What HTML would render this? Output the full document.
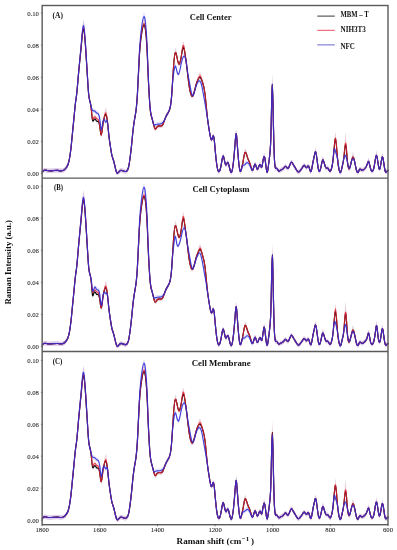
<!DOCTYPE html>
<html><head><meta charset="utf-8"><style>
html,body{margin:0;padding:0;background:#fff;}
svg{display:block;filter:blur(0.3px);}
.ln{fill:none;stroke-width:1.15;stroke-linejoin:round;stroke-linecap:round;}
.tk{font-family:"Liberation Serif",serif;font-size:6.7px;fill:#1a1a1a;stroke:#444;stroke-width:0.08px;}
.bt{font-family:"Liberation Serif",serif;font-weight:bold;fill:#111;}
</style></head><body>
<svg width="397" height="550" viewBox="0 0 397 550">
<rect width="397" height="550" fill="#fff"/>
<path d="M42.3 169.8C42.8 169.2 43.3 168.7 43.8 168.4C44.3 168.1 44.9 168 45.4 168.1C45.9 168.2 46.5 168.4 47 168.5C47.6 168.6 48.2 168.7 48.8 168.8C49.4 168.8 50 168.8 50.6 168.8C51.2 168.8 51.7 168.7 52.3 168.7C52.9 168.6 53.4 168.6 54 168.5C54.6 168.4 55.1 168.4 55.7 168.4C56.3 168.4 56.8 168.4 57.4 168.4C58 168.4 58.7 168.5 59.3 168.6C59.9 168.7 60.6 168.8 61.2 168.8C62.2 168.8 63.2 168.6 64.2 167.9C64.9 167.4 65.7 166.5 66.4 165.5C66.9 164.8 67.5 164 68 162.5C68.5 161.1 69 159.2 69.5 156.5C70 153.8 70.5 150.3 71 145.9C71.5 141.4 72 136 72.5 130.8C73 125.7 73.5 120.9 74 115.6C74.5 110.4 75 104.7 75.5 100.7C75.87 97.8 76.23 95.9 76.6 92.9C77.27 87.4 77.93 78.4 78.6 71.1C79.43 61.8 80.27 55.5 81.1 45.2C81.93 34.9 82.77 18 83.6 19C84.27 19.9 84.93 32.7 85.6 44.2C86.13 53.4 86.67 62 87.2 71C87.7 79.4 88.2 88 88.7 92.8C89.33 98.9 89.97 98.7 90.6 102.1C90.9 103.7 91.2 106.1 91.5 109.2C91.77 112 92.03 115.3 92.3 117.2C92.8 120.6 93.3 118.9 93.8 117.9C94.3 117 94.8 116.7 95.3 117.2C95.8 117.7 96.3 119 96.8 119.3C97.3 119.6 97.8 119 98.3 119.4C98.8 119.8 99.3 121.4 99.8 124.2C100.3 127 100.8 131.1 101.3 130.9C101.8 130.7 102.3 126.1 102.8 122.5C103.33 118.6 103.87 115.6 104.4 112.6C104.9 109.7 105.4 107 105.9 107.6C106.4 108.2 106.9 111.9 107.4 117.2C107.9 122.4 108.4 128.8 108.9 133.5C109.4 138.1 109.9 141.2 110.4 144.5C110.9 147.7 111.4 151.2 111.9 153.4C112.4 155.6 112.9 156.5 113.4 158C113.9 159.6 114.4 161.8 114.9 164C115.57 166.9 116.23 169.9 116.9 170.8C117.5 171.6 118.1 170.8 118.7 170.1C119.5 169.2 120.2 168.4 121 168.3C121.7 168.2 122.5 168.7 123.2 169C123.7 169.2 124.2 169.4 124.8 169.5C125.3 169.5 125.8 169.5 126.3 169.3C127.03 169 127.77 168.5 128.5 165.5C129 163.4 129.5 160.2 130 156.5C130.53 152.6 131.07 148.1 131.6 142.9C132.1 137.9 132.6 132.3 133.1 127.8C133.6 123.4 134.1 120.1 134.6 117.2C135.1 114.4 135.6 112 136.1 108.1C136.53 104.7 136.97 100.1 137.4 92.9C138.03 82.3 138.67 66.3 139.3 55.4C140.03 42.9 140.77 37.6 141.5 32C142.3 25.8 143.1 17.5 143.9 16.8C144.6 16.2 145.3 22.3 146 31.2C146.47 37.1 146.93 44.4 147.4 55.3C147.57 59.2 147.73 63.5 147.9 67.6C148.13 73.3 148.37 78.4 148.6 82.9C148.83 87.5 149.07 91.4 149.3 95.2C149.47 97.9 149.63 100.6 149.8 102.8C150.2 108.1 150.6 110.9 151 112.8C151.4 114.7 151.8 115.7 152.2 117.1C152.7 118.7 153.2 120.9 153.7 122.9C154.07 124.4 154.43 125.8 154.8 126.5C155.6 127.8 156.3 125.9 157.1 124.8C158.1 123.5 159.1 123.7 160.1 123.9C160.9 124.1 161.8 124.3 162.6 122.9C163.2 121.9 163.7 120.2 164.3 118.6C164.9 116.8 165.6 115.3 166.2 114C166.9 112.5 167.7 111.4 168.4 110.2C169 109.2 169.6 108.1 170.2 105.3C170.7 103 171.2 99.5 171.7 93.1C171.97 89.6 172.23 85.3 172.5 80.9C172.93 73.6 173.37 66 173.8 60C174.33 52.7 174.87 48.1 175.4 47.6C175.87 47.2 176.33 49.9 176.8 52.9C177.4 56.6 178 60.4 178.6 61.6C179.5 63.3 180.4 59.8 181.3 53.2C181.93 48.6 182.57 42.2 183.2 41.5C183.83 40.9 184.47 46 185.1 51C185.6 55 186.1 58.9 186.6 63.1C187.37 69.6 188.13 77 188.9 82.4C189.67 87.8 190.43 91.2 191.2 93C191.6 94 192 94.5 192.4 94.3C193 94 193.6 92.2 194.2 90C195 87.1 195.8 83.6 196.6 80.5C197.2 78.1 197.9 75.8 198.5 74.1C199.1 72.6 199.7 71.9 200.3 72.8C201 73.8 201.6 76.5 202.3 78.8C203.2 81.8 204.1 84.4 205 91.7C205.47 95.5 205.93 100.6 206.4 105.5C206.87 110.3 207.33 114.9 207.8 118.7C208.33 123 208.87 126.2 209.4 129.3C209.9 132.3 210.4 135.3 210.9 136.8C211.2 137.8 211.6 138.2 211.9 137.5C212.3 136.7 212.7 134.3 213.1 133.8C213.5 133.4 213.9 135 214.3 138.4C214.67 141.5 215.03 146.2 215.4 150.3C215.9 155.9 216.4 160.3 216.9 163.5C217.47 167.1 218.03 169.1 218.6 169.6C219.1 170 219.5 169.4 220 168C220.4 166.8 220.8 165 221.2 162.8C221.9 158.8 222.6 153.6 223.3 154C223.7 154.3 224.1 156.4 224.5 158.5C224.87 160.4 225.23 162.2 225.6 162.8C226.4 164 227.1 160 227.9 160.4C228.5 160.8 229.1 163.9 229.7 166.5C230.33 169.2 230.97 171.2 231.6 170.2C232.23 169.2 232.87 165.2 233.5 159.5C234 155 234.5 149.3 235 141.5C235.37 135.8 235.73 129 236.1 128.7C236.5 128.3 236.9 135.4 237.3 141.7C237.8 149.6 238.3 156.1 238.8 161C239.27 165.5 239.73 168.6 240.2 169.3C240.67 170 241.13 168.3 241.6 166.4C242.13 164.1 242.67 161.4 243.2 157.9C243.7 154.6 244.2 150.7 244.7 149.1C245.7 146 246.7 152.3 247.7 155.7C248.5 158.6 249.4 159.6 250.2 162.2C251 164.8 251.9 168.9 252.7 168.2C253.5 167.4 254.4 161.9 255.2 162.2C255.9 162.5 256.5 166.6 257.2 167.2C257.7 167.7 258.3 166 258.8 164.5C259.3 163.1 259.8 162 260.3 162.7C260.8 163.5 261.3 166.1 261.8 165.1C262.23 164.2 262.67 160.5 263.1 157.4C263.43 155 263.77 152.9 264.1 152.6C264.53 152.1 264.97 155 265.4 158.8C265.9 163.2 266.4 168.8 266.9 169.9C267.33 170.9 267.77 168.6 268.2 165.5C268.53 163.2 268.87 160.4 269.2 157.7C269.53 155 269.87 152.5 270.2 148.3C270.4 145.8 270.6 142.8 270.8 136.6C270.93 132.5 271.07 127 271.2 120.4C271.33 113.7 271.47 105.9 271.6 98.3C271.83 85.2 272.07 73.3 272.3 73.2C272.53 73.2 272.77 85 273 98.1C273.13 105.5 273.27 113.3 273.4 120.2C273.53 127.1 273.67 133.2 273.8 138.6C273.9 142.7 274 146.5 274.1 149.5C274.3 155.6 274.5 158.9 274.7 161.2C275.27 167.8 275.83 166.3 276.4 166.2C277.2 166.1 277.9 168.5 278.7 169C279.3 169.4 279.9 168.6 280.5 168.2C281 167.9 281.5 167.7 282 167.5C282.6 167.2 283.2 166.8 283.8 166C284.3 165.3 284.9 164.2 285.4 164.2C285.9 164.2 286.3 165 286.8 165.6C287.2 166.1 287.7 166.5 288.1 166.3C288.7 166 289.2 164.5 289.8 163C290.3 161.6 290.9 160.1 291.4 160C291.9 159.9 292.3 160.9 292.8 161.8C293.2 162.5 293.7 163.2 294.1 163.9C294.8 165 295.5 166.3 296.2 167.5C296.9 168.8 297.7 169.9 298.4 170C299 170 299.6 169.4 300.2 168.6C300.9 167.7 301.7 166.7 302.4 165.5C303 164.4 303.7 163.2 304.3 163.4C305 163.7 305.7 165.7 306.4 165.7C307.1 165.6 307.9 163.2 308.6 164.2C309.4 165.3 310.2 170.5 311 169.5C311.6 168.7 312.2 164.4 312.8 161.1C313.33 158.1 313.87 155.9 314.4 152.7C314.8 150.4 315.2 147.5 315.6 147.8C316.03 148.1 316.47 152.1 316.9 155.9C317.4 160.4 317.9 164.7 318.4 167C318.8 169 319.2 169.6 319.6 169.3C320.13 168.9 320.67 166.7 321.2 163.6C321.7 160.7 322.2 156.6 322.7 156C323.2 155.5 323.7 158.4 324.2 160.6C324.7 162.8 325.2 164.6 325.7 165.5C326.5 166.7 327.2 165.6 328 166.3C328.7 167.1 329.5 169.6 330.2 169.3C330.6 169.1 331.1 168 331.5 166.5C331.93 165.1 332.37 163.3 332.8 159.9C333.2 156.8 333.6 152.4 334 147.1C334.5 140.4 335 131.5 335.5 131.9C336.17 132.4 336.83 148.2 337.5 156.1C338.1 163.3 338.7 166.6 339.3 168.6C339.8 170.4 340.3 171.1 340.8 170.1C341.3 169 341.8 166.2 342.3 164.1C342.8 162 343.3 160.9 343.8 155.2C344.37 148.8 344.93 132.9 345.5 132.6C346.2 132.2 346.9 153.4 347.6 160.5C348.23 167 348.87 167.6 349.5 166.5C350.13 165.4 350.77 162.6 351.4 159C351.9 156.1 352.4 152.2 352.9 152C353.47 151.8 354.03 156 354.6 159.2C355.2 162.5 355.8 165.8 356.4 168C357 170.1 357.6 170.9 358.2 170.1C358.7 169.4 359.2 167.6 359.7 167.1C360.2 166.6 360.7 167.4 361.2 167.8C361.9 168.4 362.7 168.2 363.4 167.8C364.2 167.4 364.9 166.6 365.7 165.5C366.2 164.8 366.7 163.9 367.2 162.1C367.7 160.2 368.2 157 368.7 157.5C369.2 158.1 369.7 162.5 370.2 165.1C370.83 168.3 371.47 169.2 372.1 169.3C372.73 169.4 373.37 168.6 374 165.4C374.5 163 375 159 375.5 155.3C375.87 152.6 376.23 150.1 376.6 150.5C377 151 377.4 155 377.8 158.5C378.3 162.8 378.8 166.4 379.3 167.1C379.8 167.7 380.3 165.6 380.8 162.1C381.3 158.7 381.8 153.5 382.3 153C382.8 152.6 383.3 156.8 383.8 160.7C384.2 163.8 384.6 166.9 385 168.5C385.63 171.1 386.27 169.9 386.9 169.3C387.3 168.9 387.7 168.8 388.1 168.6L388.1 172.6C387.7 172.8 387.3 172.9 386.9 173.3C386.27 173.9 385.63 175.1 385 172.5C384.6 170.9 384.2 167.8 383.8 165C383.3 161.5 382.8 158.6 382.3 159C381.8 159.5 381.3 163.4 380.8 166.5C380.3 169.5 379.8 171.7 379.3 171.1C378.8 170.4 378.3 166.9 377.8 163.5C377.4 160.7 377 158 376.6 157.5C376.23 157.1 375.87 158.5 375.5 160.5C375 163.2 374.5 167 374 169.4C373.37 172.5 372.73 173.4 372.1 173.3C371.47 173.2 370.83 172.1 370.2 169.4C369.7 167.3 369.2 164.1 368.7 163.5C368.2 163 367.7 165 367.2 166.4C366.7 167.9 366.2 168.8 365.7 169.5C364.9 170.6 364.2 171.4 363.4 171.8C362.7 172.2 361.9 172.4 361.2 171.8C360.7 171.4 360.2 170.6 359.7 171.1C359.2 171.6 358.7 173.4 358.2 174.1C357.6 174.9 357 174.1 356.4 172C355.8 169.8 355.2 166.3 354.6 163.5C354.03 160.8 353.47 158.8 352.9 159C352.4 159.2 351.9 161.3 351.4 163.5C350.77 166.3 350.13 169.4 349.5 170.5C348.87 171.6 348.23 170.6 347.6 164.9C346.9 158.5 346.2 146.2 345.5 146.6C344.93 146.9 344.37 155.4 343.8 160.3C343.3 164.6 342.8 166 342.3 168.1C341.8 170.2 341.3 173 340.8 174.1C340.3 175.1 339.8 174.4 339.3 172.6C338.7 170.6 338.1 167.1 337.5 160.4C336.83 152.9 336.17 141.4 335.5 140.9C335 140.5 334.5 146.3 334 151.9C333.6 156.4 333.2 160.8 332.8 163.9C332.37 167.3 331.93 169.1 331.5 170.5C331.1 172 330.6 173.1 330.2 173.3C329.5 173.6 328.7 171.1 328 170.3C327.2 169.6 326.5 170.7 325.7 169.5C325.2 168.6 324.7 166.8 324.2 165C323.7 163.2 323.2 161.5 322.7 162C322.2 162.6 321.7 165.5 321.2 168C320.67 170.6 320.13 172.9 319.6 173.3C319.2 173.6 318.8 173 318.4 171.1C317.9 168.7 317.4 164.4 316.9 160.5C316.47 157.1 316.03 154.1 315.6 153.8C315.2 153.5 314.8 155.5 314.4 157.4C313.87 159.9 313.33 162.1 312.8 165.1C312.2 168.4 311.6 172.7 311 173.5C310.2 174.5 309.4 169.3 308.6 168.2C307.9 167.2 307.1 169.6 306.4 169.7C305.7 169.7 305 167.7 304.3 167.4C303.7 167.2 303 168.4 302.4 169.5C301.7 170.7 300.9 171.7 300.2 172.6C299.6 173.4 299 174 298.4 174C297.7 173.9 296.9 172.8 296.2 171.5C295.5 170.3 294.8 169 294.1 167.9C293.7 167.2 293.2 166.5 292.8 165.8C292.3 164.9 291.9 163.9 291.4 164C290.9 164.1 290.3 165.6 289.8 167C289.2 168.5 288.7 170 288.1 170.3C287.7 170.5 287.2 170.1 286.8 169.6C286.3 169 285.9 168.2 285.4 168.2C284.9 168.2 284.3 169.3 283.8 170C283.2 170.8 282.6 171.2 282 171.5C281.5 171.7 281 171.9 280.5 172.2C279.9 172.6 279.3 173.4 278.7 173C277.9 172.5 277.2 170.1 276.4 170.2C275.83 170.3 275.27 171.8 274.7 165.2C274.5 162.9 274.3 159.6 274.1 153.6C274 150.6 273.9 146.9 273.8 143C273.67 137.8 273.53 132.1 273.4 125.9C273.27 119.7 273.13 112.9 273 106.6C272.77 95.6 272.53 86.2 272.3 86.2C272.07 86.3 271.83 95.8 271.6 106.9C271.47 113.2 271.33 120.1 271.2 126.1C271.07 132 270.93 137.2 270.8 141C270.6 146.8 270.4 149.9 270.2 152.3C269.87 156.4 269.53 159 269.2 161.7C268.87 164.4 268.53 167.2 268.2 169.5C267.77 172.6 267.33 174.9 266.9 173.9C266.4 172.8 265.9 167.3 265.4 163.6C264.97 160.3 264.53 158.3 264.1 158.5C263.77 158.7 263.43 160.1 263.1 162.1C262.67 164.7 262.23 168.3 261.8 169.1C261.3 170.1 260.8 167.5 260.3 166.7C259.8 166 259.3 167.1 258.8 168.5C258.3 170 257.7 171.7 257.2 171.2C256.5 170.6 255.9 166.5 255.2 166.2C254.4 165.9 253.5 171.4 252.7 172.2C251.9 172.9 251 168.8 250.2 166.2C249.4 163.6 248.5 162.5 247.7 160.1C246.7 157.1 245.7 152.2 244.7 155.1C244.2 156.6 243.7 160.1 243.2 162.9C242.67 166 242.13 168.4 241.6 170.6C241.1 172.4 240.7 174 240.2 173.3C239.73 172.6 239.27 169.5 238.8 165C238.3 160.2 237.8 153.7 237.3 146.7C236.9 141.1 236.5 135.3 236.1 135.7C235.73 136 235.37 141.7 235 146.6C234.5 153.4 234 159 233.5 163.5C232.87 169.2 232.23 173.2 231.6 174.2C230.97 175.2 230.33 173.2 229.7 170.5C229.1 167.9 228.5 164.8 227.9 164.4C227.1 164 226.4 168 225.6 166.8C225.23 166.2 224.87 164.4 224.5 162.5C224.1 160.4 223.7 158.3 223.3 158C222.6 157.6 221.9 162.8 221.2 166.8C220.8 169 220.4 170.8 220 172C219.5 173.4 219.1 174 218.6 173.6C218.03 173.1 217.47 171.1 216.9 167.5C216.4 164.3 215.9 159.9 215.4 154.3C215.03 150.2 214.67 145.5 214.3 142.4C213.9 139 213.5 137.4 213.1 137.8C212.7 138.3 212.3 140.7 211.9 141.5C211.6 142.2 211.2 141.8 210.9 140.8C210.4 139.3 209.9 136.3 209.4 133.3C208.87 130.2 208.33 127 207.8 122.7C207.33 118.9 206.87 114.3 206.4 109.5C205.93 104.6 205.47 99.5 205 95.7C204.1 88.4 203.2 85.9 202.3 83.5C201.6 81.7 201 80 200.3 79.5C199.7 79 199.1 79.6 198.5 80.5C197.9 81.5 197.2 83 196.6 85C195.8 87.6 195 91.1 194.2 94C193.6 96.2 193 98 192.4 98.3C192 98.5 191.6 98 191.2 97C190.43 95.2 189.67 91.8 188.9 86.4C188.13 81 187.37 73.6 186.6 67.2C186.1 63.1 185.6 59.4 185.1 56.2C184.47 52.1 183.83 48.9 183.2 49.5C182.57 50.2 181.93 54.7 181.3 58.4C180.4 63.6 179.5 67.3 178.6 65.7C178 64.6 177.4 61.3 176.8 58.4C176.33 56.1 175.87 54.2 175.4 54.6C174.87 55.1 174.33 58.7 173.8 65.3C173.37 70.6 172.93 77.9 172.5 85C172.23 89.4 171.97 93.7 171.7 97.1C171.2 103.5 170.7 107 170.2 109.3C169.6 112.1 169 113.2 168.4 114.2C167.7 115.4 166.9 116.5 166.2 118C165.6 119.3 164.9 120.8 164.3 122.6C163.7 124.2 163.2 125.9 162.6 126.9C161.8 128.3 160.9 128.1 160.1 127.9C159.1 127.7 158.1 127.5 157.1 128.8C156.3 129.9 155.6 131.8 154.8 130.5C154.43 129.8 154.07 128.4 153.7 126.9C153.2 124.9 152.7 122.7 152.2 121.1C151.8 119.7 151.4 118.7 151 116.8C150.6 114.9 150.2 112.1 149.8 106.8C149.63 104.6 149.47 101.9 149.3 99.2C149.07 95.4 148.83 91.5 148.6 86.9C148.37 82.4 148.13 77.3 147.9 71.6C147.73 67.6 147.57 63.3 147.4 59.4C146.93 48.6 146.47 41.6 146 36.7C145.3 29.3 144.6 26.5 143.9 26.8C143.1 27.1 142.3 31.5 141.5 36.7C140.77 41.4 140.03 46.9 139.3 59.4C138.67 70.3 138.03 86.3 137.4 96.9C136.97 104.1 136.53 108.7 136.1 112.1C135.6 116 135.1 118.4 134.6 121.2C134.1 124.1 133.6 127.4 133.1 131.8C132.6 136.3 132.1 141.9 131.6 146.9C131.07 152.1 130.53 156.6 130 160.5C129.5 164.2 129 167.4 128.5 169.5C127.77 172.5 127.03 173 126.3 173.3C125.8 173.5 125.3 173.5 124.8 173.5C124.2 173.4 123.7 173.2 123.2 173C122.5 172.7 121.7 172.2 121 172.3C120.2 172.4 119.5 173.2 118.7 174.1C118.1 174.8 117.5 175.6 116.9 174.8C116.23 173.9 115.57 170.9 114.9 168C114.4 165.8 113.9 163.6 113.4 162C112.9 160.5 112.4 159.6 111.9 157.4C111.4 155.2 110.9 151.7 110.4 148.5C109.9 145.2 109.4 142.1 108.9 137.7C108.4 133.3 107.9 127.5 107.4 123.5C106.9 119.4 106.4 117.2 105.9 116.6C105.4 116 104.9 117.2 104.4 118.9C103.87 120.7 103.33 123.1 102.8 127.3C102.3 131.3 101.8 136.7 101.3 136.9C100.8 137.1 100.3 132.1 99.8 128.8C99.3 125.5 98.8 123.9 98.3 123.4C97.8 123 97.3 123.6 96.8 123.3C96.3 123 95.8 121.7 95.3 121.2C94.8 120.7 94.3 121 93.8 121.9C93.3 122.9 92.8 124.6 92.3 121.2C92.03 119.3 91.77 116 91.5 113.2C91.2 110.1 90.9 107.7 90.6 106.1C89.97 102.7 89.33 102.9 88.7 96.8C88.2 92 87.7 83.4 87.2 75.1C86.67 66.2 86.13 57.9 85.6 50.2C84.93 40.5 84.27 31.9 83.6 31C82.77 30 81.93 41.2 81.1 50.1C80.27 59.1 79.43 65.8 78.6 75.1C77.93 82.4 77.27 91.4 76.6 96.9C76.23 99.9 75.87 101.8 75.5 104.7C75 108.7 74.5 114.4 74 119.6C73.5 124.9 73 129.7 72.5 134.8C72 140 71.5 145.4 71 149.9C70.5 154.3 70 157.8 69.5 160.5C69 163.2 68.5 165.1 68 166.5C67.5 168 66.9 168.8 66.4 169.5C65.7 170.5 64.9 171.4 64.2 171.9C63.2 172.6 62.2 172.8 61.2 172.8C60.6 172.8 59.9 172.7 59.3 172.6C58.7 172.5 58 172.4 57.4 172.4C56.8 172.4 56.3 172.4 55.7 172.4C55.1 172.4 54.6 172.4 54 172.5C53.4 172.6 52.9 172.6 52.3 172.7C51.7 172.7 51.2 172.8 50.6 172.8C50 172.8 49.4 172.8 48.8 172.8C48.2 172.7 47.6 172.6 47 172.5C46.5 172.4 45.9 172.2 45.4 172.1C44.9 172 44.3 172.1 43.8 172.4C43.3 172.7 42.8 173.2 42.3 173.8Z" fill="#d4d0dc" fill-opacity="0.6"/>
<path d="M42.3 169.6C42.8 169 43.3 168.5 43.8 168.2C44.3 167.9 44.9 167.8 45.4 167.9C45.9 168 46.5 168.2 47 168.3C47.6 168.4 48.2 168.5 48.8 168.6C49.4 168.6 50 168.6 50.6 168.6C51.2 168.6 51.7 168.5 52.3 168.5C52.9 168.4 53.4 168.4 54 168.3C54.6 168.2 55.1 168.2 55.7 168.2C56.3 168.2 56.8 168.2 57.4 168.2C58 168.2 58.7 168.3 59.3 168.4C59.9 168.5 60.6 168.6 61.2 168.6C62.2 168.6 63.2 168.4 64.2 167.7C64.9 167.2 65.7 166.3 66.4 165.3C66.9 164.6 67.5 163.8 68 162.3C68.5 160.9 69 159 69.5 156.3C70 153.6 70.5 150.1 71 145.7C71.5 141.2 72 135.8 72.5 130.6C73 125.5 73.5 120.7 74 115.4C74.5 110.2 75 104.5 75.5 100.5C75.87 97.6 76.23 95.6 76.6 92.6C77.27 87 77.93 78 78.6 70.5C79.43 61.1 80.27 54.4 81.1 44.5C81.93 34.6 82.77 20.3 83.6 21.4C84.27 22.2 84.93 33.1 85.6 43.9C86.13 52.5 86.67 61.2 87.2 70.2C87.7 78.7 88.2 87.5 88.7 92.4C89.33 98.5 89.97 98.3 90.6 101.8C90.9 103.5 91.2 106 91.5 108.9C91.77 111.4 92.03 114.2 92.3 115.7C92.8 118.4 93.3 116.4 93.8 115.4C94.3 114.4 94.8 114.3 95.3 114.8C95.8 115.3 96.3 116.5 96.8 116.7C97.3 117 97.8 116.4 98.3 117.3C98.8 118.3 99.3 120.8 99.8 124.3C100.3 127.7 100.8 132.1 101.3 131.7C101.8 131.4 102.3 126.4 102.8 122.7C103.33 118.8 103.87 116.4 104.4 113.5C104.9 110.7 105.4 107.8 105.9 108.3C106.4 108.9 106.9 113 107.4 118.1C107.9 123.1 108.4 129 108.9 133.4C109.4 137.9 109.9 140.9 110.4 144.2C110.9 147.6 111.4 151 111.9 153.2C112.4 155.4 112.9 156.3 113.4 157.8C113.9 159.4 114.4 161.6 114.9 163.8C115.57 166.7 116.23 169.7 116.9 170.6C117.5 171.4 118.1 170.6 118.7 169.9C119.5 169 120.2 168.2 121 168.1C121.7 168 122.5 168.5 123.2 168.8C123.7 169 124.2 169.2 124.8 169.3C125.3 169.3 125.8 169.3 126.3 169.1C127.03 168.8 127.77 168.3 128.5 165.3C129 163.2 129.5 160 130 156.3C130.53 152.4 131.07 147.9 131.6 142.7C132.1 137.7 132.6 132.1 133.1 127.6C133.6 123.2 134.1 119.8 134.6 117C135.1 114.1 135.6 111.8 136.1 107.8C136.53 104.4 136.97 99.7 137.4 92.5C138.03 81.9 138.67 65.7 139.3 54.7C140.03 42 140.77 36.4 141.5 31.1C142.3 25.2 143.1 18.8 143.9 18.3C144.6 17.8 145.3 22.3 146 30.6C146.47 36.2 146.93 43.5 147.4 54.4C147.57 58.4 147.73 62.8 147.9 66.8C148.13 72.6 148.37 77.7 148.6 82.3C148.83 86.9 149.07 90.9 149.3 94.8C149.47 97.5 149.63 100.2 149.8 102.4C150.2 107.7 150.6 110.6 151 112.5C151.4 114.4 151.8 115.5 152.2 116.8C152.7 118.5 153.2 120.7 153.7 122.7C154.07 124.2 154.43 125.6 154.8 126.3C155.6 127.6 156.3 125.7 157.1 124.6C158.1 123.3 159.1 123.5 160.1 123.7C160.9 123.9 161.8 124.1 162.6 122.7C163.2 121.7 163.7 120 164.3 118.4C164.9 116.6 165.6 115.1 166.2 113.8C166.9 112.3 167.7 111.2 168.4 110C169 109 169.6 107.9 170.2 105.1C170.7 102.8 171.2 99.3 171.7 92.9C171.97 89.4 172.23 85.1 172.5 80.7C172.93 73.6 173.37 66.1 173.8 60.4C174.33 53.5 174.87 49.4 175.4 48.9C175.87 48.5 176.33 50.9 176.8 53.4C177.4 56.7 178 60.2 178.6 61.4C179.5 63.3 180.4 60.4 181.3 53.6C181.93 48.8 182.57 41.9 183.2 41.3C183.83 40.7 184.47 46.4 185.1 51.4C185.6 55.3 186.1 58.9 186.6 63C187.37 69.2 188.13 76.7 188.9 82.2C189.67 87.6 190.43 91 191.2 92.8C191.6 93.8 192 94.3 192.4 94.1C193 93.8 193.6 92 194.2 89.8C195 86.9 195.8 83.2 196.6 80.6C197.2 78.4 197.9 76.8 198.5 75.1C199.1 73.4 199.7 71.8 200.3 72.5C201 73.1 201.6 76.4 202.3 78.9C203.2 82.3 204.1 84.3 205 91.5C205.47 95.3 205.93 100.4 206.4 105.3C206.87 110.1 207.33 114.7 207.8 118.5C208.33 122.8 208.87 126 209.4 129.1C209.9 132.1 210.4 135.1 210.9 136.6C211.2 137.6 211.6 138 211.9 137.3C212.3 136.5 212.7 134.1 213.1 133.6C213.5 133.2 213.9 134.8 214.3 138.2C214.67 141.3 215.03 146 215.4 150.1C215.9 155.7 216.4 160.1 216.9 163.3C217.47 166.9 218.03 168.9 218.6 169.4C219.1 169.8 219.5 169.2 220 167.8C220.4 166.6 220.8 164.8 221.2 162.6C221.9 158.6 222.6 153.4 223.3 153.8C223.7 154.1 224.1 156.2 224.5 158.3C224.87 160.2 225.23 162 225.6 162.6C226.4 163.8 227.1 159.8 227.9 160.2C228.5 160.6 229.1 163.7 229.7 166.3C230.33 169 230.97 171 231.6 170C232.23 169 232.87 165 233.5 159.3C234 154.8 234.5 149.1 235 141.8C235.37 136.5 235.73 130.3 236.1 130C236.5 129.6 236.9 136.1 237.3 142C237.8 149.4 238.3 155.9 238.8 160.8C239.27 165.3 239.73 168.4 240.2 169.1C240.67 169.8 241.13 168.2 241.6 166.3C242.13 164.1 242.67 161.5 243.2 158.2C243.7 155.1 244.2 151.5 244.7 149.9C245.7 146.9 246.7 152.5 247.7 155.7C248.5 158.3 249.4 159.4 250.2 162C251 164.6 251.9 168.7 252.7 168C253.5 167.2 254.4 161.7 255.2 162C255.9 162.3 256.5 166.4 257.2 167C257.7 167.5 258.3 165.8 258.8 164.3C259.3 162.9 259.8 161.8 260.3 162.5C260.8 163.3 261.3 165.9 261.8 164.9C262.23 164 262.67 160.4 263.1 157.5C263.43 155.3 263.77 153.6 264.1 153.4C264.53 153 264.97 155.4 265.4 159C265.9 163.1 266.4 168.6 266.9 169.7C267.33 170.7 267.77 168.4 268.2 165.3C268.53 163 268.87 160.2 269.2 157.5C269.53 154.8 269.87 152.3 270.2 148.1C270.4 145.6 270.6 142.6 270.8 136.6C270.93 132.6 271.07 127.3 271.2 121C271.33 114.7 271.47 107.4 271.6 100.4C271.83 88.3 272.07 77.6 272.3 77.5C272.53 77.5 272.77 88.1 273 100.1C273.13 107 273.27 114.3 273.4 120.9C273.53 127.4 273.67 133.3 273.8 138.6C273.9 142.6 274 146.3 274.1 149.4C274.3 155.4 274.5 158.7 274.7 161C275.27 167.6 275.83 166.1 276.4 166C277.2 165.9 277.9 168.3 278.7 168.8C279.3 169.2 279.9 168.4 280.5 168C281 167.7 281.5 167.5 282 167.3C282.6 167 283.2 166.6 283.8 165.8C284.3 165.1 284.9 164 285.4 164C285.9 164 286.3 164.8 286.8 165.4C287.2 165.9 287.7 166.3 288.1 166.1C288.7 165.8 289.2 164.3 289.8 162.8C290.3 161.4 290.9 159.9 291.4 159.8C291.9 159.7 292.3 160.7 292.8 161.6C293.2 162.3 293.7 163 294.1 163.7C294.8 164.8 295.5 166.1 296.2 167.3C296.9 168.6 297.7 169.7 298.4 169.8C299 169.8 299.6 169.2 300.2 168.4C300.9 167.5 301.7 166.5 302.4 165.3C303 164.2 303.7 163 304.3 163.2C305 163.5 305.7 165.5 306.4 165.5C307.1 165.4 307.9 163 308.6 164C309.4 165.1 310.2 170.3 311 169.3C311.6 168.5 312.2 164.2 312.8 160.9C313.33 157.9 313.87 155.7 314.4 152.9C314.8 150.8 315.2 148.3 315.6 148.6C316.03 148.9 316.47 152.4 316.9 156C317.4 160.2 317.9 164.5 318.4 166.8C318.8 168.8 319.2 169.4 319.6 169.1C320.13 168.7 320.67 166.5 321.2 163.6C321.7 160.9 322.2 157.4 322.7 156.8C323.2 156.3 323.7 158.6 324.2 160.6C324.7 162.6 325.2 164.4 325.7 165.3C326.5 166.5 327.2 165.4 328 166.1C328.7 166.9 329.5 169.4 330.2 169.1C330.6 168.9 331.1 167.8 331.5 166.3C331.93 164.9 332.37 163.1 332.8 159.7C333.2 156.7 333.6 152.3 334 147.3C334.5 141 335 133.1 335.5 133.4C336.17 133.8 336.83 148.1 337.5 156C338.1 163.2 338.7 166.4 339.3 168.4C339.8 170.1 340.3 170.9 340.8 169.9C341.3 168.8 341.8 166 342.3 163.9C342.8 161.9 343.3 160.8 343.8 155.5C344.37 149.5 344.93 136.3 345.5 135.9C346.2 135.4 346.9 153.3 347.6 160.5C348.23 167 348.87 167.5 349.5 166.3C350.13 165.1 350.77 162.2 351.4 159C351.9 156.5 352.4 153.5 352.9 153.3C353.47 153.1 354.03 156.2 354.6 159.1C355.2 162.2 355.8 165.6 356.4 167.8C357 169.9 357.6 170.7 358.2 169.9C358.7 169.2 359.2 167.4 359.7 166.9C360.2 166.4 360.7 167.2 361.2 167.6C361.9 168.2 362.7 168 363.4 167.6C364.2 167.2 364.9 166.4 365.7 165.3C366.2 164.6 366.7 163.7 367.2 162.1C367.7 160.4 368.2 157.8 368.7 158.3C369.2 158.9 369.7 162.7 370.2 165.1C370.83 168 371.47 169 372.1 169.1C372.73 169.2 373.37 168.3 374 165.2C374.5 162.8 375 158.9 375.5 155.7C375.87 153.3 376.23 151.4 376.6 151.8C377 152.3 377.4 155.7 377.8 158.8C378.3 162.7 378.8 166.2 379.3 166.9C379.8 167.5 380.3 165.3 380.8 162.1C381.3 158.8 381.8 154.3 382.3 153.8C382.8 153.4 383.3 157 383.8 160.6C384.2 163.6 384.6 166.7 385 168.3C385.63 170.9 386.27 169.7 386.9 169.1C387.3 168.7 387.7 168.6 388.1 168.4L388.1 172.8C387.7 173 387.3 173.1 386.9 173.5C386.27 174.1 385.63 175.3 385 172.7C384.6 171.1 384.2 168 383.8 165.2C383.3 161.7 382.8 158.8 382.3 159.2C381.8 159.7 381.3 163.6 380.8 166.7C380.3 169.7 379.8 171.9 379.3 171.3C378.8 170.6 378.3 167.1 377.8 163.7C377.4 160.9 377 158.2 376.6 157.7C376.23 157.3 375.87 158.7 375.5 160.7C375 163.4 374.5 167.2 374 169.6C373.37 172.7 372.73 173.6 372.1 173.5C371.47 173.4 370.83 172.3 370.2 169.6C369.7 167.5 369.2 164.3 368.7 163.7C368.2 163.2 367.7 165.2 367.2 166.6C366.7 168.1 366.2 169 365.7 169.7C364.9 170.8 364.2 171.6 363.4 172C362.7 172.4 361.9 172.6 361.2 172C360.7 171.6 360.2 170.8 359.7 171.3C359.2 171.8 358.7 173.6 358.2 174.3C357.6 175.1 357 174.3 356.4 172.2C355.8 170 355.2 166.5 354.6 163.7C354.03 161 353.47 159 352.9 159.2C352.4 159.4 351.9 161.5 351.4 163.7C350.77 166.5 350.13 169.5 349.5 170.7C348.87 171.9 348.23 171.2 347.6 165C346.9 158.2 346.2 144.8 345.5 145.3C344.93 145.7 344.37 155.3 343.8 160.5C343.3 165.1 342.8 166.3 342.3 168.3C341.8 170.4 341.3 173.2 340.8 174.3C340.3 175.3 339.8 174.5 339.3 172.8C338.7 170.8 338.1 167.5 337.5 160.6C336.83 152.8 336.17 140.7 335.5 140.3C335 140 334.5 146.3 334 152.1C333.6 156.8 333.2 161.1 332.8 164.1C332.37 167.4 331.93 169.3 331.5 170.7C331.1 172.2 330.6 173.3 330.2 173.5C329.5 173.8 328.7 171.3 328 170.5C327.2 169.8 326.5 170.9 325.7 169.7C325.2 168.8 324.7 167 324.2 165.2C323.7 163.4 323.2 161.7 322.7 162.2C322.2 162.8 321.7 165.7 321.2 168.2C320.67 170.8 320.13 173.1 319.6 173.5C319.2 173.8 318.8 173.2 318.4 171.3C317.9 168.9 317.4 164.6 316.9 160.7C316.47 157.3 316.03 154.3 315.6 154C315.2 153.7 314.8 155.7 314.4 157.6C313.87 160.1 313.33 162.3 312.8 165.3C312.2 168.6 311.6 172.9 311 173.7C310.2 174.7 309.4 169.5 308.6 168.4C307.9 167.4 307.1 169.8 306.4 169.9C305.7 169.9 305 167.9 304.3 167.6C303.7 167.4 303 168.6 302.4 169.7C301.7 170.9 300.9 171.9 300.2 172.8C299.6 173.6 299 174.2 298.4 174.2C297.7 174.1 296.9 173 296.2 171.7C295.5 170.5 294.8 169.2 294.1 168.1C293.7 167.4 293.2 166.7 292.8 166C292.3 165.1 291.9 164.1 291.4 164.2C290.9 164.3 290.3 165.8 289.8 167.2C289.2 168.7 288.7 170.2 288.1 170.5C287.7 170.7 287.2 170.3 286.8 169.8C286.3 169.2 285.9 168.4 285.4 168.4C284.9 168.4 284.3 169.5 283.8 170.2C283.2 171 282.6 171.4 282 171.7C281.5 171.9 281 172.1 280.5 172.4C279.9 172.8 279.3 173.6 278.7 173.2C277.9 172.7 277.2 170.3 276.4 170.4C275.83 170.5 275.27 172 274.7 165.4C274.5 163.1 274.3 159.8 274.1 153.8C274 150.8 273.9 147.1 273.8 143.2C273.67 138 273.53 132.3 273.4 126.1C273.27 119.9 273.13 113.1 273 106.8C272.77 95.8 272.53 86.4 272.3 86.4C272.07 86.5 271.83 96 271.6 107.1C271.47 113.4 271.33 120.3 271.2 126.3C271.07 132.2 270.93 137.4 270.8 141.2C270.6 147 270.4 150.1 270.2 152.5C269.87 156.6 269.53 159.2 269.2 161.9C268.87 164.6 268.53 167.4 268.2 169.7C267.77 172.8 267.33 175.1 266.9 174.1C266.4 173 265.9 167.5 265.4 163.8C264.97 160.5 264.53 158.5 264.1 158.7C263.77 158.9 263.43 160.3 263.1 162.3C262.67 164.9 262.23 168.5 261.8 169.3C261.3 170.3 260.8 167.7 260.3 166.9C259.8 166.2 259.3 167.3 258.8 168.7C258.3 170.2 257.7 171.9 257.2 171.4C256.5 170.8 255.9 166.7 255.2 166.4C254.4 166.1 253.5 171.6 252.7 172.4C251.9 173.1 251 169 250.2 166.4C249.4 163.8 248.5 162.7 247.7 160.3C246.7 157.3 245.7 152.4 244.7 155.3C244.2 156.8 243.7 160.3 243.2 163.1C242.67 166.2 242.13 168.6 241.6 170.8C241.1 172.6 240.7 174.2 240.2 173.5C239.73 172.8 239.27 169.7 238.8 165.2C238.3 160.4 237.8 153.9 237.3 146.9C236.9 141.3 236.5 135.5 236.1 135.9C235.73 136.2 235.37 141.9 235 146.8C234.5 153.6 234 159.2 233.5 163.7C232.87 169.4 232.23 173.4 231.6 174.4C230.97 175.4 230.33 173.4 229.7 170.7C229.1 168.1 228.5 165 227.9 164.6C227.1 164.2 226.4 168.2 225.6 167C225.23 166.4 224.87 164.6 224.5 162.7C224.1 160.6 223.7 158.5 223.3 158.2C222.6 157.8 221.9 163 221.2 167C220.8 169.2 220.4 171 220 172.2C219.5 173.6 219.1 174.2 218.6 173.8C218.03 173.3 217.47 171.3 216.9 167.7C216.4 164.5 215.9 160.1 215.4 154.5C215.03 150.4 214.67 145.7 214.3 142.6C213.9 139.2 213.5 137.6 213.1 138C212.7 138.5 212.3 140.9 211.9 141.7C211.6 142.4 211.2 142 210.9 141C210.4 139.5 209.9 136.5 209.4 133.5C208.87 130.4 208.33 127.2 207.8 122.9C207.33 119.1 206.87 114.5 206.4 109.7C205.93 104.8 205.47 99.7 205 96C204.1 88.7 203.2 86.7 202.3 83.7C201.6 81.4 201 78.6 200.3 78.2C199.7 77.8 199.1 79.3 198.5 80.7C197.9 82.1 197.2 83.3 196.6 85.2C195.8 87.7 195 91.3 194.2 94.2C193.6 96.4 193 98.2 192.4 98.5C192 98.7 191.6 98.2 191.2 97.2C190.43 95.4 189.67 92 188.9 86.6C188.13 81.1 187.37 73.6 186.6 67.4C186.1 63.4 185.6 59.9 185.1 56.3C184.47 51.8 183.83 47.1 183.2 47.7C182.57 48.3 181.93 54.2 181.3 58.5C180.4 64.7 179.5 67.7 178.6 65.9C178 64.7 177.4 61.4 176.8 58.6C176.33 56.4 175.87 54.4 175.4 54.8C174.87 55.3 174.33 58.9 173.8 65.5C173.37 70.8 172.93 78.1 172.5 85.2C172.23 89.6 171.97 93.9 171.7 97.3C171.2 103.7 170.7 107.2 170.2 109.5C169.6 112.3 169 113.4 168.4 114.4C167.7 115.6 166.9 116.7 166.2 118.2C165.6 119.5 164.9 121 164.3 122.8C163.7 124.4 163.2 126.1 162.6 127.1C161.8 128.5 160.9 128.3 160.1 128.1C159.1 127.9 158.1 127.7 157.1 129C156.3 130.1 155.6 132 154.8 130.7C154.43 130 154.07 128.6 153.7 127.1C153.2 125.1 152.7 122.9 152.2 121.2C151.8 119.9 151.4 118.8 151 116.9C150.6 115 150.2 112.1 149.8 106.8C149.63 104.6 149.47 101.9 149.3 99.2C149.07 95.3 148.83 91.3 148.6 86.7C148.37 82.1 148.13 77 147.9 71.3C147.73 67.2 147.57 62.8 147.4 58.9C146.93 48 146.47 40.8 146 35.8C145.3 28.2 144.6 25.4 143.9 25.7C143.1 26 142.3 30.5 141.5 35.8C140.77 40.7 140.03 46.4 139.3 59.1C138.67 70.1 138.03 86.3 137.4 96.9C136.97 104.1 136.53 108.8 136.1 112.2C135.6 116.2 135.1 118.5 134.6 121.4C134.1 124.2 133.6 127.6 133.1 132C132.6 136.5 132.1 142.1 131.6 147.1C131.07 152.3 130.53 156.8 130 160.7C129.5 164.4 129 167.6 128.5 169.7C127.77 172.7 127.03 173.2 126.3 173.5C125.8 173.7 125.3 173.7 124.8 173.7C124.2 173.6 123.7 173.4 123.2 173.2C122.5 172.9 121.7 172.4 121 172.5C120.2 172.6 119.5 173.4 118.7 174.3C118.1 175 117.5 175.8 116.9 175C116.23 174.1 115.57 171.1 114.9 168.2C114.4 166 113.9 163.8 113.4 162.2C112.9 160.7 112.4 159.8 111.9 157.6C111.4 155.4 110.9 152 110.4 148.7C109.9 145.4 109.4 142.3 108.9 137.9C108.4 133.6 107.9 128.1 107.4 123.6C106.9 119.2 106.4 115.8 105.9 115.2C105.4 114.7 104.9 116.9 104.4 119C103.87 121.3 103.33 123.5 102.8 127.5C102.3 131.4 101.8 136.8 101.3 137.1C100.8 137.5 100.3 132.7 99.8 129C99.3 125.3 98.8 122.7 98.3 121.8C97.8 120.8 97.3 121.4 96.8 121.1C96.3 120.9 95.8 119.7 95.3 119.2C94.8 118.7 94.3 118.8 93.8 119.8C93.3 120.8 92.8 122.8 92.3 120.1C92.03 118.6 91.77 115.8 91.5 113.3C91.2 110.4 90.9 107.9 90.6 106.2C89.97 102.7 89.33 102.9 88.7 96.8C88.2 91.9 87.7 83.1 87.2 74.7C86.67 65.7 86.13 57.2 85.6 49.3C84.93 39.4 84.27 30.6 83.6 29.8C82.77 28.7 81.93 40.2 81.1 49.4C80.27 58.5 79.43 65.5 78.6 74.9C77.93 82.4 77.27 91.4 76.6 97C76.23 100 75.87 102 75.5 104.9C75 108.9 74.5 114.6 74 119.8C73.5 125.1 73 129.9 72.5 135C72 140.2 71.5 145.6 71 150.1C70.5 154.5 70 158 69.5 160.7C69 163.4 68.5 165.3 68 166.7C67.5 168.2 66.9 169 66.4 169.7C65.7 170.7 64.9 171.6 64.2 172.1C63.2 172.8 62.2 173 61.2 173C60.6 173 59.9 172.9 59.3 172.8C58.7 172.7 58 172.6 57.4 172.6C56.8 172.6 56.3 172.6 55.7 172.6C55.1 172.6 54.6 172.6 54 172.7C53.4 172.8 52.9 172.8 52.3 172.9C51.7 172.9 51.2 173 50.6 173C50 173 49.4 173 48.8 173C48.2 172.9 47.6 172.8 47 172.7C46.5 172.6 45.9 172.4 45.4 172.3C44.9 172.2 44.3 172.3 43.8 172.6C43.3 172.9 42.8 173.4 42.3 174Z" fill="#f8c0c8" fill-opacity="0.5"/>
<path d="M42.3 169.6C42.8 169 43.3 168.5 43.8 168.2C44.3 167.9 44.9 167.8 45.4 167.9C45.9 168 46.5 168.2 47 168.3C47.6 168.4 48.2 168.5 48.8 168.6C49.4 168.6 50 168.6 50.6 168.6C51.2 168.6 51.7 168.5 52.3 168.5C52.9 168.4 53.4 168.4 54 168.3C54.6 168.2 55.1 168.2 55.7 168.2C56.3 168.2 56.8 168.2 57.4 168.2C58 168.2 58.7 168.3 59.3 168.4C59.9 168.5 60.6 168.6 61.2 168.6C62.2 168.6 63.2 168.4 64.2 167.7C64.9 167.2 65.7 166.3 66.4 165.3C66.9 164.6 67.5 163.8 68 162.3C68.5 160.9 69 159 69.5 156.3C70 153.6 70.5 150.1 71 145.7C71.5 141.2 72 135.8 72.5 130.6C73 125.5 73.5 120.7 74 115.4C74.5 110.1 75 104.4 75.5 100.4C75.87 97.5 76.23 95.5 76.6 92.4C77.27 86.8 77.93 77.7 78.6 70C79.43 60.4 80.27 53.2 81.1 43.3C81.93 33.4 82.77 19.9 83.6 21C84.27 21.8 84.93 32.1 85.6 42.8C86.13 51.4 86.67 60.3 87.2 69.4C87.7 78 88.2 86.8 88.7 92C89.33 98.6 89.97 99.2 90.6 101.7C90.9 102.9 91.2 104.5 91.5 105.7C91.8 106.8 92 107.5 92.3 107.9C93 109.1 93.8 108.4 94.5 108.7C95.3 109 96 110.4 96.8 110.9C97.3 111.2 97.8 111.1 98.3 111.7C98.8 112.2 99.3 113.4 99.8 117C100.3 120.5 100.8 126.4 101.3 126.9C101.8 127.4 102.3 122.6 102.8 119.9C103.33 117 103.87 116.6 104.4 117C104.9 117.5 105.4 118.8 105.9 118.4C106.4 118.1 106.9 116 107.4 118.6C107.9 121.2 108.4 128.4 108.9 133.4C109.4 138.3 109.9 141.1 110.4 144.3C110.9 147.4 111.4 151 111.9 153.2C112.4 155.4 112.9 156.3 113.4 157.8C113.9 159.4 114.4 161.6 114.9 163.8C115.57 166.7 116.23 169.7 116.9 170.6C117.5 171.4 118.1 170.6 118.7 169.9C119.5 169 120.2 168.2 121 168.1C121.7 168 122.5 168.5 123.2 168.8C123.7 169 124.2 169.2 124.8 169.3C125.3 169.3 125.8 169.3 126.3 169.1C127.03 168.8 127.77 168.3 128.5 165.3C129 163.2 129.5 160 130 156.3C130.53 152.4 131.07 147.9 131.6 142.6C132.1 137.7 132.6 132.1 133.1 127.6C133.6 123.1 134.1 119.7 134.6 116.8C135.1 113.9 135.6 111.5 136.1 107.4C136.53 103.8 136.97 99 137.4 91.5C138.03 80.5 138.67 63.6 139.3 51.9C140.03 38.3 140.77 31.7 141.5 25.8C142.3 19.2 143.1 12.9 143.9 12.5C144.6 12.1 145.3 16.4 146 25.3C146.47 31.1 146.93 39.1 147.4 50.7C147.57 54.9 147.73 59.6 147.9 63.9C148.13 70 148.37 75.4 148.6 80.2C148.83 85.1 149.07 89.3 149.3 93.3C149.47 96.2 149.63 99 149.8 101.3C150.2 106.9 150.6 109.9 151 111.9C151.4 113.9 151.8 114.9 152.2 116.6C152.7 118.6 153.2 121.6 153.7 122.4C153.9 122.8 154.2 122.8 154.4 122.7C155.3 122.5 156.2 122.1 157.1 122C158.1 121.8 159.1 121.9 160.1 121.8C161 121.7 161.9 121.4 162.8 120.5C163.3 120 163.8 119.4 164.3 118.4C164.9 117.1 165.6 115.2 166.2 113.8C166.9 112.2 167.7 111.2 168.4 110C169 109 169.6 107.9 170.2 105.1C170.7 102.8 171.2 99.5 171.7 92.7C171.97 89.1 172.23 84.6 172.5 81.1C172.93 75.4 173.37 72.5 173.8 69.6C174.23 66.7 174.67 63.8 175.1 63.2C175.67 62.4 176.23 65.6 176.8 68.1C177.4 70.8 178 72.6 178.6 72.1C179.5 71.2 180.4 65.4 181.3 60.7C182.23 55.8 183.17 52.5 184.1 53C184.7 53.3 185.3 54.7 185.9 57.9C186.63 61.9 187.37 68.7 188.1 73C188.43 75 188.77 76.4 189.1 78.2C189.8 81.8 190.5 86.6 191.2 89.8C191.6 91.6 192 92.9 192.4 93.3C193 93.9 193.5 92.8 194.1 91.1C194.6 89.4 195.2 87.1 195.7 85.2C196.4 82.7 197.1 80.6 197.8 79.3C198.3 78.3 198.9 77.8 199.4 77.8C200 77.8 200.6 78.6 201.2 80.8C201.9 83.3 202.6 87.5 203.3 91.4C204 95.4 204.7 99.2 205.4 103.3C206.2 108 207 113.1 207.8 118.5C208.33 122.1 208.87 125.8 209.4 129.1C209.9 132.3 210.4 135.1 210.9 136.6C211.2 137.6 211.6 138 211.9 137.3C212.3 136.5 212.7 134.1 213.1 133.6C213.5 133.2 213.9 134.8 214.3 138.2C214.67 141.3 215.03 146 215.4 150.1C215.9 155.7 216.4 160.1 216.9 163.3C217.47 166.9 218.03 168.9 218.6 169.4C219.1 169.8 219.5 169.2 220 167.8C220.4 166.6 220.8 164.8 221.2 162.6C221.9 158.6 222.6 153.4 223.3 153.8C223.7 154.1 224.1 156.2 224.5 158.3C224.87 160.2 225.23 162 225.6 162.6C226.4 163.8 227.1 159.8 227.9 160.2C228.5 160.6 229.1 163.7 229.7 166.3C230.33 169 230.97 171 231.6 170C232.23 169 232.87 165 233.5 159.3C234 154.8 234.5 149.2 235 142.1C235.37 136.9 235.73 130.9 236.1 130.6C236.5 130.2 236.9 136.4 237.3 142.2C237.8 149.4 238.3 156 238.8 160.8C239.27 165.3 239.73 168.4 240.2 169.1C240.67 169.8 241.13 168.2 241.6 166.2C241.93 164.8 242.27 163.3 242.6 162.7C242.9 162.1 243.3 162.5 243.6 162.6C244.3 162.7 245 161.6 245.7 161C246.4 160.4 247 160.1 247.7 160.4C248.5 160.7 249.4 161.9 250.2 164C251 166.1 251.9 169.1 252.7 168C253.5 166.9 254.4 161.6 255.2 162C255.9 162.4 256.5 166.4 257.2 167C257.7 167.4 258.3 165.8 258.8 164.3C259.3 162.9 259.8 161.8 260.3 162.5C260.8 163.3 261.3 165.9 261.8 164.9C262.23 164.1 262.67 160.4 263.1 157.7C263.43 155.5 263.77 153.9 264.1 153.7C264.53 153.5 264.97 155.7 265.4 159.2C265.9 163.1 266.4 168.6 266.9 169.7C267.33 170.7 267.77 168.4 268.2 165.3C268.53 163 268.87 160.2 269.2 157.5C269.53 154.8 269.87 152.3 270.2 148.1C270.4 145.6 270.6 142.6 270.8 136.7C270.93 132.8 271.07 127.5 271.2 121.4C271.33 115.2 271.47 108 271.6 101.3C271.83 89.6 272.07 79.4 272.3 79.3C272.53 79.3 272.77 89.4 273 101C273.13 107.7 273.27 114.8 273.4 121.2C273.53 127.6 273.67 133.4 273.8 138.7C273.9 142.7 274 146.4 274.1 149.4C274.3 155.4 274.5 158.7 274.7 161C275.27 167.6 275.83 166.1 276.4 166C277.2 165.9 277.9 168.3 278.7 168.8C279.3 169.2 279.9 168.4 280.5 168C281 167.7 281.5 167.5 282 167.3C282.6 167 283.2 166.6 283.8 165.8C284.3 165.1 284.9 164 285.4 164C285.9 164 286.3 164.8 286.8 165.4C287.2 165.9 287.7 166.3 288.1 166.1C288.7 165.8 289.2 164.3 289.8 162.8C290.3 161.4 290.9 159.9 291.4 159.8C291.9 159.7 292.3 160.7 292.8 161.6C293.2 162.3 293.7 163 294.1 163.7C294.8 164.8 295.5 166.1 296.2 167.3C296.9 168.6 297.7 169.7 298.4 169.8C299 169.8 299.6 169.2 300.2 168.4C300.9 167.5 301.7 166.5 302.4 165.3C303 164.2 303.7 163 304.3 163.2C305 163.5 305.7 165.5 306.4 165.5C307.1 165.4 307.9 163 308.6 164C309.4 165.1 310.2 170.3 311 169.3C311.6 168.5 312.2 164.2 312.8 160.9C313.33 157.9 313.87 155.7 314.4 153C314.8 151 315.2 148.7 315.6 149C316.03 149.3 316.47 152.6 316.9 156.1C317.4 160.2 317.9 164.5 318.4 166.8C318.8 168.8 319.2 169.4 319.6 169.1C320.13 168.7 320.67 166.5 321.2 163.7C321.7 161.1 322.2 157.8 322.7 157.2C323.2 156.7 323.7 158.8 324.2 160.7C324.7 162.6 325.2 164.4 325.7 165.3C326.5 166.5 327.2 165.4 328 166.1C328.7 166.9 329.5 169.4 330.2 169.1C330.6 168.9 331.1 167.7 331.5 166.4C331.93 165 332.37 163.5 332.8 159.5C333.2 155.9 333.6 150.2 334 147.6C334.5 144.5 335 146.1 335.5 147.9C336.17 150.2 336.83 152.4 337.5 156.3C338.1 159.9 338.7 165.5 339.3 168.3C339.8 170.7 340.3 171 340.8 169.9C341.3 168.8 341.8 166.4 342.3 163.8C342.8 161.2 343.3 158.4 343.8 156C344.37 153.2 344.93 149.8 345.5 150.3C346.2 151 346.9 157.1 347.6 160.7C348.23 163.9 348.87 166.8 349.5 166.3C350.13 165.8 350.77 161.9 351.4 159.2C351.9 157.1 352.4 155.5 352.9 155.4C353.47 155.3 354.03 156.9 354.6 159.2C355.2 161.8 355.8 165.5 356.4 167.8C357 170 357.6 170.7 358.2 169.9C358.7 169.2 359.2 167.4 359.7 166.9C360.2 166.4 360.7 167.2 361.2 167.6C361.9 168.2 362.7 168 363.4 167.6C364.2 167.2 364.9 166.4 365.7 165.3C366.2 164.6 366.7 163.7 367.2 162.1C367.7 160.6 368.2 158.2 368.7 158.7C369.2 159.3 369.7 162.9 370.2 165.1C370.83 168 371.47 169 372.1 169.1C372.73 169.2 373.37 168.3 374 165.2C374.5 162.8 375 159 375.5 155.9C375.87 153.7 376.23 152 376.6 152.4C377 152.9 377.4 156 377.8 159C378.3 162.7 378.8 166.2 379.3 166.9C379.8 167.5 380.3 165.3 380.8 162.2C381.3 159 381.8 154.7 382.3 154.2C382.8 153.8 383.3 157.1 383.8 160.7C384.2 163.6 384.6 166.7 385 168.3C385.63 170.9 386.27 169.7 386.9 169.1C387.3 168.7 387.7 168.6 388.1 168.4L388.1 172.8C387.7 173 387.3 173.1 386.9 173.5C386.27 174.1 385.63 175.3 385 172.7C384.6 171.1 384.2 168 383.8 165.2C383.3 161.7 382.8 158.8 382.3 159.2C381.8 159.7 381.3 163.6 380.8 166.7C380.3 169.7 379.8 171.9 379.3 171.3C378.8 170.6 378.3 167.1 377.8 163.7C377.4 160.9 377 158.2 376.6 157.7C376.23 157.3 375.87 158.7 375.5 160.7C375 163.4 374.5 167.2 374 169.6C373.37 172.7 372.73 173.6 372.1 173.5C371.47 173.4 370.83 172.3 370.2 169.6C369.7 167.5 369.2 164.3 368.7 163.7C368.2 163.2 367.7 165.2 367.2 166.6C366.7 168.1 366.2 169 365.7 169.7C364.9 170.8 364.2 171.6 363.4 172C362.7 172.4 361.9 172.6 361.2 172C360.7 171.6 360.2 170.8 359.7 171.3C359.2 171.8 358.7 173.6 358.2 174.3C357.6 175.1 357 174.4 356.4 172.2C355.8 169.9 355.2 166.1 354.6 163.7C354 161.5 353.5 160.6 352.9 160.7C352.4 160.8 351.9 161.8 351.4 163.7C350.8 166.2 350.1 170.2 349.5 170.7C348.87 171.2 348.23 168.2 347.6 165.2C346.9 161.9 346.2 158.4 345.5 157.7C344.93 157.2 344.37 158.4 343.8 160.7C343.3 162.7 342.8 165.6 342.3 168.2C341.8 170.8 341.3 173.2 340.8 174.3C340.3 175.4 339.8 175.1 339.3 172.7C338.7 169.9 338.1 164.2 337.5 160.8C336.83 157 336.17 156.1 335.5 153.8C335 152 334.5 149.5 334 152.3C333.6 154.6 333.2 160.3 332.8 163.9C332.37 167.9 331.93 169.4 331.5 170.8C331.1 172.1 330.6 173.3 330.2 173.5C329.5 173.8 328.7 171.3 328 170.5C327.2 169.8 326.5 170.9 325.7 169.7C325.2 168.8 324.7 167 324.2 165.2C323.7 163.4 323.2 161.7 322.7 162.2C322.2 162.8 321.7 165.7 321.2 168.2C320.67 170.8 320.13 173.1 319.6 173.5C319.2 173.8 318.8 173.2 318.4 171.3C317.9 168.9 317.4 164.6 316.9 160.7C316.47 157.3 316.03 154.3 315.6 154C315.2 153.7 314.8 155.7 314.4 157.6C313.87 160.1 313.33 162.3 312.8 165.3C312.2 168.6 311.6 172.9 311 173.7C310.2 174.7 309.4 169.5 308.6 168.4C307.9 167.4 307.1 169.8 306.4 169.9C305.7 169.9 305 167.9 304.3 167.6C303.7 167.4 303 168.6 302.4 169.7C301.7 170.9 300.9 171.9 300.2 172.8C299.6 173.6 299 174.2 298.4 174.2C297.7 174.1 296.9 173 296.2 171.7C295.5 170.5 294.8 169.2 294.1 168.1C293.7 167.4 293.2 166.7 292.8 166C292.3 165.1 291.9 164.1 291.4 164.2C290.9 164.3 290.3 165.8 289.8 167.2C289.2 168.7 288.7 170.2 288.1 170.5C287.7 170.7 287.2 170.3 286.8 169.8C286.3 169.2 285.9 168.4 285.4 168.4C284.9 168.4 284.3 169.5 283.8 170.2C283.2 171 282.6 171.4 282 171.7C281.5 171.9 281 172.1 280.5 172.4C279.9 172.8 279.3 173.6 278.7 173.2C277.9 172.7 277.2 170.3 276.4 170.4C275.83 170.5 275.27 172 274.7 165.4C274.5 163.1 274.3 159.8 274.1 153.8C274 150.8 273.9 147.1 273.8 143.2C273.67 138 273.53 132.3 273.4 126.1C273.27 119.9 273.13 113.1 273 106.8C272.77 95.8 272.53 86.4 272.3 86.4C272.07 86.5 271.83 96 271.6 107.1C271.47 113.4 271.33 120.3 271.2 126.3C271.07 132.2 270.93 137.4 270.8 141.2C270.6 147 270.4 150.1 270.2 152.5C269.87 156.6 269.53 159.2 269.2 161.9C268.87 164.6 268.53 167.4 268.2 169.7C267.77 172.8 267.33 175.1 266.9 174.1C266.4 173 265.9 167.5 265.4 163.8C264.97 160.5 264.53 158.5 264.1 158.7C263.77 158.9 263.43 160.3 263.1 162.3C262.67 164.9 262.23 168.5 261.8 169.3C261.3 170.3 260.8 167.7 260.3 166.9C259.8 166.2 259.3 167.3 258.8 168.7C258.3 170.2 257.7 171.8 257.2 171.4C256.5 170.8 255.9 166.8 255.2 166.4C254.4 166 253.5 171.3 252.7 172.4C251.9 173.5 251 170.5 250.2 168.4C249.4 166.3 248.5 165.1 247.7 164.9C247 164.7 246.4 165.2 245.7 165.9C245 166.7 244.3 167.7 243.6 167.4C243.3 167.2 242.9 166.7 242.6 167.2C242.27 167.8 241.93 169.3 241.6 170.7C241.13 172.6 240.67 174.2 240.2 173.5C239.73 172.8 239.27 169.7 238.8 165.2C238.3 160.4 237.8 153.9 237.3 146.9C236.9 141.3 236.5 135.5 236.1 135.9C235.73 136.2 235.37 141.9 235 146.8C234.5 153.6 234 159.2 233.5 163.7C232.87 169.4 232.23 173.4 231.6 174.4C230.97 175.4 230.33 173.4 229.7 170.7C229.1 168.1 228.5 165 227.9 164.6C227.1 164.2 226.4 168.2 225.6 167C225.23 166.4 224.87 164.6 224.5 162.7C224.1 160.6 223.7 158.5 223.3 158.2C222.6 157.8 221.9 163 221.2 167C220.8 169.2 220.4 171 220 172.2C219.5 173.6 219.1 174.2 218.6 173.8C218.03 173.3 217.47 171.3 216.9 167.7C216.4 164.5 215.9 160.1 215.4 154.5C215.03 150.4 214.67 145.7 214.3 142.6C213.9 139.2 213.5 137.6 213.1 138C212.7 138.5 212.3 140.9 211.9 141.7C211.6 142.4 211.2 142 210.9 141C210.4 139.5 209.9 136.7 209.4 133.5C208.87 130.2 208.33 126.5 207.8 122.9C207 117.5 206.2 112.4 205.4 107.7C204.7 103.6 204 99.8 203.3 95.9C202.6 92 201.9 88 201.2 85.7C200.6 83.8 200 83.2 199.4 83.1C198.9 83 198.3 83.4 197.8 84.2C197.1 85.3 196.4 87.1 195.7 89.6C195.2 91.5 194.6 93.9 194.1 95.5C193.5 97.2 193 98.3 192.4 97.7C192 97.3 191.6 96 191.2 94.2C190.5 91 189.8 86.2 189.1 82.6C188.77 80.8 188.43 79.4 188.1 77.4C187.37 73.1 186.63 66.2 185.9 62.4C185.3 59.3 184.7 58.3 184.1 58.3C183.17 58.3 182.23 61 181.3 65.4C180.4 69.7 179.5 75.6 178.6 76.5C178 77.1 177.4 75.4 176.8 73C176.23 70.7 175.67 67.7 175.1 68.4C174.67 69 174.23 71.6 173.8 74.4C173.37 77.1 172.93 79.9 172.5 85.5C172.23 89 171.97 93.5 171.7 97.1C171.2 103.9 170.7 107.2 170.2 109.5C169.6 112.3 169 113.4 168.4 114.4C167.7 115.6 166.9 116.6 166.2 118.2C165.6 119.6 164.9 121.5 164.3 122.8C163.8 123.8 163.3 124.4 162.8 124.9C161.9 125.8 161 126.1 160.1 126.2C159.1 126.3 158.1 126.2 157.1 126.4C156.2 126.5 155.3 126.9 154.4 127.1C154.2 127.2 153.9 127.2 153.7 126.8C153.2 126 152.7 123 152.2 121C151.8 119.3 151.4 118.3 151 116.3C150.6 114.3 150.2 111.3 149.8 105.7C149.63 103.4 149.47 100.6 149.3 97.7C149.07 93.7 148.83 89.5 148.6 84.6C148.37 79.8 148.13 74.4 147.9 68.3C147.73 64 147.57 59.3 147.4 55.2C146.93 43.5 146.47 35.7 146 30.1C145.3 21.7 144.6 18.4 143.9 18.7C143.1 19 142.3 24.1 141.5 30.4C140.77 36.1 140.03 42.7 139.3 56.3C138.67 68 138.03 84.9 137.4 95.9C136.97 103.4 136.53 108.2 136.1 111.8C135.6 115.9 135.1 118.3 134.6 121.2C134.1 124.1 133.6 127.5 133.1 132C132.6 136.5 132.1 142.1 131.6 147C131.07 152.3 130.53 156.8 130 160.7C129.5 164.4 129 167.6 128.5 169.7C127.77 172.7 127.03 173.2 126.3 173.5C125.8 173.7 125.3 173.7 124.8 173.7C124.2 173.6 123.7 173.4 123.2 173.2C122.5 172.9 121.7 172.4 121 172.5C120.2 172.6 119.5 173.4 118.7 174.3C118.1 175 117.5 175.8 116.9 175C116.23 174.1 115.57 171.1 114.9 168.2C114.4 166 113.9 163.8 113.4 162.2C112.9 160.7 112.4 159.8 111.9 157.6C111.4 155.4 110.9 151.8 110.4 148.7C109.9 145.5 109.4 142.7 108.9 137.8C108.4 132.9 107.9 125.9 107.4 123.7C106.9 121.4 106.4 124 105.9 124.3C105.4 124.7 104.9 122.9 104.4 122.1C103.87 121.3 103.33 121.6 102.8 124.6C102.3 127.3 101.8 132.4 101.3 131.9C100.8 131.4 100.3 125.3 99.8 121.6C99.3 117.9 98.8 116.7 98.3 116.1C97.8 115.5 97.3 115.6 96.8 115.3C96 114.8 95.3 113.4 94.5 113.1C93.8 112.8 93 113.5 92.3 112.3C92 111.9 91.8 111.2 91.5 110.1C91.2 108.9 90.9 107.3 90.6 106.1C89.97 103.6 89.33 102.9 88.7 96.4C88.2 91.2 87.7 82.4 87.2 73.8C86.67 64.7 86.13 55.9 85.6 47.8C84.93 37.7 84.27 28.6 83.6 27.8C82.77 26.7 81.93 38.5 81.1 48C80.27 57.5 79.43 64.8 78.6 74.4C77.93 82.1 77.27 91.2 76.6 96.8C76.23 99.9 75.87 101.9 75.5 104.8C75 108.8 74.5 114.5 74 119.8C73.5 125.1 73 129.9 72.5 135C72 140.2 71.5 145.6 71 150.1C70.5 154.5 70 158 69.5 160.7C69 163.4 68.5 165.3 68 166.7C67.5 168.2 66.9 169 66.4 169.7C65.7 170.7 64.9 171.6 64.2 172.1C63.2 172.8 62.2 173 61.2 173C60.6 173 59.9 172.9 59.3 172.8C58.7 172.7 58 172.6 57.4 172.6C56.8 172.6 56.3 172.6 55.7 172.6C55.1 172.6 54.6 172.6 54 172.7C53.4 172.8 52.9 172.8 52.3 172.9C51.7 172.9 51.2 173 50.6 173C50 173 49.4 173 48.8 173C48.2 172.9 47.6 172.8 47 172.7C46.5 172.6 45.9 172.4 45.4 172.3C44.9 172.2 44.3 172.3 43.8 172.6C43.3 172.9 42.8 173.4 42.3 174Z" fill="#ccc8f8" fill-opacity="0.55"/>
<path d="M42.3 171.8C42.8 171.2 43.3 170.7 43.8 170.4C44.9 169.8 45.9 170.2 47 170.5C48.2 170.8 49.4 170.9 50.6 170.8C51.7 170.8 52.9 170.6 54 170.5C55.1 170.4 56.3 170.3 57.4 170.4C58.7 170.5 59.9 170.8 61.2 170.8C62.2 170.8 63.2 170.6 64.2 169.9C64.9 169.4 65.7 168.5 66.4 167.5C66.9 166.8 67.5 166 68 164.5C68.5 163.1 69 161.2 69.5 158.5C70 155.8 70.5 152.3 71 147.9C71.5 143.4 72 138 72.5 132.8C73 127.7 73.5 122.9 74 117.6C74.5 112.4 75 106.7 75.5 102.7C75.87 99.8 76.23 97.9 76.6 94.9C77.27 89.4 77.93 80.4 78.6 73.1C79.43 63.8 80.27 57.1 81.1 48.1C81.93 39.2 82.77 28 83.6 29C84.27 29.9 84.93 38.5 85.6 48.2C86.13 55.9 86.67 64.2 87.2 73.1C87.7 81.4 88.2 90 88.7 94.8C89.33 100.9 89.97 100.7 90.6 104.1C90.9 105.7 91.2 108.1 91.5 111.2C91.77 114 92.03 117.3 92.3 119.2C92.8 122.6 93.3 120.9 93.8 119.9C94.3 119 94.8 118.7 95.3 119.2C95.8 119.7 96.3 121 96.8 121.3C97.3 121.6 97.8 121 98.3 121.4C98.8 121.9 99.3 123.5 99.8 126.8C100.3 130.1 100.8 135.1 101.3 134.9C101.8 134.7 102.3 129.3 102.8 125.3C103.33 121.1 103.87 118.7 104.4 116.9C104.9 115.2 105.4 114 105.9 114.6C106.4 115.2 106.9 117.4 107.4 121.5C107.9 125.5 108.4 131.3 108.9 135.7C109.4 140.1 109.9 143.2 110.4 146.5C110.9 149.7 111.4 153.2 111.9 155.4C112.4 157.6 112.9 158.5 113.4 160C113.9 161.6 114.4 163.8 114.9 166C115.57 168.9 116.23 171.9 116.9 172.8C117.5 173.6 118.1 172.8 118.7 172.1C119.5 171.2 120.2 170.4 121 170.3C121.7 170.2 122.5 170.7 123.2 171C124.2 171.5 125.3 171.7 126.3 171.3C127.03 171 127.77 170.5 128.5 167.5C129 165.4 129.5 162.2 130 158.5C130.53 154.6 131.07 150.1 131.6 144.9C132.1 139.9 132.6 134.3 133.1 129.8C133.6 125.4 134.1 122.1 134.6 119.2C135.1 116.4 135.6 114 136.1 110.1C136.53 106.7 136.97 102.1 137.4 94.9C138.03 84.3 138.67 68.3 139.3 57.4C140.03 44.9 140.77 39.4 141.5 34.7C142.3 29.5 143.1 25.1 143.9 24.8C144.6 24.5 145.3 27.3 146 34.7C146.47 39.6 146.93 46.6 147.4 57.4C147.57 61.3 147.73 65.6 147.9 69.6C148.13 75.3 148.37 80.4 148.6 84.9C148.83 89.5 149.07 93.4 149.3 97.2C149.47 99.9 149.63 102.6 149.8 104.8C150.2 110.1 150.6 112.9 151 114.8C151.4 116.7 151.8 117.7 152.2 119.1C152.7 120.7 153.2 122.9 153.7 124.9C154.07 126.4 154.43 127.8 154.8 128.5C155.6 129.8 156.3 127.9 157.1 126.8C158.1 125.5 159.1 125.7 160.1 125.9C160.9 126.1 161.8 126.3 162.6 124.9C163.2 123.9 163.7 122.2 164.3 120.6C164.9 118.8 165.6 117.3 166.2 116C166.9 114.5 167.7 113.4 168.4 112.2C169 111.2 169.6 110.1 170.2 107.3C170.7 105 171.2 101.5 171.7 95.1C171.97 91.7 172.23 87.4 172.5 83C172.93 75.9 173.37 68.6 173.8 63.3C174.33 56.7 174.87 53.1 175.4 52.6C175.87 52.2 176.33 54.1 176.8 56.4C177.4 59.3 178 62.6 178.6 63.7C179.5 65.3 180.4 61.6 181.3 56.4C181.93 52.7 182.57 48.2 183.2 47.5C183.83 46.9 184.47 50.1 185.1 54.2C185.6 57.4 186.1 61.1 186.6 65.2C187.37 71.6 188.13 79 188.9 84.4C189.67 89.8 190.43 93.2 191.2 95C191.6 96 192 96.5 192.4 96.3C193 96 193.6 94.2 194.2 92C195 89.1 195.8 85.6 196.6 83C197.2 81 197.9 79.5 198.5 78.5C199.1 77.6 199.7 77 200.3 77.5C201 78 201.6 79.7 202.3 81.5C203.2 83.9 204.1 86.4 205 93.7C205.47 97.5 205.93 102.6 206.4 107.5C206.87 112.3 207.33 116.9 207.8 120.7C208.33 125 208.87 128.2 209.4 131.3C209.9 134.3 210.4 137.3 210.9 138.8C211.2 139.8 211.6 140.2 211.9 139.5C212.3 138.7 212.7 136.3 213.1 135.8C213.5 135.4 213.9 137 214.3 140.4C214.67 143.5 215.03 148.2 215.4 152.3C215.9 157.9 216.4 162.3 216.9 165.5C217.47 169.1 218.03 171.1 218.6 171.6C219.1 172 219.5 171.4 220 170C220.4 168.8 220.8 167 221.2 164.8C221.9 160.8 222.6 155.6 223.3 156C223.7 156.3 224.1 158.4 224.5 160.5C224.87 162.4 225.23 164.2 225.6 164.8C226.4 166 227.1 162 227.9 162.4C228.5 162.8 229.1 165.9 229.7 168.5C230.33 171.2 230.97 173.2 231.6 172.2C232.23 171.2 232.87 167.2 233.5 161.5C234 157 234.5 151.4 235 144.6C235.37 139.7 235.73 134 236.1 133.7C236.5 133.3 236.9 139.1 237.3 144.7C237.8 151.7 238.3 158.2 238.8 163C239.27 167.5 239.73 170.6 240.2 171.3C240.7 172 241.1 170.4 241.6 168.6C242.13 166.4 242.67 164 243.2 160.9C243.7 158.1 244.2 154.6 244.7 153.1C245.7 150.2 246.7 155.1 247.7 158.1C248.5 160.5 249.4 161.6 250.2 164.2C251 166.8 251.9 170.9 252.7 170.2C253.5 169.4 254.4 163.9 255.2 164.2C255.9 164.5 256.5 168.6 257.2 169.2C257.7 169.7 258.3 168 258.8 166.5C259.3 165.1 259.8 164 260.3 164.7C260.8 165.5 261.3 168.1 261.8 167.1C262.23 166.3 262.67 162.7 263.1 160.1C263.43 158.1 263.77 156.7 264.1 156.5C264.53 156.3 264.97 158.3 265.4 161.6C265.9 165.3 266.4 170.8 266.9 171.9C267.33 172.9 267.77 170.6 268.2 167.5C268.53 165.2 268.87 162.4 269.2 159.7C269.53 157 269.87 154.4 270.2 150.3C270.4 147.9 270.6 144.8 270.8 139C270.93 135.2 271.07 130 271.2 124.1C271.33 118.1 271.47 111.2 271.6 104.9C271.83 93.8 272.07 84.3 272.3 84.2C272.53 84.2 272.77 93.6 273 104.6C273.13 110.9 273.27 117.7 273.4 123.9C273.53 130.1 273.67 135.8 273.8 141C273.9 144.9 274 148.6 274.1 151.6C274.3 157.6 274.5 160.9 274.7 163.2C275.27 169.8 275.83 168.3 276.4 168.2C277.2 168.1 277.9 170.5 278.7 171C279.3 171.4 279.9 170.6 280.5 170.2C281 169.9 281.5 169.7 282 169.5C282.6 169.2 283.2 168.8 283.8 168C284.3 167.3 284.9 166.2 285.4 166.2C285.9 166.2 286.3 167 286.8 167.6C287.2 168.1 287.7 168.5 288.1 168.3C288.7 168 289.2 166.5 289.8 165C290.3 163.6 290.9 162.1 291.4 162C291.9 161.9 292.3 162.9 292.8 163.8C293.2 164.5 293.7 165.2 294.1 165.9C294.8 167 295.5 168.3 296.2 169.5C296.9 170.8 297.7 171.9 298.4 172C299 172 299.6 171.4 300.2 170.6C300.9 169.7 301.7 168.7 302.4 167.5C303 166.4 303.7 165.2 304.3 165.4C305 165.7 305.7 167.7 306.4 167.7C307.1 167.6 307.9 165.2 308.6 166.2C309.4 167.3 310.2 172.5 311 171.5C311.6 170.7 312.2 166.4 312.8 163.1C313.33 160.1 313.87 157.9 314.4 155.4C314.8 153.5 315.2 151.5 315.6 151.8C316.03 152.1 316.47 155.1 316.9 158.5C317.4 162.4 317.9 166.7 318.4 169.1C318.8 171 319.2 171.6 319.6 171.3C320.13 170.9 320.67 168.6 321.2 166C321.7 163.5 322.2 160.6 322.7 160C323.2 159.5 323.7 161.2 324.2 163C324.7 164.8 325.2 166.6 325.7 167.5C326.5 168.7 327.2 167.6 328 168.3C328.7 169.1 329.5 171.6 330.2 171.3C330.6 171.1 331.1 170 331.5 168.5C331.93 167.1 332.37 165.3 332.8 161.9C333.2 158.8 333.6 154.4 334 149.9C334.5 144.3 335 138.5 335.5 138.9C336.17 139.4 336.83 150.9 337.5 158.4C338.1 165.1 338.7 168.6 339.3 170.6C339.8 172.4 340.3 173.1 340.8 172.1C341.3 171 341.8 168.2 342.3 166.1C342.8 164 343.3 162.6 343.8 158.3C344.37 153.4 344.93 144.9 345.5 144.6C346.2 144.2 346.9 156.5 347.6 162.9C348.23 168.6 348.87 169.6 349.5 168.5C350.13 167.4 350.77 164.3 351.4 161.5C351.9 159.3 352.4 157.2 352.9 157C353.47 156.8 354.03 158.8 354.6 161.5C355.2 164.3 355.8 167.8 356.4 170C357 172.1 357.6 172.9 358.2 172.1C358.7 171.4 359.2 169.6 359.7 169.1C360.2 168.6 360.7 169.4 361.2 169.8C361.9 170.4 362.7 170.2 363.4 169.8C364.2 169.4 364.9 168.6 365.7 167.5C366.2 166.8 366.7 165.9 367.2 164.4C367.7 163 368.2 161 368.7 161.5C369.2 162.1 369.7 165.3 370.2 167.4C370.83 170.1 371.47 171.2 372.1 171.3C372.73 171.4 373.37 170.5 374 167.4C374.5 165 375 161.2 375.5 158.5C375.87 156.5 376.23 155.1 376.6 155.5C377 156 377.4 158.7 377.8 161.5C378.3 164.9 378.8 168.4 379.3 169.1C379.8 169.7 380.3 167.5 380.8 164.5C381.3 161.4 381.8 157.5 382.3 157C382.8 156.6 383.3 159.5 383.8 163C384.2 165.8 384.6 168.9 385 170.5C385.63 173.1 386.27 171.9 386.9 171.3C387.3 170.9 387.7 170.8 388.1 170.6" class="ln" stroke="#000"/>
<path d="M42.3 171.8C42.8 171.2 43.3 170.7 43.8 170.4C44.9 169.8 45.9 170.2 47 170.5C48.2 170.8 49.4 170.9 50.6 170.8C51.7 170.8 52.9 170.6 54 170.5C55.1 170.4 56.3 170.3 57.4 170.4C58.7 170.5 59.9 170.8 61.2 170.8C62.2 170.8 63.2 170.6 64.2 169.9C64.9 169.4 65.7 168.5 66.4 167.5C66.9 166.8 67.5 166 68 164.5C68.5 163.1 69 161.2 69.5 158.5C70 155.8 70.5 152.3 71 147.9C71.5 143.4 72 138 72.5 132.8C73 127.7 73.5 122.9 74 117.6C74.5 112.4 75 106.7 75.5 102.7C75.87 99.8 76.23 97.8 76.6 94.8C77.27 89.2 77.93 80.2 78.6 72.7C79.43 63.3 80.27 56.3 81.1 47.2C81.93 38 82.77 26.5 83.6 27.6C84.27 28.4 84.93 37.2 85.6 47.1C86.13 55 86.67 63.5 87.2 72.5C87.7 80.9 88.2 89.7 88.7 94.6C89.33 100.7 89.97 100.5 90.6 104C90.9 105.7 91.2 108.2 91.5 111.1C91.77 113.6 92.03 116.4 92.3 117.9C92.8 120.6 93.3 118.6 93.8 117.6C94.3 116.6 94.8 116.5 95.3 117C95.8 117.5 96.3 118.7 96.8 118.9C97.3 119.2 97.8 118.6 98.3 119.6C98.8 120.5 99.3 123.1 99.8 126.8C100.3 130.5 100.8 135.3 101.3 134.9C101.8 134.6 102.3 129.2 102.8 125.3C103.33 121.3 103.87 119.1 104.4 116.8C104.9 114.7 105.4 112.5 105.9 113C106.4 113.6 106.9 117 107.4 121.4C107.9 125.9 108.4 131.4 108.9 135.7C109.4 140.1 109.9 143.2 110.4 146.5C110.9 149.8 111.4 153.2 111.9 155.4C112.4 157.6 112.9 158.5 113.4 160C113.9 161.6 114.4 163.8 114.9 166C115.57 168.9 116.23 171.9 116.9 172.8C117.5 173.6 118.1 172.8 118.7 172.1C119.5 171.2 120.2 170.4 121 170.3C121.7 170.2 122.5 170.7 123.2 171C124.2 171.5 125.3 171.7 126.3 171.3C127.03 171 127.77 170.5 128.5 167.5C129 165.4 129.5 162.2 130 158.5C130.53 154.6 131.07 150.1 131.6 144.9C132.1 139.9 132.6 134.3 133.1 129.8C133.6 125.4 134.1 122 134.6 119.2C135.1 116.3 135.6 114 136.1 110C136.53 106.6 136.97 101.9 137.4 94.7C138.03 84.1 138.67 67.9 139.3 56.9C140.03 44.2 140.77 38.5 141.5 33.6C142.3 28.3 143.1 23.8 143.9 23.5C144.6 23.2 145.3 26 146 33.6C146.47 38.6 146.93 45.8 147.4 56.7C147.57 60.6 147.73 65 147.9 69.1C148.13 74.8 148.37 79.9 148.6 84.5C148.83 89.1 149.07 93.1 149.3 97C149.47 99.7 149.63 102.4 149.8 104.6C150.2 109.9 150.6 112.8 151 114.7C151.4 116.6 151.8 117.7 152.2 119C152.7 120.7 153.2 122.9 153.7 124.9C154.07 126.4 154.43 127.8 154.8 128.5C155.6 129.8 156.3 127.9 157.1 126.8C158.1 125.5 159.1 125.7 160.1 125.9C160.9 126.1 161.8 126.3 162.6 124.9C163.2 123.9 163.7 122.2 164.3 120.6C164.9 118.8 165.6 117.3 166.2 116C166.9 114.5 167.7 113.4 168.4 112.2C169 111.2 169.6 110.1 170.2 107.3C170.7 105 171.2 101.5 171.7 95.1C171.97 91.7 172.23 87.4 172.5 83C172.93 75.9 173.37 68.6 173.8 63.3C174.33 56.7 174.87 53.1 175.4 52.6C175.87 52.2 176.33 54.2 176.8 56.4C177.4 59.2 178 62.5 178.6 63.7C179.5 65.5 180.4 62.5 181.3 56.3C181.93 52 182.57 46.1 183.2 45.5C183.83 44.9 184.47 49.6 185.1 54.1C185.6 57.7 186.1 61.2 186.6 65.2C187.37 71.4 188.13 78.9 188.9 84.4C189.67 89.8 190.43 93.2 191.2 95C191.6 96 192 96.5 192.4 96.3C193 96 193.6 94.2 194.2 92C195 89.1 195.8 85.5 196.6 83C197.2 81.1 197.9 79.9 198.5 78.5C199.1 77.1 199.7 75.6 200.3 76C201 76.4 201.6 79.2 202.3 81.5C203.2 84.5 204.1 86.5 205 93.8C205.47 97.5 205.93 102.6 206.4 107.5C206.87 112.3 207.33 116.9 207.8 120.7C208.33 125 208.87 128.2 209.4 131.3C209.9 134.3 210.4 137.3 210.9 138.8C211.2 139.8 211.6 140.2 211.9 139.5C212.3 138.7 212.7 136.3 213.1 135.8C213.5 135.4 213.9 137 214.3 140.4C214.67 143.5 215.03 148.2 215.4 152.3C215.9 157.9 216.4 162.3 216.9 165.5C217.47 169.1 218.03 171.1 218.6 171.6C219.1 172 219.5 171.4 220 170C220.4 168.8 220.8 167 221.2 164.8C221.9 160.8 222.6 155.6 223.3 156C223.7 156.3 224.1 158.4 224.5 160.5C224.87 162.4 225.23 164.2 225.6 164.8C226.4 166 227.1 162 227.9 162.4C228.5 162.8 229.1 165.9 229.7 168.5C230.33 171.2 230.97 173.2 231.6 172.2C232.23 171.2 232.87 167.2 233.5 161.5C234 157 234.5 151.4 235 144.6C235.37 139.7 235.73 134 236.1 133.7C236.5 133.3 236.9 139.1 237.3 144.7C237.8 151.7 238.3 158.2 238.8 163C239.27 167.5 239.73 170.6 240.2 171.3C240.7 172 241.1 170.4 241.6 168.6C242.13 166.4 242.67 164 243.2 160.9C243.7 158.1 244.2 154.6 244.7 153.1C245.7 150.2 246.7 155.1 247.7 158.1C248.5 160.5 249.4 161.6 250.2 164.2C251 166.8 251.9 170.9 252.7 170.2C253.5 169.4 254.4 163.9 255.2 164.2C255.9 164.5 256.5 168.6 257.2 169.2C257.7 169.7 258.3 168 258.8 166.5C259.3 165.1 259.8 164 260.3 164.7C260.8 165.5 261.3 168.1 261.8 167.1C262.23 166.3 262.67 162.7 263.1 160.1C263.43 158.1 263.77 156.7 264.1 156.5C264.53 156.3 264.97 158.3 265.4 161.6C265.9 165.3 266.4 170.8 266.9 171.9C267.33 172.9 267.77 170.6 268.2 167.5C268.53 165.2 268.87 162.4 269.2 159.7C269.53 157 269.87 154.4 270.2 150.3C270.4 147.9 270.6 144.8 270.8 139C270.93 135.2 271.07 130 271.2 124.1C271.33 118.1 271.47 111.2 271.6 104.9C271.83 93.8 272.07 84.3 272.3 84.2C272.53 84.2 272.77 93.6 273 104.6C273.13 110.9 273.27 117.7 273.4 123.9C273.53 130.1 273.67 135.8 273.8 141C273.9 144.9 274 148.6 274.1 151.6C274.3 157.6 274.5 160.9 274.7 163.2C275.27 169.8 275.83 168.3 276.4 168.2C277.2 168.1 277.9 170.5 278.7 171C279.3 171.4 279.9 170.6 280.5 170.2C281 169.9 281.5 169.7 282 169.5C282.6 169.2 283.2 168.8 283.8 168C284.3 167.3 284.9 166.2 285.4 166.2C285.9 166.2 286.3 167 286.8 167.6C287.2 168.1 287.7 168.5 288.1 168.3C288.7 168 289.2 166.5 289.8 165C290.3 163.6 290.9 162.1 291.4 162C291.9 161.9 292.3 162.9 292.8 163.8C293.2 164.5 293.7 165.2 294.1 165.9C294.8 167 295.5 168.3 296.2 169.5C296.9 170.8 297.7 171.9 298.4 172C299 172 299.6 171.4 300.2 170.6C300.9 169.7 301.7 168.7 302.4 167.5C303 166.4 303.7 165.2 304.3 165.4C305 165.7 305.7 167.7 306.4 167.7C307.1 167.6 307.9 165.2 308.6 166.2C309.4 167.3 310.2 172.5 311 171.5C311.6 170.7 312.2 166.4 312.8 163.1C313.33 160.1 313.87 157.9 314.4 155.4C314.8 153.5 315.2 151.5 315.6 151.8C316.03 152.1 316.47 155.1 316.9 158.5C317.4 162.4 317.9 166.7 318.4 169.1C318.8 171 319.2 171.6 319.6 171.3C320.13 170.9 320.67 168.6 321.2 166C321.7 163.5 322.2 160.6 322.7 160C323.2 159.5 323.7 161.2 324.2 163C324.7 164.8 325.2 166.6 325.7 167.5C326.5 168.7 327.2 167.6 328 168.3C328.7 169.1 329.5 171.6 330.2 171.3C330.6 171.1 331.1 170 331.5 168.5C331.93 167.1 332.37 165.2 332.8 161.9C333.2 158.9 333.6 154.6 334 149.9C334.5 144.1 335 137.8 335.5 138.1C336.17 138.5 336.83 150.6 337.5 158.4C338.1 165.3 338.7 168.6 339.3 170.6C339.8 172.3 340.3 173.1 340.8 172.1C341.3 171 341.8 168.2 342.3 166.1C342.8 164.1 343.3 162.9 343.8 158.3C344.37 153.1 344.93 143.5 345.5 143.1C346.2 142.6 346.9 156 347.6 162.8C348.23 169 348.87 169.7 349.5 168.5C350.13 167.3 350.77 164.3 351.4 161.5C351.9 159.3 352.4 157.2 352.9 157C353.47 156.8 354.03 158.8 354.6 161.5C355.2 164.3 355.8 167.8 356.4 170C357 172.1 357.6 172.9 358.2 172.1C358.7 171.4 359.2 169.6 359.7 169.1C360.2 168.6 360.7 169.4 361.2 169.8C361.9 170.4 362.7 170.2 363.4 169.8C364.2 169.4 364.9 168.6 365.7 167.5C366.2 166.8 366.7 165.9 367.2 164.4C367.7 163 368.2 161 368.7 161.5C369.2 162.1 369.7 165.3 370.2 167.4C370.83 170.1 371.47 171.2 372.1 171.3C372.73 171.4 373.37 170.5 374 167.4C374.5 165 375 161.2 375.5 158.5C375.87 156.5 376.23 155.1 376.6 155.5C377 156 377.4 158.7 377.8 161.5C378.3 164.9 378.8 168.4 379.3 169.1C379.8 169.7 380.3 167.5 380.8 164.5C381.3 161.4 381.8 157.5 382.3 157C382.8 156.6 383.3 159.5 383.8 163C384.2 165.8 384.6 168.9 385 170.5C385.63 173.1 386.27 171.9 386.9 171.3C387.3 170.9 387.7 170.8 388.1 170.6" class="ln" stroke="#e42030" stroke-opacity="0.85"/>
<path d="M42.3 171.8C42.8 171.2 43.3 170.7 43.8 170.4C44.9 169.8 45.9 170.2 47 170.5C48.2 170.8 49.4 170.9 50.6 170.8C51.7 170.8 52.9 170.6 54 170.5C55.1 170.4 56.3 170.3 57.4 170.4C58.7 170.5 59.9 170.8 61.2 170.8C62.2 170.8 63.2 170.6 64.2 169.9C64.9 169.4 65.7 168.5 66.4 167.5C66.9 166.8 67.5 166 68 164.5C68.5 163.1 69 161.2 69.5 158.5C70 155.8 70.5 152.3 71 147.9C71.5 143.4 72 138 72.5 132.8C73 127.7 73.5 122.9 74 117.6C74.5 112.3 75 106.6 75.5 102.6C75.87 99.7 76.23 97.7 76.6 94.6C77.27 89 77.93 79.9 78.6 72.2C79.43 62.6 80.27 55.3 81.1 45.8C81.93 36.3 82.77 24.5 83.6 25.6C84.27 26.4 84.93 35.5 85.6 45.6C86.13 53.7 86.67 62.5 87.2 71.6C87.7 80.2 88.2 89 88.7 94.2C89.33 100.7 89.97 101.4 90.6 103.9C90.9 105.1 91.2 106.7 91.5 107.9C91.8 109 92 109.7 92.3 110.1C93 111.3 93.8 110.6 94.5 110.9C95.3 111.2 96 112.6 96.8 113.1C97.3 113.4 97.8 113.3 98.3 113.9C98.8 114.5 99.3 115.7 99.8 119.4C100.3 123.1 100.8 129.2 101.3 129.7C101.8 130.2 102.3 125.1 102.8 122.4C103.33 119.4 103.87 119.1 104.4 119.9C104.9 120.7 105.4 122.5 105.9 122.1C106.4 121.8 106.9 119.2 107.4 121.5C107.9 123.7 108.4 130.7 108.9 135.6C109.4 140.5 109.9 143.3 110.4 146.5C110.9 149.6 111.4 153.2 111.9 155.4C112.4 157.6 112.9 158.5 113.4 160C113.9 161.6 114.4 163.8 114.9 166C115.57 168.9 116.23 171.9 116.9 172.8C117.5 173.6 118.1 172.8 118.7 172.1C119.5 171.2 120.2 170.4 121 170.3C121.7 170.2 122.5 170.7 123.2 171C124.2 171.5 125.3 171.7 126.3 171.3C127.03 171 127.77 170.5 128.5 167.5C129 165.4 129.5 162.2 130 158.5C130.53 154.6 131.07 150.1 131.6 144.8C132.1 139.9 132.6 134.3 133.1 129.8C133.6 125.3 134.1 121.9 134.6 119C135.1 116.1 135.6 113.7 136.1 109.6C136.53 106 136.97 101.2 137.4 93.7C138.03 82.7 138.67 65.8 139.3 54.1C140.03 40.5 140.77 33.9 141.5 28.2C142.3 21.9 143.1 16.8 143.9 16.5C144.6 16.2 145.3 19.5 146 27.9C146.47 33.5 146.93 41.3 147.4 53C147.57 57.1 147.73 61.8 147.9 66.1C148.13 72.2 148.37 77.6 148.6 82.4C148.83 87.3 149.07 91.5 149.3 95.5C149.47 98.4 149.63 101.2 149.8 103.5C150.2 109.1 150.6 112.1 151 114.1C151.4 116.1 151.8 117.1 152.2 118.8C152.7 120.8 153.2 123.8 153.7 124.6C153.9 125 154.2 125 154.4 124.9C155.3 124.7 156.2 124.3 157.1 124.2C158.1 124 159.1 124.1 160.1 124C161 123.9 161.9 123.6 162.8 122.7C163.3 122.2 163.8 121.6 164.3 120.6C164.9 119.3 165.6 117.4 166.2 116C166.9 114.4 167.7 113.4 168.4 112.2C169 111.2 169.6 110.1 170.2 107.3C170.7 105 171.2 101.7 171.7 94.9C171.97 91.3 172.23 86.8 172.5 83.3C172.93 77.7 173.37 74.9 173.8 72.2C174.23 69.4 174.67 66.8 175.1 66.2C175.67 65.5 176.23 68.5 176.8 70.8C177.4 73.2 178 74.9 178.6 74.3C179.5 73.4 180.4 67.5 181.3 63.2C182.23 58.8 183.17 56.1 184.1 56.1C184.7 56.1 185.3 57.1 185.9 60.2C186.63 64 187.37 70.9 188.1 75.2C188.43 77.2 188.77 78.6 189.1 80.4C189.8 84 190.5 88.8 191.2 92C191.6 93.8 192 95.1 192.4 95.5C193.5 96.6 194.6 91.3 195.7 87.4C196.4 84.9 197.1 83.1 197.8 82C198.3 81.2 198.9 80.8 199.4 80.9C200 81 200.6 81.6 201.2 83.5C201.9 85.8 202.6 89.8 203.3 93.7C204 97.6 204.7 101.4 205.4 105.5C206.2 110.2 207 115.3 207.8 120.7C208.33 124.3 208.87 128 209.4 131.3C209.9 134.5 210.4 137.3 210.9 138.8C211.2 139.8 211.6 140.2 211.9 139.5C212.3 138.7 212.7 136.3 213.1 135.8C213.5 135.4 213.9 137 214.3 140.4C214.67 143.5 215.03 148.2 215.4 152.3C215.9 157.9 216.4 162.3 216.9 165.5C217.47 169.1 218.03 171.1 218.6 171.6C219.1 172 219.5 171.4 220 170C220.4 168.8 220.8 167 221.2 164.8C221.9 160.8 222.6 155.6 223.3 156C223.7 156.3 224.1 158.4 224.5 160.5C224.87 162.4 225.23 164.2 225.6 164.8C226.4 166 227.1 162 227.9 162.4C228.5 162.8 229.1 165.9 229.7 168.5C230.33 171.2 230.97 173.2 231.6 172.2C232.23 171.2 232.87 167.2 233.5 161.5C234 157 234.5 151.4 235 144.6C235.37 139.7 235.73 134 236.1 133.7C236.5 133.3 236.9 139.1 237.3 144.7C237.8 151.7 238.3 158.2 238.8 163C239.27 167.5 239.73 170.6 240.2 171.3C240.67 172 241.13 170.4 241.6 168.5C241.93 167.1 242.27 165.6 242.6 165C242.9 164.5 243.3 165 243.6 165.2C244.3 165.5 245 164.5 245.7 163.7C246.4 163 247 162.5 247.7 162.7C248.5 162.9 249.4 164.1 250.2 166.2C251 168.3 251.9 171.3 252.7 170.2C253.5 169.1 254.4 163.8 255.2 164.2C255.9 164.6 256.5 168.6 257.2 169.2C257.7 169.6 258.3 168 258.8 166.5C259.3 165.1 259.8 164 260.3 164.7C260.8 165.5 261.3 168.1 261.8 167.1C262.23 166.3 262.67 162.7 263.1 160.1C263.43 158.1 263.77 156.7 264.1 156.5C264.53 156.3 264.97 158.3 265.4 161.6C265.9 165.3 266.4 170.8 266.9 171.9C267.33 172.9 267.77 170.6 268.2 167.5C268.53 165.2 268.87 162.4 269.2 159.7C269.53 157 269.87 154.4 270.2 150.3C270.4 147.9 270.6 144.8 270.8 139C270.93 135.2 271.07 130 271.2 124.1C271.33 118.1 271.47 111.2 271.6 104.9C271.83 93.8 272.07 84.3 272.3 84.2C272.53 84.2 272.77 93.6 273 104.6C273.13 110.9 273.27 117.7 273.4 123.9C273.53 130.1 273.67 135.8 273.8 141C273.9 144.9 274 148.6 274.1 151.6C274.3 157.6 274.5 160.9 274.7 163.2C275.27 169.8 275.83 168.3 276.4 168.2C277.2 168.1 277.9 170.5 278.7 171C279.3 171.4 279.9 170.6 280.5 170.2C281 169.9 281.5 169.7 282 169.5C282.6 169.2 283.2 168.8 283.8 168C284.3 167.3 284.9 166.2 285.4 166.2C285.9 166.2 286.3 167 286.8 167.6C287.2 168.1 287.7 168.5 288.1 168.3C288.7 168 289.2 166.5 289.8 165C290.3 163.6 290.9 162.1 291.4 162C291.9 161.9 292.3 162.9 292.8 163.8C293.2 164.5 293.7 165.2 294.1 165.9C294.8 167 295.5 168.3 296.2 169.5C296.9 170.8 297.7 171.9 298.4 172C299 172 299.6 171.4 300.2 170.6C300.9 169.7 301.7 168.7 302.4 167.5C303 166.4 303.7 165.2 304.3 165.4C305 165.7 305.7 167.7 306.4 167.7C307.1 167.6 307.9 165.2 308.6 166.2C309.4 167.3 310.2 172.5 311 171.5C311.6 170.7 312.2 166.4 312.8 163.1C313.33 160.1 313.87 157.9 314.4 155.4C314.8 153.5 315.2 151.5 315.6 151.8C316.03 152.1 316.47 155.1 316.9 158.5C317.4 162.4 317.9 166.7 318.4 169.1C318.8 171 319.2 171.6 319.6 171.3C320.13 170.9 320.67 168.6 321.2 166C321.7 163.5 322.2 160.6 322.7 160C323.2 159.5 323.7 161.2 324.2 163C324.7 164.8 325.2 166.6 325.7 167.5C326.5 168.7 327.2 167.6 328 168.3C328.7 169.1 329.5 171.6 330.2 171.3C330.6 171.1 331.1 169.9 331.5 168.6C331.93 167.2 332.37 165.7 332.8 161.7C333.2 158.1 333.6 152.4 334 150.1C334.5 147.3 335 149.8 335.5 151.6C336.17 153.9 336.83 154.8 337.5 158.6C338.1 162 338.7 167.7 339.3 170.5C339.8 172.9 340.3 173.2 340.8 172.1C341.3 171 341.8 168.6 342.3 166C342.8 163.4 343.3 160.5 343.8 158.5C344.37 156.2 344.93 155 345.5 155.5C346.2 156.2 346.9 159.7 347.6 163C348.23 166 348.87 169 349.5 168.5C350.1 168 350.8 164 351.4 161.5C351.9 159.6 352.4 158.6 352.9 158.5C353.5 158.4 354 159.3 354.6 161.5C355.2 163.9 355.8 167.7 356.4 170C357 172.2 357.6 172.9 358.2 172.1C358.7 171.4 359.2 169.6 359.7 169.1C360.2 168.6 360.7 169.4 361.2 169.8C361.9 170.4 362.7 170.2 363.4 169.8C364.2 169.4 364.9 168.6 365.7 167.5C366.2 166.8 366.7 165.9 367.2 164.4C367.7 163 368.2 161 368.7 161.5C369.2 162.1 369.7 165.3 370.2 167.4C370.83 170.1 371.47 171.2 372.1 171.3C372.73 171.4 373.37 170.5 374 167.4C374.5 165 375 161.2 375.5 158.5C375.87 156.5 376.23 155.1 376.6 155.5C377 156 377.4 158.7 377.8 161.5C378.3 164.9 378.8 168.4 379.3 169.1C379.8 169.7 380.3 167.5 380.8 164.5C381.3 161.4 381.8 157.5 382.3 157C382.8 156.6 383.3 159.5 383.8 163C384.2 165.8 384.6 168.9 385 170.5C385.63 173.1 386.27 171.9 386.9 171.3C387.3 170.9 387.7 170.8 388.1 170.6" class="ln" stroke="#2a2ad8" stroke-opacity="0.88"/>
<path d="M42.3 342.9C42.8 342.3 43.3 341.8 43.8 341.5C44.3 341.2 44.9 341.1 45.4 341.2C45.9 341.3 46.5 341.5 47 341.6C47.6 341.7 48.2 341.8 48.8 341.9C49.4 341.9 50 341.9 50.6 341.9C51.2 341.9 51.7 341.8 52.3 341.8C52.9 341.7 53.4 341.7 54 341.6C54.6 341.5 55.1 341.5 55.7 341.5C56.3 341.5 56.8 341.5 57.4 341.5C58 341.5 58.7 341.6 59.3 341.7C59.9 341.8 60.6 341.9 61.2 341.9C62.2 341.9 63.2 341.7 64.2 341C64.9 340.5 65.7 339.6 66.4 338.6C66.9 337.9 67.5 337.1 68 335.6C68.5 334.2 69 332.3 69.5 329.6C70 326.9 70.5 323.4 71 319C71.5 314.5 72 309.1 72.5 303.9C73 298.8 73.5 294 74 288.7C74.5 283.5 75 277.7 75.5 273.8C75.87 270.8 76.23 268.9 76.6 265.8C77.27 260.3 77.93 251.2 78.6 243.6C79.43 234.2 80.27 227.6 81.1 217C81.93 206.3 82.77 189.1 83.6 190.1C84.27 191 84.93 204 85.6 215.8C86.13 225.2 86.67 234.1 87.2 243.3C87.7 251.8 88.2 260.6 88.7 265.6C89.33 271.8 89.97 271.7 90.6 275C90.9 276.6 91.2 278.9 91.5 282.4C91.77 285.6 92.03 289.8 92.3 291.9C92.8 295.9 93.3 292.7 93.8 291.2C94.3 289.6 94.8 289.7 95.3 290.3C95.8 290.9 96.3 292.2 96.8 292.4C97.3 292.7 97.8 292.1 98.3 292.5C98.8 292.9 99.3 294.5 99.8 297.3C100.3 300.1 100.8 304.2 101.3 304C101.8 303.8 102.3 299.2 102.8 295.6C103.33 291.7 103.87 288.7 104.4 285.7C104.9 282.8 105.4 280.1 105.9 280.7C106.4 281.3 106.9 285 107.4 290.3C107.9 295.5 108.4 301.9 108.9 306.6C109.4 311.2 109.9 314.3 110.4 317.6C110.9 320.8 111.4 324.3 111.9 326.5C112.4 328.7 112.9 329.6 113.4 331.1C113.9 332.7 114.4 334.9 114.9 337.1C115.57 340 116.23 343 116.9 343.9C117.5 344.7 118.1 343.9 118.7 343.2C119.5 342.3 120.2 341.5 121 341.4C121.7 341.3 122.5 341.8 123.2 342.1C123.7 342.3 124.2 342.5 124.8 342.6C125.3 342.6 125.8 342.6 126.3 342.4C127.03 342.1 127.77 341.6 128.5 338.6C129 336.5 129.5 333.3 130 329.6C130.53 325.7 131.07 321.2 131.6 316C132.1 311 132.6 305.4 133.1 300.9C133.6 296.5 134.1 293.1 134.6 290.3C135.1 287.4 135.6 285.1 136.1 281.1C136.53 277.7 136.97 273 137.4 265.7C138.03 255.1 138.67 238.9 139.3 227.9C140.03 215.1 140.77 209.6 141.5 203.8C142.3 197.4 143.1 189 143.9 188.3C144.6 187.7 145.3 193.9 146 202.9C146.47 209 146.93 216.5 147.4 227.5C147.57 231.5 147.73 235.9 147.9 240C148.13 245.8 148.37 250.9 148.6 255.5C148.83 260.1 149.07 264.2 149.3 268C149.47 270.7 149.63 273.4 149.8 275.6C150.2 281 150.6 283.8 151 285.8C151.4 287.7 151.8 288.7 152.2 290.1C152.7 291.8 153.2 293.9 153.7 296C154.07 297.5 154.43 298.9 154.8 299.6C155.6 300.9 156.3 299 157.1 297.9C158.1 296.6 159.1 296.8 160.1 297C160.9 297.2 161.8 297.4 162.6 296C163.2 295 163.7 293.3 164.3 291.7C164.9 289.9 165.6 288.4 166.2 287.1C166.9 285.6 167.7 284.5 168.4 283.3C169 282.3 169.6 281.2 170.2 278.4C170.7 276.1 171.2 272.6 171.7 266.2C171.97 262.7 172.23 258.4 172.5 254C172.93 246.7 173.37 239.1 173.8 233.1C174.33 225.8 174.87 221.2 175.4 220.7C175.87 220.3 176.33 223.1 176.8 226C177.4 229.7 178 233.4 178.6 234.7C179.5 236.6 180.4 233.8 181.3 226.3C181.93 221 182.57 213.2 183.2 212.6C183.83 212 184.47 218.6 185.1 224.1C185.6 228.4 186.1 232.1 186.6 236.3C187.37 242.6 188.13 250 188.9 255.5C189.67 260.9 190.43 264.3 191.2 266.1C191.6 267.1 192 267.6 192.4 267.4C193 267.1 193.6 265.3 194.2 263.1C195 260.1 195.8 256.6 196.6 253.6C197.2 251.3 197.9 249.2 198.5 247.2C199.1 245.3 199.7 243.8 200.3 244.7C201 245.6 201.6 249.2 202.3 251.8C203.2 255.4 204.1 257.6 205 264.8C205.47 268.6 205.93 273.7 206.4 278.6C206.87 283.4 207.33 288 207.8 291.8C208.33 296.1 208.87 299.3 209.4 302.4C209.9 305.4 210.4 308.4 210.9 309.9C211.2 310.9 211.6 311.3 211.9 310.6C212.3 309.8 212.7 307.4 213.1 306.9C213.5 306.5 213.9 308.1 214.3 311.5C214.67 314.6 215.03 319.3 215.4 323.4C215.9 329 216.4 333.4 216.9 336.6C217.47 340.2 218.03 342.2 218.6 342.7C219.1 343.1 219.5 342.5 220 341.1C220.4 339.9 220.8 338.1 221.2 335.9C221.9 331.9 222.6 326.7 223.3 327.1C223.7 327.4 224.1 329.5 224.5 331.6C224.87 333.5 225.23 335.3 225.6 335.9C226.4 337.1 227.1 333.1 227.9 333.5C228.5 333.9 229.1 337 229.7 339.6C230.33 342.3 230.97 344.3 231.6 343.3C232.23 342.3 232.87 338.3 233.5 332.6C234 328.1 234.5 322.4 235 314.6C235.37 308.9 235.73 302.1 236.1 301.8C236.5 301.4 236.9 308.5 237.3 314.8C237.8 322.7 238.3 329.2 238.8 334.1C239.27 338.6 239.73 341.7 240.2 342.4C240.67 343.1 241.13 341.4 241.6 339.5C242.13 337.2 242.67 334.5 243.2 331C243.7 327.7 244.2 323.8 244.7 322.2C245.7 319.1 246.7 325.4 247.7 328.8C248.5 331.7 249.4 332.7 250.2 335.3C251 337.9 251.9 342 252.7 341.3C253.5 340.5 254.4 335 255.2 335.3C255.9 335.6 256.5 339.7 257.2 340.3C257.7 340.8 258.3 339 258.8 337.6C259.3 336.3 259.8 335.1 260.3 335.8C260.8 336.5 261.3 339 261.8 338.2C262.23 337.5 262.67 334.3 263.1 330.3C263.43 327.3 263.77 323.8 264.1 323.3C264.53 322.6 264.97 327.2 265.4 331.8C265.9 337.1 266.4 342.1 266.9 343C267.33 343.9 267.77 341.6 268.2 338.6C268.53 336.3 268.87 333.5 269.2 330.8C269.53 328.1 269.87 325.5 270.2 321.4C270.4 318.9 270.6 315.9 270.8 309.8C270.93 305.7 271.07 300.3 271.2 293.5C271.33 286.8 271.47 278.8 271.6 271C271.83 257.2 272.07 244 272.3 244C272.53 243.9 272.77 257 273 270.7C273.13 278.5 273.27 286.4 273.4 293.4C273.53 300.3 273.67 306.4 273.8 311.8C273.9 315.9 274 319.6 274.1 322.6C274.3 328.7 274.5 332 274.7 334.3C275.27 340.9 275.83 339.4 276.4 339.3C277.2 339.2 277.9 341.6 278.7 342.1C279.3 342.5 279.9 341.7 280.5 341.3C281 341 281.5 340.8 282 340.6C282.6 340.3 283.2 339.9 283.8 339.1C284.3 338.4 284.9 337.3 285.4 337.3C285.9 337.3 286.3 338.1 286.8 338.7C287.2 339.2 287.7 339.6 288.1 339.4C288.7 339.1 289.2 337.6 289.8 336.1C290.3 334.7 290.9 333.2 291.4 333.1C291.9 333 292.3 334 292.8 334.9C293.2 335.6 293.7 336.3 294.1 337C294.8 338.1 295.5 339.4 296.2 340.6C296.9 341.9 297.7 343 298.4 343.1C299 343.1 299.6 342.5 300.2 341.7C300.9 340.8 301.7 339.8 302.4 338.6C303 337.5 303.7 336.3 304.3 336.5C305 336.8 305.7 338.8 306.4 338.8C307.1 338.7 307.9 336.3 308.6 337.3C309.4 338.4 310.2 343.6 311 342.6C311.6 341.8 312.2 337.5 312.8 334.2C313.33 331.2 313.87 329 314.4 325.8C314.8 323.5 315.2 320.6 315.6 320.9C316.03 321.2 316.47 325.2 316.9 329C317.4 333.5 317.9 337.8 318.4 340.1C318.8 342.1 319.2 342.7 319.6 342.4C320.13 342 320.67 339.8 321.2 336.7C321.7 333.8 322.2 329.7 322.7 329.1C323.2 328.6 323.7 331.5 324.2 333.7C324.7 335.9 325.2 337.7 325.7 338.6C326.5 339.8 327.2 338.7 328 339.4C328.7 340.2 329.5 342.7 330.2 342.4C330.6 342.2 331.1 341.1 331.5 339.6C331.93 338.2 332.37 336.4 332.8 333C333.2 329.9 333.6 325.5 334 320.2C334.5 313.4 335 304.3 335.5 304.7C336.17 305.1 336.83 321.2 337.5 329.2C338.1 336.5 338.7 339.7 339.3 341.7C339.8 343.5 340.3 344.3 340.8 343.2C341.3 342.1 341.8 339.2 342.3 337.2C342.8 335.3 343.3 334.8 343.8 328.3C344.37 320.9 344.93 302.3 345.5 301.7C346.2 301 346.9 325.4 347.6 333.6C348.23 341 348.87 340.9 349.5 339.6C350.13 338.3 350.77 335.6 351.4 332.1C351.9 329.3 352.4 325.4 352.9 325.1C353.47 324.8 354.03 329.1 354.6 332.3C355.2 335.6 355.8 338.9 356.4 341.1C357 343.2 357.6 344 358.2 343.2C358.7 342.5 359.2 340.7 359.7 340.2C360.2 339.7 360.7 340.5 361.2 340.9C361.9 341.5 362.7 341.4 363.4 340.9C364.2 340.4 364.9 339.6 365.7 338.6C366.2 338 366.7 337.4 367.2 335.1C367.7 332.9 368.2 328.6 368.7 329.2C369.2 329.7 369.7 335.1 370.2 338.1C370.83 341.9 371.47 342.5 372.1 342.4C372.73 342.3 373.37 341.3 374 338.6C374.5 336.4 375 333.1 375.5 328.3C375.87 324.7 376.23 320.3 376.6 320.7C377 321.1 377.4 327.1 377.8 331.4C378.3 336.9 378.8 339.7 379.3 340.2C379.8 340.7 380.3 339 380.8 335.2C381.3 331.4 381.8 325.1 382.3 324.7C382.8 324.2 383.3 329.5 383.8 333.7C384.2 337.1 384.6 340.1 385 341.6C385.6 344.1 386.3 343 386.9 342.4C387.3 342 387.7 341.9 388.1 341.7L388.1 345.7C387.7 345.9 387.3 346 386.9 346.4C386.3 347 385.6 348.1 385 345.6C384.6 344.1 384.2 341.1 383.8 338.1C383.3 334.2 382.8 330.2 382.3 330.7C381.8 331.1 381.3 336.1 380.8 339.5C380.3 342.9 379.8 344.7 379.3 344.2C378.8 343.7 378.3 340.9 377.8 336.4C377.4 332.8 377 328.1 376.6 327.7C376.23 327.3 375.87 330.6 375.5 333.4C375 337.3 374.5 340.5 374 342.6C373.37 345.3 372.73 346.3 372.1 346.4C371.47 346.5 370.83 345.8 370.2 342.5C369.7 339.9 369.2 335.7 368.7 335.2C368.2 334.6 367.7 337.6 367.2 339.5C366.7 341.3 366.2 342 365.7 342.6C364.9 343.6 364.2 344.4 363.4 344.9C362.7 345.4 361.9 345.5 361.2 344.9C360.7 344.5 360.2 343.7 359.7 344.2C359.2 344.7 358.7 346.5 358.2 347.2C357.6 348 357 347.2 356.4 345.1C355.8 342.9 355.2 339.4 354.6 336.6C354.03 333.9 353.47 331.8 352.9 332.1C352.4 332.4 351.9 334.4 351.4 336.6C350.77 339.3 350.13 342.3 349.5 343.6C348.87 344.9 348.23 344.7 347.6 337.9C346.9 330.4 346.2 315 345.5 315.7C344.93 316.3 344.37 327.5 343.8 333.3C343.3 338.4 342.8 339.3 342.3 341.2C341.8 343.2 341.3 346.1 340.8 347.2C340.3 348.3 339.8 347.5 339.3 345.7C338.7 343.7 338.1 340.3 337.5 333.5C336.83 325.9 336.17 314.1 335.5 313.7C335 313.3 334.5 319.3 334 325C333.6 329.6 333.2 334 332.8 337C332.37 340.4 331.93 342.2 331.5 343.6C331.1 345.1 330.6 346.2 330.2 346.4C329.5 346.7 328.7 344.2 328 343.4C327.2 342.7 326.5 343.8 325.7 342.6C325.2 341.7 324.7 339.9 324.2 338.1C323.7 336.3 323.2 334.6 322.7 335.1C322.2 335.7 321.7 338.6 321.2 341.1C320.67 343.7 320.13 346 319.6 346.4C319.2 346.7 318.8 346.1 318.4 344.2C317.9 341.8 317.4 337.5 316.9 333.6C316.47 330.2 316.03 327.2 315.6 326.9C315.2 326.6 314.8 328.6 314.4 330.5C313.87 333 313.33 335.2 312.8 338.2C312.2 341.5 311.6 345.8 311 346.6C310.2 347.6 309.4 342.4 308.6 341.3C307.9 340.3 307.1 342.7 306.4 342.8C305.7 342.8 305 340.8 304.3 340.5C303.7 340.3 303 341.5 302.4 342.6C301.7 343.8 300.9 344.8 300.2 345.7C299.6 346.5 299 347.1 298.4 347.1C297.7 347 296.9 345.9 296.2 344.6C295.5 343.4 294.8 342.1 294.1 341C293.7 340.3 293.2 339.6 292.8 338.9C292.3 338 291.9 337 291.4 337.1C290.9 337.2 290.3 338.7 289.8 340.1C289.2 341.6 288.7 343.1 288.1 343.4C287.7 343.6 287.2 343.2 286.8 342.7C286.3 342.1 285.9 341.3 285.4 341.3C284.9 341.3 284.3 342.4 283.8 343.1C283.2 343.9 282.6 344.3 282 344.6C281.5 344.8 281 345 280.5 345.3C279.9 345.7 279.3 346.5 278.7 346.1C277.9 345.6 277.2 343.2 276.4 343.3C275.83 343.4 275.27 344.9 274.7 338.3C274.5 336 274.3 332.7 274.1 326.7C274 323.7 273.9 320.1 273.8 316.2C273.67 311 273.53 305.3 273.4 299.1C273.27 292.8 273.13 285.9 273 279.2C272.77 267.6 272.53 256.9 272.3 257C272.07 257 271.83 267.8 271.6 279.5C271.47 286.2 271.33 293.2 271.2 299.2C271.07 305.3 270.93 310.3 270.8 314.2C270.6 320 270.4 323 270.2 325.4C269.87 329.5 269.53 332.1 269.2 334.8C268.87 337.5 268.53 340.3 268.2 342.6C267.77 345.6 267.33 347.9 266.9 347.1C266.4 346.1 265.9 341.2 265.4 336.6C264.97 332.6 264.53 328.8 264.1 329.2C263.77 329.5 263.43 332.4 263.1 335C262.67 338.4 262.23 341.6 261.8 342.3C261.3 343 260.8 340.5 260.3 339.8C259.8 339.1 259.3 340.3 258.8 341.6C258.3 343 257.7 344.8 257.2 344.3C256.5 343.7 255.9 339.6 255.2 339.3C254.4 339 253.5 344.5 252.7 345.3C251.9 346 251 341.9 250.2 339.3C249.4 336.7 248.5 335.6 247.7 333.2C246.7 330.2 245.7 325.3 244.7 328.2C244.2 329.7 243.7 333.2 243.2 336C242.67 339.1 242.13 341.5 241.6 343.7C241.1 345.5 240.7 347.1 240.2 346.4C239.73 345.7 239.27 342.6 238.8 338.1C238.3 333.3 237.8 326.8 237.3 319.8C236.9 314.2 236.5 308.4 236.1 308.8C235.73 309.1 235.37 314.8 235 319.7C234.5 326.5 234 332.1 233.5 336.6C232.87 342.3 232.23 346.3 231.6 347.3C230.97 348.3 230.33 346.3 229.7 343.6C229.1 341 228.5 337.9 227.9 337.5C227.1 337.1 226.4 341.1 225.6 339.9C225.23 339.3 224.87 337.5 224.5 335.6C224.1 333.5 223.7 331.4 223.3 331.1C222.6 330.7 221.9 335.9 221.2 339.9C220.8 342.1 220.4 343.9 220 345.1C219.5 346.5 219.1 347.1 218.6 346.7C218.03 346.2 217.47 344.2 216.9 340.6C216.4 337.4 215.9 333 215.4 327.4C215.03 323.3 214.67 318.6 214.3 315.5C213.9 312.1 213.5 310.5 213.1 310.9C212.7 311.4 212.3 313.8 211.9 314.6C211.6 315.3 211.2 314.9 210.9 313.9C210.4 312.4 209.9 309.4 209.4 306.4C208.87 303.3 208.33 300.1 207.8 295.8C207.33 292 206.87 287.4 206.4 282.6C205.93 277.7 205.47 272.6 205 268.9C204.1 261.6 203.2 259.5 202.3 256.6C201.6 254.4 201 251.9 200.3 251.4C199.7 251 199.1 252.3 198.5 253.6C197.9 254.9 197.2 256.2 196.6 258.1C195.8 260.6 195 264.2 194.2 267.1C193.6 269.3 193 271.1 192.4 271.4C192 271.6 191.6 271.1 191.2 270.1C190.43 268.3 189.67 264.9 188.9 259.5C188.13 254 187.37 246.5 186.6 240.3C186.1 236.3 185.6 232.8 185.1 229.2C184.47 224.7 183.83 220 183.2 220.6C182.57 221.2 181.93 227.1 181.3 231.4C180.4 237.6 179.5 240.6 178.6 238.8C178 237.6 177.4 234.3 176.8 231.5C176.33 229.3 175.87 227.3 175.4 227.7C174.87 228.2 174.33 231.8 173.8 238.4C173.37 243.7 172.93 251 172.5 258.1C172.23 262.5 171.97 266.8 171.7 270.2C171.2 276.6 170.7 280.1 170.2 282.4C169.6 285.2 169 286.3 168.4 287.3C167.7 288.5 166.9 289.6 166.2 291.1C165.6 292.4 164.9 293.9 164.3 295.7C163.7 297.3 163.2 299 162.6 300C161.8 301.4 160.9 301.2 160.1 301C159.1 300.8 158.1 300.6 157.1 301.9C156.3 303 155.6 304.9 154.8 303.6C154.43 302.9 154.07 301.5 153.7 300C153.2 297.9 152.7 295.8 152.2 294.1C151.8 292.7 151.4 291.7 151 289.8C150.6 287.8 150.2 285 149.8 279.6C149.63 277.4 149.47 274.7 149.3 272C149.07 268.2 148.83 264.1 148.6 259.5C148.37 254.9 148.13 249.8 147.9 244C147.73 239.9 147.57 235.5 147.4 231.6C146.93 220.7 146.47 213.5 146 208.4C145.3 200.8 144.6 198 143.9 198.3C143.1 198.6 142.3 203.1 141.5 208.5C140.77 213.4 140.03 219.1 139.3 231.9C138.67 242.9 138.03 259.1 137.4 269.7C136.97 277 136.53 281.7 136.1 285.1C135.6 289.1 135.1 291.4 134.6 294.3C134.1 297.1 133.6 300.5 133.1 304.9C132.6 309.4 132.1 315 131.6 320C131.07 325.2 130.53 329.7 130 333.6C129.5 337.3 129 340.5 128.5 342.6C127.77 345.6 127.03 346.1 126.3 346.4C125.8 346.6 125.3 346.6 124.8 346.6C124.2 346.5 123.7 346.3 123.2 346.1C122.5 345.8 121.7 345.3 121 345.4C120.2 345.5 119.5 346.3 118.7 347.2C118.1 347.9 117.5 348.7 116.9 347.9C116.23 347 115.57 344 114.9 341.1C114.4 338.9 113.9 336.7 113.4 335.1C112.9 333.6 112.4 332.7 111.9 330.5C111.4 328.3 110.9 324.8 110.4 321.6C109.9 318.3 109.4 315.2 108.9 310.8C108.4 306.4 107.9 300.6 107.4 296.6C106.9 292.5 106.4 290.3 105.9 289.7C105.4 289.1 104.9 290.3 104.4 292C103.87 293.8 103.33 296.2 102.8 300.4C102.3 304.4 101.8 309.8 101.3 310C100.8 310.2 100.3 305.2 99.8 301.9C99.3 298.6 98.8 297 98.3 296.5C97.8 296 97.3 296.7 96.8 296.4C96.3 296.2 95.8 294.9 95.3 294.3C94.8 293.7 94.3 293.6 93.8 295.2C93.3 296.7 92.8 299.9 92.3 295.9C92.03 293.8 91.77 289.6 91.5 286.4C91.2 282.9 90.9 280.6 90.6 279C89.97 275.7 89.33 275.8 88.7 269.6C88.2 264.6 87.7 255.8 87.2 247.3C86.67 238.3 86.13 229.7 85.6 221.8C84.93 211.8 84.27 203 83.6 202.1C82.77 201.1 81.93 212.6 81.1 221.9C80.27 231.2 79.43 238.2 78.6 247.6C77.93 255.2 77.27 264.3 76.6 269.8C76.23 272.9 75.87 274.8 75.5 277.8C75 281.7 74.5 287.5 74 292.7C73.5 298 73 302.8 72.5 307.9C72 313.1 71.5 318.5 71 323C70.5 327.4 70 330.9 69.5 333.6C69 336.3 68.5 338.2 68 339.6C67.5 341.1 66.9 341.9 66.4 342.6C65.7 343.6 64.9 344.5 64.2 345C63.2 345.7 62.2 345.9 61.2 345.9C60.6 345.9 59.9 345.8 59.3 345.7C58.7 345.6 58 345.5 57.4 345.5C56.8 345.5 56.3 345.5 55.7 345.5C55.1 345.5 54.6 345.5 54 345.6C53.4 345.7 52.9 345.7 52.3 345.8C51.7 345.8 51.2 345.9 50.6 345.9C50 345.9 49.4 345.9 48.8 345.9C48.2 345.8 47.6 345.7 47 345.6C46.5 345.5 45.9 345.3 45.4 345.2C44.9 345.1 44.3 345.2 43.8 345.5C43.3 345.8 42.8 346.3 42.3 346.9Z" fill="#d4d0dc" fill-opacity="0.6"/>
<path d="M42.3 342.7C42.8 342.1 43.3 341.6 43.8 341.3C44.3 341 44.9 340.9 45.4 341C45.9 341.1 46.5 341.3 47 341.4C47.6 341.5 48.2 341.6 48.8 341.7C49.4 341.7 50 341.7 50.6 341.7C51.2 341.7 51.7 341.6 52.3 341.6C52.9 341.5 53.4 341.5 54 341.4C54.6 341.3 55.1 341.3 55.7 341.3C56.3 341.3 56.8 341.3 57.4 341.3C58 341.3 58.7 341.4 59.3 341.5C59.9 341.6 60.6 341.7 61.2 341.7C62.2 341.7 63.2 341.5 64.2 340.8C64.9 340.3 65.7 339.4 66.4 338.4C66.9 337.7 67.5 336.9 68 335.4C68.5 334 69 332.1 69.5 329.4C70 326.7 70.5 323.2 71 318.8C71.5 314.3 72 308.9 72.5 303.7C73 298.6 73.5 293.8 74 288.5C74.5 283.2 75 277.5 75.5 273.5C75.87 270.6 76.23 268.6 76.6 265.5C77.27 259.9 77.93 250.8 78.6 243.1C79.43 233.5 80.27 226.4 81.1 216.2C81.93 206 82.77 191.4 83.6 192.5C84.27 193.3 84.93 204.4 85.6 215.5C86.13 224.3 86.67 233.3 87.2 242.5C87.7 251.2 88.2 260.1 88.7 265.1C89.33 271.4 89.97 271.2 90.6 274.8C90.9 276.5 91.2 279 91.5 281.9C91.77 284.5 92.03 287.3 92.3 288.8C92.8 291.6 93.3 289.6 93.8 288.5C94.3 287.5 94.8 287.4 95.3 287.9C95.8 288.4 96.3 289.6 96.8 289.8C97.3 290.1 97.8 289.5 98.3 290.4C98.8 291.4 99.3 293.9 99.8 297.4C100.3 300.8 100.8 305.2 101.3 304.8C101.8 304.5 102.3 299.5 102.8 295.8C103.33 291.9 103.87 289.5 104.4 286.6C104.9 283.8 105.4 280.9 105.9 281.4C106.4 282 106.9 286.1 107.4 291.2C107.9 296.2 108.4 302.1 108.9 306.5C109.4 311 109.9 314 110.4 317.3C110.9 320.7 111.4 324.1 111.9 326.3C112.4 328.5 112.9 329.4 113.4 330.9C113.9 332.5 114.4 334.7 114.9 336.9C115.57 339.8 116.23 342.8 116.9 343.7C117.5 344.5 118.1 343.7 118.7 343C119.5 342.1 120.2 341.3 121 341.2C121.7 341.1 122.5 341.6 123.2 341.9C123.7 342.1 124.2 342.3 124.8 342.4C125.3 342.4 125.8 342.4 126.3 342.2C127.03 341.9 127.77 341.4 128.5 338.4C129 336.3 129.5 333.1 130 329.4C130.53 325.5 131.07 321 131.6 315.8C132.1 310.8 132.6 305.2 133.1 300.7C133.6 296.2 134.1 292.9 134.6 290.1C135.1 287.2 135.6 284.8 136.1 280.8C136.53 277.4 136.97 272.7 137.4 265.4C138.03 254.7 138.67 238.3 139.3 227.2C140.03 214.3 140.77 208.5 141.5 203C142.3 197 143.1 190.4 143.9 189.9C144.6 189.4 145.3 194 146 202.5C146.47 208.2 146.93 215.6 147.4 226.7C147.57 230.7 147.73 235.2 147.9 239.3C148.13 245.1 148.37 250.3 148.6 255C148.83 259.6 149.07 263.7 149.3 267.6C149.47 270.3 149.63 273 149.8 275.2C150.2 280.6 150.6 283.5 151 285.5C151.4 287.4 151.8 288.5 152.2 289.8C152.7 291.5 153.2 293.7 153.7 295.8C154.07 297.3 154.43 298.7 154.8 299.4C155.6 300.7 156.3 298.8 157.1 297.7C158.1 296.4 159.1 296.6 160.1 296.8C160.9 297 161.8 297.2 162.6 295.8C163.2 294.8 163.7 293.1 164.3 291.5C164.9 289.7 165.6 288.2 166.2 286.9C166.9 285.4 167.7 284.3 168.4 283.1C169 282.1 169.6 281 170.2 278.2C170.7 275.9 171.2 272.4 171.7 266C171.97 262.5 172.23 258.2 172.5 253.8C172.93 246.7 173.37 239.2 173.8 233.5C174.33 226.6 174.87 222.5 175.4 222C175.87 221.6 176.33 224 176.8 226.5C177.4 229.8 178 233.2 178.6 234.5C179.5 236.6 180.4 234.3 181.3 226.6C181.93 221.2 182.57 213 183.2 212.4C183.83 211.9 184.47 219 185.1 224.4C185.6 228.8 186.1 232.1 186.6 236.1C187.37 242.2 188.13 249.8 188.9 255.3C189.67 260.8 190.43 264.1 191.2 265.9C191.6 266.9 192 267.4 192.4 267.2C193 266.9 193.6 265.1 194.2 262.9C195 259.9 195.8 256.3 196.6 253.7C197.2 251.6 197.9 250.2 198.5 248.2C199.1 246.3 199.7 244 200.3 244.6C200.97 245.2 201.63 249.2 202.3 252C203.2 255.8 204.1 257.5 205 264.7C205.47 268.4 205.93 273.5 206.4 278.4C206.87 283.2 207.33 287.8 207.8 291.6C208.33 295.9 208.87 299.1 209.4 302.2C209.9 305.2 210.4 308.2 210.9 309.7C211.2 310.7 211.6 311.1 211.9 310.4C212.3 309.6 212.7 307.2 213.1 306.7C213.5 306.3 213.9 307.9 214.3 311.3C214.67 314.4 215.03 319.1 215.4 323.2C215.9 328.8 216.4 333.2 216.9 336.4C217.47 340 218.03 342 218.6 342.5C219.1 342.9 219.5 342.3 220 340.9C220.4 339.7 220.8 337.9 221.2 335.7C221.9 331.7 222.6 326.5 223.3 326.9C223.7 327.2 224.1 329.3 224.5 331.4C224.87 333.3 225.23 335.1 225.6 335.7C226.4 336.9 227.1 332.9 227.9 333.3C228.5 333.7 229.1 336.8 229.7 339.4C230.33 342.1 230.97 344.1 231.6 343.1C232.23 342.1 232.87 338.1 233.5 332.4C234 327.9 234.5 322.2 235 314.9C235.37 309.6 235.73 303.4 236.1 303.1C236.5 302.7 236.9 309.2 237.3 315.1C237.8 322.5 238.3 329 238.8 333.9C239.27 338.4 239.73 341.5 240.2 342.2C240.67 342.9 241.13 341.3 241.6 339.4C242.13 337.2 242.67 334.6 243.2 331.3C243.7 328.2 244.2 324.6 244.7 323C245.7 320 246.7 325.6 247.7 328.8C248.5 331.4 249.4 332.5 250.2 335.1C251 337.7 251.9 341.8 252.7 341.1C253.5 340.3 254.4 334.8 255.2 335.1C255.9 335.4 256.5 339.5 257.2 340.1C257.7 340.6 258.3 338.8 258.8 337.4C259.3 336.1 259.8 334.9 260.3 335.6C260.8 336.3 261.3 338.8 261.8 338C262.23 337.4 262.67 334.2 263.1 330.5C263.43 327.6 263.77 324.5 264.1 324C264.53 323.5 264.97 327.7 265.4 332C265.9 336.9 266.4 341.9 266.9 342.8C267.33 343.7 267.77 341.4 268.2 338.4C268.53 336.1 268.87 333.3 269.2 330.6C269.53 327.9 269.87 325.3 270.2 321.2C270.4 318.8 270.6 315.7 270.8 309.8C270.93 305.8 271.07 300.6 271.2 294.2C271.33 287.8 271.47 280.3 271.6 273C271.83 260.3 272.07 248.3 272.3 248.3C272.53 248.2 272.77 260.1 273 272.8C273.13 280 273.27 287.4 273.4 294C273.53 300.6 273.67 306.5 273.8 311.8C273.9 315.8 274 319.5 274.1 322.5C274.3 328.5 274.5 331.8 274.7 334.1C275.27 340.7 275.83 339.2 276.4 339.1C277.2 339 277.9 341.4 278.7 341.9C279.3 342.3 279.9 341.5 280.5 341.1C281 340.8 281.5 340.6 282 340.4C282.6 340.1 283.2 339.7 283.8 338.9C284.3 338.2 284.9 337.1 285.4 337.1C285.9 337.1 286.3 337.9 286.8 338.5C287.2 339 287.7 339.4 288.1 339.2C288.7 338.9 289.2 337.4 289.8 335.9C290.3 334.5 290.9 333 291.4 332.9C291.9 332.8 292.3 333.8 292.8 334.7C293.2 335.4 293.7 336.1 294.1 336.8C294.8 337.9 295.5 339.2 296.2 340.4C296.9 341.7 297.7 342.8 298.4 342.9C299 342.9 299.6 342.3 300.2 341.5C300.9 340.6 301.7 339.6 302.4 338.4C303 337.3 303.7 336.1 304.3 336.3C305 336.6 305.7 338.6 306.4 338.6C307.1 338.5 307.9 336.1 308.6 337.1C309.4 338.2 310.2 343.4 311 342.4C311.6 341.6 312.2 337.3 312.8 334C313.33 331 313.87 328.8 314.4 326C314.8 323.9 315.2 321.4 315.6 321.7C316.03 322 316.47 325.5 316.9 329.1C317.4 333.3 317.9 337.6 318.4 339.9C318.8 341.9 319.2 342.5 319.6 342.2C320.13 341.8 320.67 339.6 321.2 336.7C321.7 334 322.2 330.5 322.7 329.9C323.2 329.4 323.7 331.7 324.2 333.7C324.7 335.7 325.2 337.5 325.7 338.4C326.5 339.6 327.2 338.5 328 339.2C328.7 340 329.5 342.4 330.2 342.2C330.6 342 331.1 340.9 331.5 339.4C331.93 338 332.37 336.1 332.8 332.9C333.2 329.9 333.6 325.8 334 320.3C334.5 313.4 335 304 335.5 304C336.17 304.1 336.83 320.5 337.5 329.1C338.1 336.9 338.7 339.7 339.3 341.6C339.8 343.1 340.3 344 340.8 343C341.3 341.9 341.8 338.9 342.3 337.1C342.8 335.2 343.3 334.7 343.8 328.6C344.37 321.6 344.93 305.7 345.5 305C346.2 304.1 346.9 325.2 347.6 333.5C348.23 341 348.87 340.8 349.5 339.4C350.13 338 350.77 335.2 351.4 332.1C351.9 329.7 352.4 326.7 352.9 326.4C353.47 326.1 354.03 329.3 354.6 332.2C355.2 335.3 355.8 338.7 356.4 340.9C357 343 357.6 343.8 358.2 343C358.7 342.3 359.2 340.5 359.7 340C360.2 339.5 360.7 340.3 361.2 340.7C361.9 341.3 362.7 341.2 363.4 340.7C364.2 340.2 364.9 339.4 365.7 338.4C366.2 337.8 366.7 337.2 367.2 335.1C367.7 333.1 368.2 329.4 368.7 330C369.2 330.5 369.7 335.3 370.2 338.1C370.83 341.7 371.47 342.3 372.1 342.2C372.73 342.1 373.37 341.1 374 338.4C374.5 336.2 375 333 375.5 328.6C375.87 325.4 376.23 321.6 376.6 322C377 322.4 377.4 327.8 377.8 331.7C378.3 336.7 378.8 339.5 379.3 340C379.8 340.5 380.3 338.7 380.8 335.1C381.3 331.5 381.8 325.9 382.3 325.5C382.8 325 383.3 329.6 383.8 333.7C384.2 336.9 384.6 339.9 385 341.4C385.6 343.9 386.3 342.8 386.9 342.2C387.3 341.8 387.7 341.7 388.1 341.5L388.1 345.9C387.7 346.1 387.3 346.2 386.9 346.6C386.3 347.2 385.6 348.3 385 345.8C384.6 344.3 384.2 341.3 383.8 338.3C383.3 334.4 382.8 330.4 382.3 330.9C381.8 331.3 381.3 336.3 380.8 339.7C380.3 343.1 379.8 344.9 379.3 344.4C378.8 343.9 378.3 341.1 377.8 336.6C377.4 333 377 328.3 376.6 327.9C376.23 327.5 375.87 330.8 375.5 333.6C375 337.5 374.5 340.7 374 342.8C373.37 345.5 372.73 346.5 372.1 346.6C371.47 346.7 370.83 346 370.2 342.7C369.7 340.1 369.2 335.9 368.7 335.4C368.2 334.8 367.7 337.8 367.2 339.7C366.7 341.5 366.2 342.2 365.7 342.8C364.9 343.8 364.2 344.6 363.4 345.1C362.7 345.6 361.9 345.7 361.2 345.1C360.7 344.7 360.2 343.9 359.7 344.4C359.2 344.9 358.7 346.7 358.2 347.4C357.6 348.2 357 347.4 356.4 345.3C355.8 343.1 355.2 339.6 354.6 336.8C354.03 334.1 353.47 332 352.9 332.3C352.4 332.6 351.9 334.6 351.4 336.8C350.77 339.5 350.13 342.4 349.5 343.8C348.87 345.2 348.23 345.2 347.6 338.1C346.9 330.2 346.2 313.5 345.5 314.4C344.93 315.1 344.37 327.3 343.8 333.5C343.3 338.9 342.8 339.6 342.3 341.5C341.8 343.3 341.3 346.3 340.8 347.4C340.3 348.4 339.8 347.5 339.3 346C338.7 344.1 338.1 341.2 337.5 333.6C336.83 325.2 336.17 311 335.5 310.9C335 310.9 334.5 318.8 334 325.1C333.6 330.2 333.2 334.3 332.8 337.3C332.37 340.5 331.93 342.4 331.5 343.8C331.1 345.3 330.6 346.4 330.2 346.6C329.5 346.8 328.7 344.4 328 343.6C327.2 342.9 326.5 344 325.7 342.8C325.2 341.9 324.7 340.1 324.2 338.3C323.7 336.5 323.2 334.8 322.7 335.3C322.2 335.9 321.7 338.8 321.2 341.3C320.67 343.9 320.13 346.2 319.6 346.6C319.2 346.9 318.8 346.3 318.4 344.4C317.9 342 317.4 337.7 316.9 333.8C316.47 330.4 316.03 327.4 315.6 327.1C315.2 326.8 314.8 328.8 314.4 330.7C313.87 333.2 313.33 335.4 312.8 338.4C312.2 341.7 311.6 346 311 346.8C310.2 347.8 309.4 342.6 308.6 341.5C307.9 340.5 307.1 342.9 306.4 343C305.7 343 305 341 304.3 340.7C303.7 340.5 303 341.7 302.4 342.8C301.7 344 300.9 345 300.2 345.9C299.6 346.7 299 347.3 298.4 347.3C297.7 347.2 296.9 346.1 296.2 344.8C295.5 343.6 294.8 342.3 294.1 341.2C293.7 340.5 293.2 339.8 292.8 339.1C292.3 338.2 291.9 337.2 291.4 337.3C290.9 337.4 290.3 338.9 289.8 340.3C289.2 341.8 288.7 343.3 288.1 343.6C287.7 343.8 287.2 343.4 286.8 342.9C286.3 342.3 285.9 341.5 285.4 341.5C284.9 341.5 284.3 342.6 283.8 343.3C283.2 344.1 282.6 344.5 282 344.8C281.5 345 281 345.2 280.5 345.5C279.9 345.9 279.3 346.7 278.7 346.3C277.9 345.8 277.2 343.4 276.4 343.5C275.83 343.6 275.27 345.1 274.7 338.5C274.5 336.2 274.3 332.9 274.1 326.9C274 323.9 273.9 320.3 273.8 316.4C273.67 311.2 273.53 305.5 273.4 299.3C273.27 293 273.13 286.1 273 279.4C272.77 267.8 272.53 257.1 272.3 257.2C272.07 257.2 271.83 268 271.6 279.7C271.47 286.4 271.33 293.4 271.2 299.4C271.07 305.5 270.93 310.5 270.8 314.4C270.6 320.2 270.4 323.2 270.2 325.6C269.87 329.7 269.53 332.3 269.2 335C268.87 337.7 268.53 340.5 268.2 342.8C267.77 345.8 267.33 348.1 266.9 347.3C266.4 346.3 265.9 341.4 265.4 336.8C264.97 332.8 264.53 329 264.1 329.4C263.77 329.7 263.43 332.6 263.1 335.2C262.67 338.6 262.23 341.8 261.8 342.5C261.3 343.2 260.8 340.7 260.3 340C259.8 339.3 259.3 340.5 258.8 341.8C258.3 343.2 257.7 345 257.2 344.5C256.5 343.9 255.9 339.8 255.2 339.5C254.4 339.2 253.5 344.7 252.7 345.5C251.9 346.2 251 342.1 250.2 339.5C249.4 336.9 248.5 335.8 247.7 333.4C246.7 330.4 245.7 325.5 244.7 328.4C244.2 329.9 243.7 333.4 243.2 336.2C242.67 339.3 242.13 341.7 241.6 343.9C241.1 345.7 240.7 347.3 240.2 346.6C239.73 345.9 239.27 342.8 238.8 338.3C238.3 333.5 237.8 327 237.3 320C236.9 314.4 236.5 308.6 236.1 309C235.73 309.3 235.37 315 235 319.9C234.5 326.7 234 332.3 233.5 336.8C232.87 342.5 232.23 346.5 231.6 347.5C230.97 348.5 230.33 346.5 229.7 343.8C229.1 341.2 228.5 338.1 227.9 337.7C227.1 337.3 226.4 341.3 225.6 340.1C225.23 339.5 224.87 337.7 224.5 335.8C224.1 333.7 223.7 331.6 223.3 331.3C222.6 330.9 221.9 336.1 221.2 340.1C220.8 342.3 220.4 344.1 220 345.3C219.5 346.7 219.1 347.3 218.6 346.9C218.03 346.4 217.47 344.4 216.9 340.8C216.4 337.6 215.9 333.2 215.4 327.6C215.03 323.5 214.67 318.8 214.3 315.7C213.9 312.3 213.5 310.7 213.1 311.1C212.7 311.6 212.3 314 211.9 314.8C211.6 315.5 211.2 315.1 210.9 314.1C210.4 312.6 209.9 309.6 209.4 306.6C208.87 303.5 208.33 300.3 207.8 296C207.33 292.2 206.87 287.6 206.4 282.8C205.93 277.9 205.47 272.8 205 269.1C204.1 261.9 203.2 260.2 202.3 256.7C201.6 254.2 201 250.7 200.3 250.3C199.7 250 199.1 252.2 198.5 253.8C197.9 255.4 197.2 256.5 196.6 258.3C195.8 260.7 195 264.3 194.2 267.3C193.6 269.5 193 271.3 192.4 271.6C192 271.8 191.6 271.3 191.2 270.3C190.43 268.5 189.67 265.2 188.9 259.7C188.13 254.2 187.37 246.6 186.6 240.5C186.1 236.6 185.6 233.4 185.1 229.4C184.47 224.4 183.83 218.3 183.2 218.8C182.57 219.4 181.93 226.7 181.3 231.6C180.4 238.6 179.5 240.9 178.6 239C178 237.7 177.4 234.5 176.8 231.7C176.33 229.5 175.87 227.5 175.4 227.9C174.87 228.4 174.33 232 173.8 238.6C173.37 243.9 172.93 251.2 172.5 258.3C172.23 262.7 171.97 267 171.7 270.4C171.2 276.8 170.7 280.3 170.2 282.6C169.6 285.4 169 286.5 168.4 287.5C167.7 288.7 166.9 289.8 166.2 291.3C165.6 292.6 164.9 294.1 164.3 295.9C163.7 297.5 163.2 299.2 162.6 300.2C161.8 301.6 160.9 301.4 160.1 301.2C159.1 301 158.1 300.8 157.1 302.1C156.3 303.2 155.6 305.1 154.8 303.8C154.43 303.1 154.07 301.7 153.7 300.2C153.2 298.1 152.7 295.9 152.2 294.2C151.8 292.9 151.4 291.8 151 289.9C150.6 287.9 150.2 285 149.8 279.6C149.63 277.4 149.47 274.7 149.3 272C149.07 268.1 148.83 264 148.6 259.4C148.37 254.7 148.13 249.5 147.9 243.7C147.73 239.6 147.57 235.2 147.4 231.2C146.93 220.1 146.47 212.8 146 207.7C145.3 199.9 144.6 197 143.9 197.3C143.1 197.6 142.3 202.2 141.5 207.7C140.77 212.8 140.03 218.7 139.3 231.6C138.67 242.7 138.03 259.1 137.4 269.8C136.97 277.1 136.53 281.8 136.1 285.2C135.6 289.2 135.1 291.6 134.6 294.5C134.1 297.3 133.6 300.6 133.1 305.1C132.6 309.6 132.1 315.2 131.6 320.2C131.07 325.4 130.53 329.9 130 333.8C129.5 337.5 129 340.7 128.5 342.8C127.77 345.8 127.03 346.3 126.3 346.6C125.8 346.8 125.3 346.8 124.8 346.8C124.2 346.7 123.7 346.5 123.2 346.3C122.5 346 121.7 345.5 121 345.6C120.2 345.7 119.5 346.5 118.7 347.4C118.1 348.1 117.5 348.9 116.9 348.1C116.23 347.2 115.57 344.2 114.9 341.3C114.4 339.1 113.9 336.9 113.4 335.3C112.9 333.8 112.4 332.9 111.9 330.7C111.4 328.5 110.9 325.1 110.4 321.8C109.9 318.5 109.4 315.4 108.9 311C108.4 306.7 107.9 301.2 107.4 296.7C106.9 292.3 106.4 288.9 105.9 288.3C105.4 287.8 104.9 290 104.4 292.1C103.87 294.4 103.33 296.6 102.8 300.6C102.3 304.5 101.8 309.9 101.3 310.2C100.8 310.6 100.3 305.8 99.8 302.1C99.3 298.4 98.8 295.8 98.3 294.9C97.8 293.9 97.3 294.5 96.8 294.2C96.3 294 95.8 292.8 95.3 292.3C94.8 291.8 94.3 291.9 93.8 292.9C93.3 294 92.8 296 92.3 293.2C92.03 291.7 91.77 288.9 91.5 286.3C91.2 283.4 90.9 280.9 90.6 279.2C89.97 275.6 89.33 275.8 88.7 269.5C88.2 264.5 87.7 255.6 87.2 246.9C86.67 237.8 86.13 229 85.6 220.9C84.93 210.8 84.27 201.7 83.6 200.9C82.77 199.8 81.93 211.6 81.1 221.1C80.27 230.6 79.43 237.9 78.6 247.5C77.93 255.2 77.27 264.3 76.6 269.9C76.23 273 75.87 275 75.5 277.9C75 281.9 74.5 287.6 74 292.9C73.5 298.2 73 303 72.5 308.1C72 313.3 71.5 318.7 71 323.2C70.5 327.6 70 331.1 69.5 333.8C69 336.5 68.5 338.4 68 339.8C67.5 341.3 66.9 342.1 66.4 342.8C65.7 343.8 64.9 344.7 64.2 345.2C63.2 345.9 62.2 346.1 61.2 346.1C60.6 346.1 59.9 346 59.3 345.9C58.7 345.8 58 345.7 57.4 345.7C56.8 345.7 56.3 345.7 55.7 345.7C55.1 345.7 54.6 345.7 54 345.8C53.4 345.9 52.9 345.9 52.3 346C51.7 346 51.2 346.1 50.6 346.1C50 346.1 49.4 346.1 48.8 346.1C48.2 346 47.6 345.9 47 345.8C46.5 345.7 45.9 345.5 45.4 345.4C44.9 345.3 44.3 345.4 43.8 345.7C43.3 346 42.8 346.5 42.3 347.1Z" fill="#f8c0c8" fill-opacity="0.5"/>
<path d="M42.3 342.7C42.8 342.1 43.3 341.6 43.8 341.3C44.3 341 44.9 340.9 45.4 341C45.9 341.1 46.5 341.3 47 341.4C47.6 341.5 48.2 341.6 48.8 341.7C49.4 341.7 50 341.7 50.6 341.7C51.2 341.7 51.7 341.6 52.3 341.6C52.9 341.5 53.4 341.5 54 341.4C54.6 341.3 55.1 341.3 55.7 341.3C56.3 341.3 56.8 341.3 57.4 341.3C58 341.3 58.7 341.4 59.3 341.5C59.9 341.6 60.6 341.7 61.2 341.7C62.2 341.7 63.2 341.5 64.2 340.8C64.9 340.3 65.7 339.4 66.4 338.4C66.9 337.7 67.5 336.9 68 335.4C68.5 334 69 332.1 69.5 329.4C70 326.7 70.5 323.2 71 318.8C71.5 314.3 72 308.9 72.5 303.7C73 298.6 73.5 293.8 74 288.5C74.5 283.2 75 277.5 75.5 273.5C75.87 270.5 76.23 268.5 76.6 265.4C77.27 259.8 77.93 250.5 78.6 242.8C79.43 233 80.27 225.7 81.1 215.5C81.93 205.4 82.77 191.7 83.6 192.7C84.27 193.6 84.93 204 85.6 214.9C86.13 223.6 86.67 232.7 87.2 242C87.7 250.7 88.2 259.6 88.7 264.9C89.33 271.6 89.97 272.5 90.6 274.6C90.9 275.5 91.2 276.7 91.5 279.3C91.77 281.5 92.03 284.9 92.3 286.8C93.03 292.1 93.77 286.9 94.5 285.4C95.3 283.9 96 286.5 96.8 287.4C97.3 287.9 97.8 287.7 98.3 287.9C98.8 288.1 99.3 288.6 99.8 292.2C100.3 295.8 100.8 302.4 101.3 302.9C101.8 303.4 102.3 297.8 102.8 294.4C103.33 290.8 103.87 289.5 104.4 289.3C104.9 289.1 105.4 289.9 105.9 289.9C106.4 289.8 106.9 288.8 107.4 291.8C107.9 294.8 108.4 301.7 108.9 306.5C109.4 311.3 109.9 314.2 110.4 317.4C110.9 320.6 111.4 324.1 111.9 326.3C112.4 328.5 112.9 329.4 113.4 330.9C113.9 332.5 114.4 334.7 114.9 336.9C115.57 339.8 116.23 342.8 116.9 343.7C117.5 344.5 118.1 343.7 118.7 343C119.5 342.1 120.2 341.3 121 341.2C121.7 341.1 122.5 341.6 123.2 341.9C123.7 342.1 124.2 342.3 124.8 342.4C125.3 342.4 125.8 342.4 126.3 342.2C127.03 341.9 127.77 341.4 128.5 338.4C129 336.3 129.5 333.1 130 329.4C130.53 325.5 131.07 321 131.6 315.7C132.1 310.8 132.6 305.2 133.1 300.7C133.6 296.2 134.1 292.8 134.6 289.9C135.1 286.9 135.6 284.5 136.1 280.3C136.53 276.7 136.97 271.9 137.4 264.3C138.03 253.1 138.67 236 139.3 224.1C140.03 210.2 140.77 203.3 141.5 197.1C142.3 190.3 143.1 183.7 143.9 183.3C144.6 182.9 145.3 187.4 146 196.5C146.47 202.5 146.93 210.7 147.4 222.6C147.57 226.9 147.73 231.6 147.9 236C148.13 242.2 148.37 247.7 148.6 252.7C148.83 257.6 149.07 261.9 149.3 266C149.47 268.9 149.63 271.7 149.8 274C150.2 279.7 150.6 282.8 151 284.8C151.4 286.9 151.8 287.9 152.2 289.6C152.7 291.6 153.2 294.6 153.7 295.5C153.9 295.9 154.2 295.9 154.4 295.8C155.3 295.6 156.2 295.3 157.1 295.1C158.1 294.9 159.1 295 160.1 294.9C161 294.8 161.9 294.5 162.8 293.6C163.3 293.1 163.8 292.5 164.3 291.5C164.9 290.2 165.6 288.3 166.2 286.9C166.9 285.3 167.7 284.3 168.4 283.1C169 282.1 169.6 281 170.2 278.2C170.7 275.9 171.2 272.6 171.7 265.8C171.97 262.2 172.23 257.6 172.5 254.2C172.93 248.7 173.37 246.2 173.8 242.6C174.23 239 174.67 234.2 175.1 233.4C175.67 232.3 176.23 238.1 176.8 241.1C177.4 244.3 178 244.3 178.6 243.3C179.5 241.8 180.4 238.2 181.3 233.7C182.23 229.2 183.17 223.9 184.1 224.6C184.7 225 185.3 227.4 185.9 231C186.63 235.4 187.37 241.9 188.1 246.1C188.43 248.1 188.77 249.5 189.1 251.3C189.8 254.9 190.5 259.7 191.2 262.9C191.6 264.7 192 266 192.4 266.4C193 266.9 193.5 265.8 194.1 264.1C194.6 262.4 195.2 260.1 195.7 258.3C196.4 255.9 197.1 254.2 197.8 252.4C198.3 251 198.9 249.6 199.4 249.6C200 249.6 200.6 251.3 201.2 253.9C201.9 256.8 202.6 260.7 203.3 264.5C204 268.4 204.7 272.2 205.4 276.4C206.2 281.1 207 286.2 207.8 291.6C208.33 295.2 208.87 298.9 209.4 302.2C209.9 305.4 210.4 308.2 210.9 309.7C211.2 310.7 211.6 311.1 211.9 310.4C212.3 309.6 212.7 307.2 213.1 306.7C213.5 306.3 213.9 307.9 214.3 311.3C214.67 314.4 215.03 319.1 215.4 323.2C215.9 328.8 216.4 333.2 216.9 336.4C217.47 340 218.03 342 218.6 342.5C219.1 342.9 219.5 342.3 220 340.9C220.4 339.7 220.8 337.9 221.2 335.7C221.9 331.7 222.6 326.5 223.3 326.9C223.7 327.2 224.1 329.3 224.5 331.4C224.87 333.3 225.23 335.1 225.6 335.7C226.4 336.9 227.1 332.9 227.9 333.3C228.5 333.7 229.1 336.8 229.7 339.4C230.33 342.1 230.97 344.1 231.6 343.1C232.23 342.1 232.87 338.1 233.5 332.4C234 327.9 234.5 322.3 235 315.2C235.37 310 235.73 304 236.1 303.7C236.5 303.3 236.9 309.5 237.3 315.3C237.8 322.5 238.3 329.1 238.8 333.9C239.27 338.4 239.73 341.5 240.2 342.2C240.67 342.9 241.13 341.3 241.6 339.3C241.93 337.9 242.27 336.4 242.6 335.8C242.9 335.2 243.3 335.6 243.6 335.7C244.3 335.8 245 334.7 245.7 334.1C246.4 333.5 247 333.2 247.7 333.5C248.5 333.8 249.4 335 250.2 337.1C251 339.2 251.9 342.2 252.7 341.1C253.5 339.9 254.4 334.7 255.2 335.1C255.9 335.5 256.5 339.5 257.2 340.1C257.7 340.5 258.3 338.8 258.8 337.4C259.3 336.1 259.8 334.9 260.3 335.6C260.8 336.3 261.3 338.8 261.8 338C262.23 337.4 262.67 334.2 263.1 330.6C263.43 327.8 263.77 324.8 264.1 324.4C264.53 323.9 264.97 327.9 265.4 332.1C265.9 337 266.4 341.9 266.9 342.9C267.33 343.7 267.77 341.4 268.2 338.4C268.53 336.1 268.87 333.3 269.2 330.6C269.53 327.9 269.87 325.3 270.2 321.2C270.4 318.8 270.6 315.8 270.8 309.9C270.93 306 271.07 300.8 271.2 294.5C271.33 288.3 271.47 281 271.6 274C271.83 261.6 272.07 250.1 272.3 250.1C272.53 250 272.77 261.4 273 273.7C273.13 280.6 273.27 287.9 273.4 294.4C273.53 300.8 273.67 306.6 273.8 311.9C273.9 315.8 274 319.5 274.1 322.5C274.3 328.5 274.5 331.8 274.7 334.1C275.27 340.7 275.83 339.2 276.4 339.1C277.2 339 277.9 341.4 278.7 341.9C279.3 342.3 279.9 341.5 280.5 341.1C281 340.8 281.5 340.6 282 340.4C282.6 340.1 283.2 339.7 283.8 338.9C284.3 338.2 284.9 337.1 285.4 337.1C285.9 337.1 286.3 337.9 286.8 338.5C287.2 339 287.7 339.4 288.1 339.2C288.7 338.9 289.2 337.4 289.8 335.9C290.3 334.5 290.9 333 291.4 332.9C291.9 332.8 292.3 333.8 292.8 334.7C293.2 335.4 293.7 336.1 294.1 336.8C294.8 337.9 295.5 339.2 296.2 340.4C296.9 341.7 297.7 342.8 298.4 342.9C299 342.9 299.6 342.3 300.2 341.5C300.9 340.6 301.7 339.6 302.4 338.4C303 337.3 303.7 336.1 304.3 336.3C305 336.6 305.7 338.6 306.4 338.6C307.1 338.5 307.9 336.1 308.6 337.1C309.4 338.2 310.2 343.4 311 342.4C311.6 341.6 312.2 337.3 312.8 334C313.33 331 313.87 328.8 314.4 326.1C314.8 324.1 315.2 321.8 315.6 322.1C316.03 322.4 316.47 325.7 316.9 329.2C317.4 333.3 317.9 337.6 318.4 339.9C318.8 341.9 319.2 342.5 319.6 342.2C320.13 341.8 320.67 339.6 321.2 336.8C321.7 334.2 322.2 330.9 322.7 330.3C323.2 329.8 323.7 331.9 324.2 333.8C324.7 335.7 325.2 337.5 325.7 338.4C326.5 339.6 327.2 338.5 328 339.2C328.7 340 329.5 342.5 330.2 342.2C330.6 342 331.1 340.9 331.5 339.5C331.93 338.1 332.37 336.5 332.8 332.7C333.2 329.1 333.6 323.7 334 320.9C334.5 317.4 335 317.8 335.5 319.3C336.17 321.3 336.83 325 337.5 329.4C338.1 333.4 338.7 338.7 339.3 341.4C339.8 343.7 340.3 344.1 340.8 343C341.3 341.9 341.8 339.4 342.3 336.9C342.8 334.5 343.3 332.3 343.8 329C344.37 325.3 344.93 319.2 345.5 319.4C346.2 319.7 346.9 329.1 347.6 333.8C348.23 338 348.87 340.2 349.5 339.4C350.13 338.6 350.77 334.9 351.4 332.3C351.9 330.2 352.4 328.6 352.9 328.5C353.47 328.3 354.03 330 354.6 332.3C355.2 334.9 355.8 338.6 356.4 340.9C357 343.1 357.6 343.8 358.2 343C358.7 342.3 359.2 340.5 359.7 340C360.2 339.5 360.7 340.3 361.2 340.7C361.9 341.3 362.7 341.2 363.4 340.7C364.2 340.2 364.9 339.4 365.7 338.4C366.2 337.8 366.7 337.2 367.2 335.2C367.7 333.2 368.2 329.8 368.7 330.4C369.2 330.9 369.7 335.5 370.2 338.2C370.83 341.6 371.47 342.3 372.1 342.2C372.73 342.1 373.37 341.1 374 338.4C374.5 336.3 375 333.1 375.5 328.9C375.87 325.8 376.23 322.2 376.6 322.6C377 323 377.4 328.1 377.8 331.9C378.3 336.7 378.8 339.5 379.3 340C379.8 340.5 380.3 338.7 380.8 335.2C381.3 331.7 381.8 326.3 382.3 325.9C382.8 325.4 383.3 329.8 383.8 333.8C384.2 336.9 384.6 339.9 385 341.4C385.6 343.9 386.3 342.8 386.9 342.2C387.3 341.8 387.7 341.7 388.1 341.5L388.1 345.9C387.7 346.1 387.3 346.2 386.9 346.6C386.3 347.2 385.6 348.3 385 345.8C384.6 344.3 384.2 341.3 383.8 338.3C383.3 334.4 382.8 330.4 382.3 330.9C381.8 331.3 381.3 336.3 380.8 339.7C380.3 343.1 379.8 344.9 379.3 344.4C378.8 343.9 378.3 341.1 377.8 336.6C377.4 333 377 328.3 376.6 327.9C376.23 327.5 375.87 330.8 375.5 333.6C375 337.5 374.5 340.7 374 342.8C373.37 345.5 372.73 346.5 372.1 346.6C371.47 346.7 370.83 346 370.2 342.7C369.7 340.1 369.2 335.9 368.7 335.4C368.2 334.8 367.7 337.8 367.2 339.7C366.7 341.5 366.2 342.2 365.7 342.8C364.9 343.8 364.2 344.6 363.4 345.1C362.7 345.6 361.9 345.7 361.2 345.1C360.7 344.7 360.2 343.9 359.7 344.4C359.2 344.9 358.7 346.7 358.2 347.4C357.6 348.2 357 347.5 356.4 345.3C355.8 343 355.2 339.2 354.6 336.8C354 334.6 353.5 333.6 352.9 333.8C352.4 333.9 351.9 335 351.4 336.8C350.8 339.2 350.1 343 349.5 343.8C348.87 344.6 348.23 342.3 347.6 338.3C346.9 333.8 346.2 327.1 345.5 326.8C344.93 326.6 344.37 330.5 343.8 333.7C343.3 336.6 342.8 338.9 342.3 341.3C341.8 343.8 341.3 346.3 340.8 347.4C340.3 348.5 339.8 348.1 339.3 345.8C338.7 343.1 338.1 337.7 337.5 333.9C336.83 329.6 336.17 327.2 335.5 325.2C335 323.7 334.5 322.4 334 325.5C333.6 328.1 333.2 333.5 332.8 337.1C332.37 340.9 331.93 342.5 331.5 343.9C331.1 345.3 330.6 346.4 330.2 346.6C329.5 346.9 328.7 344.4 328 343.6C327.2 342.9 326.5 344 325.7 342.8C325.2 341.9 324.7 340.1 324.2 338.3C323.7 336.5 323.2 334.8 322.7 335.3C322.2 335.9 321.7 338.8 321.2 341.3C320.67 343.9 320.13 346.2 319.6 346.6C319.2 346.9 318.8 346.3 318.4 344.4C317.9 342 317.4 337.7 316.9 333.8C316.47 330.4 316.03 327.4 315.6 327.1C315.2 326.8 314.8 328.8 314.4 330.7C313.87 333.2 313.33 335.4 312.8 338.4C312.2 341.7 311.6 346 311 346.8C310.2 347.8 309.4 342.6 308.6 341.5C307.9 340.5 307.1 342.9 306.4 343C305.7 343 305 341 304.3 340.7C303.7 340.5 303 341.7 302.4 342.8C301.7 344 300.9 345 300.2 345.9C299.6 346.7 299 347.3 298.4 347.3C297.7 347.2 296.9 346.1 296.2 344.8C295.5 343.6 294.8 342.3 294.1 341.2C293.7 340.5 293.2 339.8 292.8 339.1C292.3 338.2 291.9 337.2 291.4 337.3C290.9 337.4 290.3 338.9 289.8 340.3C289.2 341.8 288.7 343.3 288.1 343.6C287.7 343.8 287.2 343.4 286.8 342.9C286.3 342.3 285.9 341.5 285.4 341.5C284.9 341.5 284.3 342.6 283.8 343.3C283.2 344.1 282.6 344.5 282 344.8C281.5 345 281 345.2 280.5 345.5C279.9 345.9 279.3 346.7 278.7 346.3C277.9 345.8 277.2 343.4 276.4 343.5C275.83 343.6 275.27 345.1 274.7 338.5C274.5 336.2 274.3 332.9 274.1 326.9C274 323.9 273.9 320.3 273.8 316.4C273.67 311.2 273.53 305.5 273.4 299.3C273.27 293 273.13 286.1 273 279.4C272.77 267.8 272.53 257.1 272.3 257.2C272.07 257.2 271.83 268 271.6 279.7C271.47 286.4 271.33 293.4 271.2 299.4C271.07 305.5 270.93 310.5 270.8 314.4C270.6 320.2 270.4 323.2 270.2 325.6C269.87 329.7 269.53 332.3 269.2 335C268.87 337.7 268.53 340.5 268.2 342.8C267.77 345.8 267.33 348.1 266.9 347.3C266.4 346.3 265.9 341.4 265.4 336.8C264.97 332.8 264.53 329 264.1 329.4C263.77 329.7 263.43 332.6 263.1 335.2C262.67 338.6 262.23 341.8 261.8 342.5C261.3 343.2 260.8 340.7 260.3 340C259.8 339.3 259.3 340.5 258.8 341.8C258.3 343.2 257.7 344.9 257.2 344.5C256.5 343.9 255.9 339.9 255.2 339.5C254.4 339.1 253.5 344.3 252.7 345.5C251.9 346.6 251 343.6 250.2 341.5C249.4 339.4 248.5 338.2 247.7 338C247 337.8 246.4 338.3 245.7 339C245 339.8 244.3 340.8 243.6 340.5C243.3 340.3 242.9 339.8 242.6 340.3C242.27 340.9 241.93 342.4 241.6 343.8C241.13 345.7 240.67 347.3 240.2 346.6C239.73 345.9 239.27 342.8 238.8 338.3C238.3 333.5 237.8 327 237.3 320C236.9 314.4 236.5 308.6 236.1 309C235.73 309.3 235.37 315 235 319.9C234.5 326.7 234 332.3 233.5 336.8C232.87 342.5 232.23 346.5 231.6 347.5C230.97 348.5 230.33 346.5 229.7 343.8C229.1 341.2 228.5 338.1 227.9 337.7C227.1 337.3 226.4 341.3 225.6 340.1C225.23 339.5 224.87 337.7 224.5 335.8C224.1 333.7 223.7 331.6 223.3 331.3C222.6 330.9 221.9 336.1 221.2 340.1C220.8 342.3 220.4 344.1 220 345.3C219.5 346.7 219.1 347.3 218.6 346.9C218.03 346.4 217.47 344.4 216.9 340.8C216.4 337.6 215.9 333.2 215.4 327.6C215.03 323.5 214.67 318.8 214.3 315.7C213.9 312.3 213.5 310.7 213.1 311.1C212.7 311.6 212.3 314 211.9 314.8C211.6 315.5 211.2 315.1 210.9 314.1C210.4 312.6 209.9 309.8 209.4 306.6C208.87 303.3 208.33 299.6 207.8 296C207 290.6 206.2 285.5 205.4 280.8C204.7 276.7 204 272.8 203.3 269C202.6 265.2 201.9 261.5 201.2 258.8C200.6 256.5 200 254.9 199.4 254.9C198.9 254.9 198.3 256.1 197.8 257.3C197.1 258.8 196.4 260.4 195.7 262.7C195.2 264.5 194.6 266.8 194.1 268.5C193.5 270.2 193 271.3 192.4 270.8C192 270.4 191.6 269.1 191.2 267.3C190.5 264.1 189.8 259.3 189.1 255.7C188.77 253.9 188.43 252.5 188.1 250.5C187.37 246.3 186.63 239.8 185.9 235.5C185.3 232 184.7 230 184.1 229.9C183.17 229.8 182.23 234.3 181.3 238.5C180.4 242.5 179.5 246.1 178.6 247.7C178 248.8 177.4 248.9 176.8 246C176.23 243.2 175.67 237.7 175.1 238.7C174.67 239.4 174.23 243.9 173.8 247.4C173.37 250.8 172.93 253.2 172.5 258.7C172.23 262 171.97 266.6 171.7 270.2C171.2 277 170.7 280.3 170.2 282.6C169.6 285.4 169 286.5 168.4 287.5C167.7 288.7 166.9 289.7 166.2 291.3C165.6 292.7 164.9 294.6 164.3 295.9C163.8 296.9 163.3 297.5 162.8 298C161.9 298.9 161 299.2 160.1 299.3C159.1 299.4 158.1 299.3 157.1 299.5C156.2 299.7 155.3 300 154.4 300.2C154.2 300.3 153.9 300.3 153.7 299.9C153.2 299 152.7 296 152.2 294C151.8 292.3 151.4 291.3 151 289.2C150.6 287.2 150.2 284.1 149.8 278.4C149.63 276.1 149.47 273.3 149.3 270.4C149.07 266.3 148.83 262 148.6 257.1C148.37 252.1 148.13 246.6 147.9 240.4C147.73 236 147.57 231.3 147.4 227C146.93 215.2 146.47 207.1 146 201.3C145.3 192.7 144.6 189.1 143.9 189.5C143.1 189.8 142.3 195.1 141.5 201.7C140.77 207.6 140.03 214.6 139.3 228.5C138.67 240.4 138.03 257.5 137.4 268.7C136.97 276.3 136.53 281.1 136.1 284.7C135.6 288.9 135.1 291.3 134.6 294.3C134.1 297.2 133.6 300.6 133.1 305.1C132.6 309.6 132.1 315.2 131.6 320.1C131.07 325.4 130.53 329.9 130 333.8C129.5 337.5 129 340.7 128.5 342.8C127.77 345.8 127.03 346.3 126.3 346.6C125.8 346.8 125.3 346.8 124.8 346.8C124.2 346.7 123.7 346.5 123.2 346.3C122.5 346 121.7 345.5 121 345.6C120.2 345.7 119.5 346.5 118.7 347.4C118.1 348.1 117.5 348.9 116.9 348.1C116.23 347.2 115.57 344.2 114.9 341.3C114.4 339.1 113.9 336.9 113.4 335.3C112.9 333.8 112.4 332.9 111.9 330.7C111.4 328.5 110.9 325 110.4 321.8C109.9 318.6 109.4 315.7 108.9 311C108.4 306.2 107.9 299.5 107.4 296.9C106.9 294.3 106.4 295.7 105.9 295.8C105.4 295.8 104.9 294.6 104.4 294.4C103.87 294.2 103.33 295.3 102.8 299.1C102.3 302.6 101.8 308.4 101.3 307.9C100.8 307.4 100.3 300.5 99.8 296.8C99.3 293.1 98.8 292.5 98.3 292.3C97.8 292.1 97.3 292.3 96.8 291.8C96 290.9 95.3 288.3 94.5 289.8C93.77 291.3 93.03 296.5 92.3 291.2C92.03 289.3 91.77 285.9 91.5 283.7C91.2 281.1 90.9 279.9 90.6 279C89.97 276.9 89.33 276 88.7 269.3C88.2 264 87.7 255.1 87.2 246.4C86.67 237.2 86.13 228.2 85.6 219.9C84.93 209.6 84.27 200.4 83.6 199.5C82.77 198.5 81.93 210.5 81.1 220.2C80.27 229.9 79.43 237.4 78.6 247.2C77.93 254.9 77.27 264.2 76.6 269.8C76.23 272.9 75.87 274.9 75.5 277.9C75 281.9 74.5 287.6 74 292.9C73.5 298.2 73 303 72.5 308.1C72 313.3 71.5 318.7 71 323.2C70.5 327.6 70 331.1 69.5 333.8C69 336.5 68.5 338.4 68 339.8C67.5 341.3 66.9 342.1 66.4 342.8C65.7 343.8 64.9 344.7 64.2 345.2C63.2 345.9 62.2 346.1 61.2 346.1C60.6 346.1 59.9 346 59.3 345.9C58.7 345.8 58 345.7 57.4 345.7C56.8 345.7 56.3 345.7 55.7 345.7C55.1 345.7 54.6 345.7 54 345.8C53.4 345.9 52.9 345.9 52.3 346C51.7 346 51.2 346.1 50.6 346.1C50 346.1 49.4 346.1 48.8 346.1C48.2 346 47.6 345.9 47 345.8C46.5 345.7 45.9 345.5 45.4 345.4C44.9 345.3 44.3 345.4 43.8 345.7C43.3 346 42.8 346.5 42.3 347.1Z" fill="#ccc8f8" fill-opacity="0.55"/>
<path d="M42.3 344.9C42.8 344.3 43.3 343.8 43.8 343.5C44.9 342.9 45.9 343.3 47 343.6C48.2 343.9 49.4 344 50.6 343.9C51.7 343.9 52.9 343.7 54 343.6C55.1 343.5 56.3 343.4 57.4 343.5C58.7 343.6 59.9 343.9 61.2 343.9C62.2 343.9 63.2 343.7 64.2 343C64.9 342.5 65.7 341.6 66.4 340.6C66.9 339.9 67.5 339.1 68 337.6C68.5 336.2 69 334.3 69.5 331.6C70 328.9 70.5 325.4 71 321C71.5 316.5 72 311.1 72.5 305.9C73 300.8 73.5 296 74 290.7C74.5 285.5 75 279.7 75.5 275.8C75.87 272.8 76.23 270.9 76.6 267.8C77.27 262.3 77.93 253.2 78.6 245.6C79.43 236.2 80.27 229.2 81.1 219.9C81.93 210.6 82.77 199.1 83.6 200.1C84.27 201 84.93 209.8 85.6 219.8C86.13 227.7 86.67 236.3 87.2 245.3C87.7 253.8 88.2 262.6 88.7 267.6C89.33 273.8 89.97 273.7 90.6 277C90.9 278.6 91.2 280.9 91.5 284.4C91.77 287.6 92.03 291.8 92.3 293.9C92.8 297.9 93.3 294.7 93.8 293.2C94.3 291.6 94.8 291.7 95.3 292.3C95.8 292.9 96.3 294.2 96.8 294.4C97.3 294.7 97.8 294 98.3 294.5C98.8 295 99.3 296.6 99.8 299.9C100.3 303.2 100.8 308.2 101.3 308C101.8 307.8 102.3 302.4 102.8 298.4C103.33 294.2 103.87 291.8 104.4 290C104.9 288.3 105.4 287.1 105.9 287.7C106.4 288.3 106.9 290.5 107.4 294.6C107.9 298.6 108.4 304.4 108.9 308.8C109.4 313.2 109.9 316.3 110.4 319.6C110.9 322.8 111.4 326.3 111.9 328.5C112.4 330.7 112.9 331.6 113.4 333.1C113.9 334.7 114.4 336.9 114.9 339.1C115.57 342 116.23 345 116.9 345.9C117.5 346.7 118.1 345.9 118.7 345.2C119.5 344.3 120.2 343.5 121 343.4C121.7 343.3 122.5 343.8 123.2 344.1C124.2 344.6 125.3 344.8 126.3 344.4C127.03 344.1 127.77 343.6 128.5 340.6C129 338.5 129.5 335.3 130 331.6C130.53 327.7 131.07 323.2 131.6 318C132.1 313 132.6 307.4 133.1 302.9C133.6 298.5 134.1 295.1 134.6 292.3C135.1 289.4 135.6 287.1 136.1 283.1C136.53 279.7 136.97 275 137.4 267.7C138.03 257.1 138.67 240.9 139.3 229.9C140.03 217.1 140.77 211.4 141.5 206.5C142.3 201.1 143.1 196.6 143.9 196.3C144.6 196 145.3 198.8 146 206.4C146.47 211.5 146.93 218.7 147.4 229.6C147.57 233.5 147.73 237.9 147.9 242C148.13 247.8 148.37 252.9 148.6 257.5C148.83 262.1 149.07 266.2 149.3 270C149.47 272.7 149.63 275.4 149.8 277.6C150.2 283 150.6 285.8 151 287.8C151.4 289.7 151.8 290.7 152.2 292.1C152.7 293.8 153.2 295.9 153.7 298C154.07 299.5 154.43 300.9 154.8 301.6C155.6 302.9 156.3 301 157.1 299.9C158.1 298.6 159.1 298.8 160.1 299C160.9 299.2 161.8 299.4 162.6 298C163.2 297 163.7 295.3 164.3 293.7C164.9 291.9 165.6 290.4 166.2 289.1C166.9 287.6 167.7 286.5 168.4 285.3C169 284.3 169.6 283.2 170.2 280.4C170.7 278.1 171.2 274.6 171.7 268.2C171.97 264.8 172.23 260.5 172.5 256.1C172.93 249 173.37 241.7 173.8 236.4C174.33 229.8 174.87 226.2 175.4 225.7C175.87 225.3 176.33 227.3 176.8 229.5C177.4 232.3 178 235.6 178.6 236.8C179.5 238.6 180.4 235.6 181.3 229.4C181.93 225.1 182.57 219.2 183.2 218.6C183.83 218 184.47 222.7 185.1 227.2C185.6 230.8 186.1 234.3 186.6 238.3C187.37 244.5 188.13 252 188.9 257.5C189.67 262.9 190.43 266.3 191.2 268.1C191.6 269.1 192 269.6 192.4 269.4C193 269.1 193.6 267.3 194.2 265.1C195 262.2 195.8 258.6 196.6 256.1C197.2 254.2 197.9 252.9 198.5 251.6C199.1 250.3 199.7 249 200.3 249.4C201 249.9 201.6 252.4 202.3 254.6C203.2 257.5 204.1 259.6 205 266.9C205.47 270.6 205.93 275.7 206.4 280.6C206.87 285.4 207.33 290 207.8 293.8C208.33 298.1 208.87 301.3 209.4 304.4C209.9 307.4 210.4 310.4 210.9 311.9C211.2 312.9 211.6 313.3 211.9 312.6C212.3 311.8 212.7 309.4 213.1 308.9C213.5 308.5 213.9 310.1 214.3 313.5C214.67 316.6 215.03 321.3 215.4 325.4C215.9 331 216.4 335.4 216.9 338.6C217.47 342.2 218.03 344.2 218.6 344.7C219.1 345.1 219.5 344.5 220 343.1C220.4 341.9 220.8 340.1 221.2 337.9C221.9 333.9 222.6 328.7 223.3 329.1C223.7 329.4 224.1 331.5 224.5 333.6C224.87 335.5 225.23 337.3 225.6 337.9C226.4 339.1 227.1 335.1 227.9 335.5C228.5 335.9 229.1 339 229.7 341.6C230.33 344.3 230.97 346.3 231.6 345.3C232.23 344.3 232.87 340.3 233.5 334.6C234 330.1 234.5 324.5 235 317.7C235.37 312.8 235.73 307.1 236.1 306.8C236.5 306.4 236.9 312.2 237.3 317.8C237.8 324.8 238.3 331.3 238.8 336.1C239.27 340.6 239.73 343.7 240.2 344.4C240.7 345.1 241.1 343.5 241.6 341.7C242.13 339.5 242.67 337.1 243.2 334C243.7 331.2 244.2 327.7 244.7 326.2C245.7 323.3 246.7 328.2 247.7 331.2C248.5 333.6 249.4 334.7 250.2 337.3C251 339.9 251.9 344 252.7 343.3C253.5 342.5 254.4 337 255.2 337.3C255.9 337.6 256.5 341.7 257.2 342.3C257.7 342.8 258.3 341 258.8 339.6C259.3 338.3 259.8 337.1 260.3 337.8C260.8 338.5 261.3 341 261.8 340.3C262.23 339.6 262.67 336.4 263.1 333C263.43 330.4 263.77 327.5 264.1 327.2C264.53 326.8 264.97 330.6 265.4 334.6C265.9 339.2 266.4 344.1 266.9 345.1C267.33 345.9 267.77 343.6 268.2 340.6C268.53 338.3 268.87 335.5 269.2 332.8C269.53 330.1 269.87 327.5 270.2 323.4C270.4 321 270.6 318 270.8 312.2C270.93 308.3 271.07 303.3 271.2 297.2C271.33 291.2 271.47 284.2 271.6 277.5C271.83 265.8 272.07 255 272.3 255C272.53 254.9 272.77 265.6 273 277.2C273.13 283.9 273.27 290.8 273.4 297.1C273.53 303.3 273.67 309 273.8 314.2C273.9 318.1 274 321.7 274.1 324.7C274.3 330.7 274.5 334 274.7 336.3C275.27 342.9 275.83 341.4 276.4 341.3C277.2 341.2 277.9 343.6 278.7 344.1C279.3 344.5 279.9 343.7 280.5 343.3C281 343 281.5 342.8 282 342.6C282.6 342.3 283.2 341.9 283.8 341.1C284.3 340.4 284.9 339.3 285.4 339.3C285.9 339.3 286.3 340.1 286.8 340.7C287.2 341.2 287.7 341.6 288.1 341.4C288.7 341.1 289.2 339.6 289.8 338.1C290.3 336.7 290.9 335.2 291.4 335.1C291.9 335 292.3 336 292.8 336.9C293.2 337.6 293.7 338.3 294.1 339C294.8 340.1 295.5 341.4 296.2 342.6C296.9 343.9 297.7 345 298.4 345.1C299 345.1 299.6 344.5 300.2 343.7C300.9 342.8 301.7 341.8 302.4 340.6C303 339.5 303.7 338.3 304.3 338.5C305 338.8 305.7 340.8 306.4 340.8C307.1 340.7 307.9 338.3 308.6 339.3C309.4 340.4 310.2 345.6 311 344.6C311.6 343.8 312.2 339.5 312.8 336.2C313.33 333.2 313.87 331 314.4 328.5C314.8 326.6 315.2 324.6 315.6 324.9C316.03 325.2 316.47 328.2 316.9 331.6C317.4 335.5 317.9 339.8 318.4 342.2C318.8 344.1 319.2 344.7 319.6 344.4C320.13 344 320.67 341.7 321.2 339.1C321.7 336.6 322.2 333.7 322.7 333.1C323.2 332.6 323.7 334.3 324.2 336.1C324.7 337.9 325.2 339.7 325.7 340.6C326.5 341.8 327.2 340.7 328 341.4C328.7 342.2 329.5 344.7 330.2 344.4C330.6 344.2 331.1 343.1 331.5 341.6C331.93 340.2 332.37 338.4 332.8 335C333.2 332 333.6 327.6 334 323C334.5 317.3 335 311.3 335.5 311.7C336.17 312.1 336.83 323.9 337.5 331.5C338.1 338.3 338.7 341.7 339.3 343.7C339.8 345.5 340.3 346.3 340.8 345.2C341.3 344.1 341.8 341.2 342.3 339.2C342.8 337.3 343.3 336.4 343.8 331.3C344.37 325.5 344.93 314.3 345.5 313.7C346.2 313 346.9 328.4 347.6 335.9C348.23 342.7 348.87 342.9 349.5 341.6C350.13 340.3 350.77 337.3 351.4 334.6C351.9 332.4 352.4 330.4 352.9 330.1C353.47 329.8 354.03 331.9 354.6 334.6C355.2 337.4 355.8 340.9 356.4 343.1C357 345.2 357.6 346 358.2 345.2C358.7 344.5 359.2 342.7 359.7 342.2C360.2 341.7 360.7 342.5 361.2 342.9C361.9 343.5 362.7 343.4 363.4 342.9C364.2 342.4 364.9 341.6 365.7 340.6C366.2 340 366.7 339.3 367.2 337.5C367.7 335.6 368.2 332.6 368.7 333.2C369.2 333.7 369.7 337.9 370.2 340.5C370.83 343.8 371.47 344.5 372.1 344.4C372.73 344.3 373.37 343.3 374 340.6C374.5 338.5 375 335.3 375.5 331.4C375.87 328.6 376.23 325.3 376.6 325.7C377 326.1 377.4 330.8 377.8 334.4C378.3 338.9 378.8 341.7 379.3 342.2C379.8 342.7 380.3 340.9 380.8 337.5C381.3 334.1 381.8 329.1 382.3 328.7C382.8 328.2 383.3 332.2 383.8 336.1C384.2 339.1 384.6 342.1 385 343.6C385.6 346.1 386.3 345 386.9 344.4C387.3 344 387.7 343.9 388.1 343.7" class="ln" stroke="#000"/>
<path d="M42.3 344.9C42.8 344.3 43.3 343.8 43.8 343.5C44.9 342.9 45.9 343.3 47 343.6C48.2 343.9 49.4 344 50.6 343.9C51.7 343.9 52.9 343.7 54 343.6C55.1 343.5 56.3 343.4 57.4 343.5C58.7 343.6 59.9 343.9 61.2 343.9C62.2 343.9 63.2 343.7 64.2 343C64.9 342.5 65.7 341.6 66.4 340.6C66.9 339.9 67.5 339.1 68 337.6C68.5 336.2 69 334.3 69.5 331.6C70 328.9 70.5 325.4 71 321C71.5 316.5 72 311.1 72.5 305.9C73 300.8 73.5 296 74 290.7C74.5 285.4 75 279.7 75.5 275.7C75.87 272.8 76.23 270.8 76.6 267.7C77.27 262.1 77.93 253 78.6 245.3C79.43 235.7 80.27 228.4 81.1 218.9C81.93 209.4 82.77 197.6 83.6 198.7C84.27 199.5 84.93 208.6 85.6 218.7C86.13 226.8 86.67 235.6 87.2 244.7C87.7 253.4 88.2 262.3 88.7 267.3C89.33 273.6 89.97 273.4 90.6 277C90.9 278.7 91.2 281.2 91.5 284.1C91.77 286.7 92.03 289.5 92.3 291C92.8 293.8 93.3 291.8 93.8 290.7C94.3 289.7 94.8 289.6 95.3 290.1C95.8 290.6 96.3 291.8 96.8 292C97.3 292.3 97.8 291.7 98.3 292.7C98.8 293.6 99.3 296.2 99.8 299.9C100.3 303.6 100.8 308.4 101.3 308C101.8 307.7 102.3 302.3 102.8 298.4C103.33 294.4 103.87 292.2 104.4 289.9C104.9 287.8 105.4 285.6 105.9 286.1C106.4 286.7 106.9 290.1 107.4 294.5C107.9 299 108.4 304.5 108.9 308.8C109.4 313.2 109.9 316.3 110.4 319.6C110.9 322.9 111.4 326.3 111.9 328.5C112.4 330.7 112.9 331.6 113.4 333.1C113.9 334.7 114.4 336.9 114.9 339.1C115.57 342 116.23 345 116.9 345.9C117.5 346.7 118.1 345.9 118.7 345.2C119.5 344.3 120.2 343.5 121 343.4C121.7 343.3 122.5 343.8 123.2 344.1C124.2 344.6 125.3 344.8 126.3 344.4C127.03 344.1 127.77 343.6 128.5 340.6C129 338.5 129.5 335.3 130 331.6C130.53 327.7 131.07 323.2 131.6 318C132.1 313 132.6 307.4 133.1 302.9C133.6 298.4 134.1 295.1 134.6 292.3C135.1 289.4 135.6 287 136.1 283C136.53 279.6 136.97 274.9 137.4 267.6C138.03 256.9 138.67 240.5 139.3 229.4C140.03 216.5 140.77 210.6 141.5 205.5C142.3 200 143.1 195.4 143.9 195.1C144.6 194.8 145.3 197.7 146 205.5C146.47 210.6 146.93 217.9 147.4 229C147.57 233 147.73 237.4 147.9 241.5C148.13 247.3 148.37 252.5 148.6 257.2C148.83 261.8 149.07 265.9 149.3 269.8C149.47 272.5 149.63 275.2 149.8 277.4C150.2 282.8 150.6 285.7 151 287.7C151.4 289.6 151.8 290.7 152.2 292C152.7 293.7 153.2 295.9 153.7 298C154.07 299.5 154.43 300.9 154.8 301.6C155.6 302.9 156.3 301 157.1 299.9C158.1 298.6 159.1 298.8 160.1 299C160.9 299.2 161.8 299.4 162.6 298C163.2 297 163.7 295.3 164.3 293.7C164.9 291.9 165.6 290.4 166.2 289.1C166.9 287.6 167.7 286.5 168.4 285.3C169 284.3 169.6 283.2 170.2 280.4C170.7 278.1 171.2 274.6 171.7 268.2C171.97 264.8 172.23 260.5 172.5 256.1C172.93 249 173.37 241.7 173.8 236.4C174.33 229.8 174.87 226.2 175.4 225.7C175.87 225.3 176.33 227.3 176.8 229.5C177.4 232.3 178 235.5 178.6 236.8C179.5 238.7 180.4 236.4 181.3 229.4C181.93 224.5 182.57 217.2 183.2 216.6C183.83 216.1 184.47 222.2 185.1 227.2C185.6 231.2 186.1 234.4 186.6 238.3C187.37 244.4 188.13 252 188.9 257.5C189.67 263 190.43 266.3 191.2 268.1C191.6 269.1 192 269.6 192.4 269.4C193 269.1 193.6 267.3 194.2 265.1C195 262.1 195.8 258.5 196.6 256.1C197.2 254.3 197.9 253.2 198.5 251.6C199.1 250 199.7 247.8 200.3 248.1C201 248.5 201.6 252 202.3 254.5C203.2 258 204.1 259.7 205 266.9C205.47 270.6 205.93 275.7 206.4 280.6C206.87 285.4 207.33 290 207.8 293.8C208.33 298.1 208.87 301.3 209.4 304.4C209.9 307.4 210.4 310.4 210.9 311.9C211.2 312.9 211.6 313.3 211.9 312.6C212.3 311.8 212.7 309.4 213.1 308.9C213.5 308.5 213.9 310.1 214.3 313.5C214.67 316.6 215.03 321.3 215.4 325.4C215.9 331 216.4 335.4 216.9 338.6C217.47 342.2 218.03 344.2 218.6 344.7C219.1 345.1 219.5 344.5 220 343.1C220.4 341.9 220.8 340.1 221.2 337.9C221.9 333.9 222.6 328.7 223.3 329.1C223.7 329.4 224.1 331.5 224.5 333.6C224.87 335.5 225.23 337.3 225.6 337.9C226.4 339.1 227.1 335.1 227.9 335.5C228.5 335.9 229.1 339 229.7 341.6C230.33 344.3 230.97 346.3 231.6 345.3C232.23 344.3 232.87 340.3 233.5 334.6C234 330.1 234.5 324.5 235 317.7C235.37 312.8 235.73 307.1 236.1 306.8C236.5 306.4 236.9 312.2 237.3 317.8C237.8 324.8 238.3 331.3 238.8 336.1C239.27 340.6 239.73 343.7 240.2 344.4C240.7 345.1 241.1 343.5 241.6 341.7C242.13 339.5 242.67 337.1 243.2 334C243.7 331.2 244.2 327.7 244.7 326.2C245.7 323.3 246.7 328.2 247.7 331.2C248.5 333.6 249.4 334.7 250.2 337.3C251 339.9 251.9 344 252.7 343.3C253.5 342.5 254.4 337 255.2 337.3C255.9 337.6 256.5 341.7 257.2 342.3C257.7 342.8 258.3 341 258.8 339.6C259.3 338.3 259.8 337.1 260.3 337.8C260.8 338.5 261.3 341 261.8 340.3C262.23 339.6 262.67 336.4 263.1 333C263.43 330.4 263.77 327.5 264.1 327.2C264.53 326.8 264.97 330.6 265.4 334.6C265.9 339.2 266.4 344.1 266.9 345.1C267.33 345.9 267.77 343.6 268.2 340.6C268.53 338.3 268.87 335.5 269.2 332.8C269.53 330.1 269.87 327.5 270.2 323.4C270.4 321 270.6 318 270.8 312.2C270.93 308.3 271.07 303.3 271.2 297.2C271.33 291.2 271.47 284.2 271.6 277.5C271.83 265.8 272.07 255 272.3 255C272.53 254.9 272.77 265.6 273 277.2C273.13 283.9 273.27 290.8 273.4 297.1C273.53 303.3 273.67 309 273.8 314.2C273.9 318.1 274 321.7 274.1 324.7C274.3 330.7 274.5 334 274.7 336.3C275.27 342.9 275.83 341.4 276.4 341.3C277.2 341.2 277.9 343.6 278.7 344.1C279.3 344.5 279.9 343.7 280.5 343.3C281 343 281.5 342.8 282 342.6C282.6 342.3 283.2 341.9 283.8 341.1C284.3 340.4 284.9 339.3 285.4 339.3C285.9 339.3 286.3 340.1 286.8 340.7C287.2 341.2 287.7 341.6 288.1 341.4C288.7 341.1 289.2 339.6 289.8 338.1C290.3 336.7 290.9 335.2 291.4 335.1C291.9 335 292.3 336 292.8 336.9C293.2 337.6 293.7 338.3 294.1 339C294.8 340.1 295.5 341.4 296.2 342.6C296.9 343.9 297.7 345 298.4 345.1C299 345.1 299.6 344.5 300.2 343.7C300.9 342.8 301.7 341.8 302.4 340.6C303 339.5 303.7 338.3 304.3 338.5C305 338.8 305.7 340.8 306.4 340.8C307.1 340.7 307.9 338.3 308.6 339.3C309.4 340.4 310.2 345.6 311 344.6C311.6 343.8 312.2 339.5 312.8 336.2C313.33 333.2 313.87 331 314.4 328.5C314.8 326.6 315.2 324.6 315.6 324.9C316.03 325.2 316.47 328.2 316.9 331.6C317.4 335.5 317.9 339.8 318.4 342.2C318.8 344.1 319.2 344.7 319.6 344.4C320.13 344 320.67 341.7 321.2 339.1C321.7 336.6 322.2 333.7 322.7 333.1C323.2 332.6 323.7 334.3 324.2 336.1C324.7 337.9 325.2 339.7 325.7 340.6C326.5 341.8 327.2 340.7 328 341.4C328.7 342.2 329.5 344.6 330.2 344.4C330.6 344.2 331.1 343.1 331.5 341.6C331.93 340.2 332.37 338.3 332.8 335.1C333.2 332.1 333.6 328 334 322.9C334.5 316.6 335 308.7 335.5 308.7C336.17 308.8 336.83 323 337.5 331.4C338.1 339 338.7 341.9 339.3 343.8C339.8 345.3 340.3 346.2 340.8 345.2C341.3 344.1 341.8 341.1 342.3 339.3C342.8 337.4 343.3 336.7 343.8 331.3C344.37 325.1 344.93 312.9 345.5 312.2C346.2 311.3 346.9 328 347.6 335.9C348.23 343 348.87 343 349.5 341.6C350.13 340.2 350.77 337.3 351.4 334.6C351.9 332.4 352.4 330.4 352.9 330.1C353.47 329.8 354.03 331.9 354.6 334.6C355.2 337.4 355.8 340.9 356.4 343.1C357 345.2 357.6 346 358.2 345.2C358.7 344.5 359.2 342.7 359.7 342.2C360.2 341.7 360.7 342.5 361.2 342.9C361.9 343.5 362.7 343.4 363.4 342.9C364.2 342.4 364.9 341.6 365.7 340.6C366.2 340 366.7 339.3 367.2 337.5C367.7 335.6 368.2 332.6 368.7 333.2C369.2 333.7 369.7 337.9 370.2 340.5C370.83 343.8 371.47 344.5 372.1 344.4C372.73 344.3 373.37 343.3 374 340.6C374.5 338.5 375 335.3 375.5 331.4C375.87 328.6 376.23 325.3 376.6 325.7C377 326.1 377.4 330.8 377.8 334.4C378.3 338.9 378.8 341.7 379.3 342.2C379.8 342.7 380.3 340.9 380.8 337.5C381.3 334.1 381.8 329.1 382.3 328.7C382.8 328.2 383.3 332.2 383.8 336.1C384.2 339.1 384.6 342.1 385 343.6C385.6 346.1 386.3 345 386.9 344.4C387.3 344 387.7 343.9 388.1 343.7" class="ln" stroke="#e42030" stroke-opacity="0.85"/>
<path d="M42.3 344.9C42.8 344.3 43.3 343.8 43.8 343.5C44.9 342.9 45.9 343.3 47 343.6C48.2 343.9 49.4 344 50.6 343.9C51.7 343.9 52.9 343.7 54 343.6C55.1 343.5 56.3 343.4 57.4 343.5C58.7 343.6 59.9 343.9 61.2 343.9C62.2 343.9 63.2 343.7 64.2 343C64.9 342.5 65.7 341.6 66.4 340.6C66.9 339.9 67.5 339.1 68 337.6C68.5 336.2 69 334.3 69.5 331.6C70 328.9 70.5 325.4 71 321C71.5 316.5 72 311.1 72.5 305.9C73 300.8 73.5 296 74 290.7C74.5 285.4 75 279.7 75.5 275.7C75.87 272.7 76.23 270.7 76.6 267.6C77.27 262 77.93 252.7 78.6 245C79.43 235.2 80.27 227.7 81.1 218C81.93 208.3 82.77 196.3 83.6 197.3C84.27 198.2 84.93 207.4 85.6 217.7C86.13 226 86.67 235 87.2 244.2C87.7 252.9 88.2 261.8 88.7 267.1C89.33 273.8 89.97 274.7 90.6 276.8C90.9 277.7 91.2 278.9 91.5 281.5C91.77 283.7 92.03 287.1 92.3 289C93.03 294.3 93.77 289.1 94.5 287.6C95.3 286.1 96 288.7 96.8 289.6C97.3 290.1 97.8 289.9 98.3 290.1C98.8 290.3 99.3 290.9 99.8 294.6C100.3 298.3 100.8 305.2 101.3 305.7C101.8 306.2 102.3 300.4 102.8 296.9C103.33 293.1 103.87 292 104.4 292.2C104.9 292.4 105.4 293.6 105.9 293.6C106.4 293.5 106.9 292.1 107.4 294.7C107.9 297.3 108.4 304 108.9 308.8C109.4 313.5 109.9 316.4 110.4 319.6C110.9 322.8 111.4 326.3 111.9 328.5C112.4 330.7 112.9 331.6 113.4 333.1C113.9 334.7 114.4 336.9 114.9 339.1C115.57 342 116.23 345 116.9 345.9C117.5 346.7 118.1 345.9 118.7 345.2C119.5 344.3 120.2 343.5 121 343.4C121.7 343.3 122.5 343.8 123.2 344.1C124.2 344.6 125.3 344.8 126.3 344.4C127.03 344.1 127.77 343.6 128.5 340.6C129 338.5 129.5 335.3 130 331.6C130.53 327.7 131.07 323.2 131.6 317.9C132.1 313 132.6 307.4 133.1 302.9C133.6 298.4 134.1 295 134.6 292.1C135.1 289.1 135.6 286.7 136.1 282.5C136.53 278.9 136.97 274.1 137.4 266.5C138.03 255.3 138.67 238.2 139.3 226.3C140.03 212.4 140.77 205.4 141.5 199.5C142.3 192.9 143.1 187.6 143.9 187.3C144.6 186.9 145.3 190.5 146 199.1C146.47 204.9 146.93 213 147.4 224.8C147.57 229.1 147.73 233.8 147.9 238.2C148.13 244.4 148.37 249.9 148.6 254.9C148.83 259.8 149.07 264.1 149.3 268.2C149.47 271.1 149.63 273.9 149.8 276.2C150.2 281.9 150.6 285 151 287C151.4 289.1 151.8 290.1 152.2 291.8C152.7 293.8 153.2 296.8 153.7 297.7C153.9 298.1 154.2 298.1 154.4 298C155.3 297.8 156.2 297.5 157.1 297.3C158.1 297.1 159.1 297.2 160.1 297.1C161 297 161.9 296.7 162.8 295.8C163.3 295.3 163.8 294.7 164.3 293.7C164.9 292.4 165.6 290.5 166.2 289.1C166.9 287.5 167.7 286.5 168.4 285.3C169 284.3 169.6 283.2 170.2 280.4C170.7 278.1 171.2 274.8 171.7 268C171.97 264.4 172.23 259.8 172.5 256.5C172.93 251 173.37 248.6 173.8 245.2C174.23 241.7 174.67 237.2 175.1 236.5C175.67 235.5 176.23 241 176.8 243.8C177.4 246.7 178 246.6 178.6 245.5C179.5 243.9 180.4 240.3 181.3 236.3C182.23 232.1 183.17 227.6 184.1 227.7C184.7 227.8 185.3 229.8 185.9 233.3C186.63 237.6 187.37 244.1 188.1 248.3C188.43 250.3 188.77 251.7 189.1 253.5C189.8 257.1 190.5 261.9 191.2 265.1C191.6 266.9 192 268.2 192.4 268.6C193.5 269.7 194.6 264.2 195.7 260.5C196.4 258.2 197.1 256.6 197.8 255.1C198.3 253.9 198.9 252.7 199.4 252.7C200 252.7 200.6 254.3 201.2 256.6C201.9 259.3 202.6 263 203.3 266.8C204 270.6 204.7 274.5 205.4 278.6C206.2 283.3 207 288.4 207.8 293.8C208.33 297.4 208.87 301.1 209.4 304.4C209.9 307.6 210.4 310.4 210.9 311.9C211.2 312.9 211.6 313.3 211.9 312.6C212.3 311.8 212.7 309.4 213.1 308.9C213.5 308.5 213.9 310.1 214.3 313.5C214.67 316.6 215.03 321.3 215.4 325.4C215.9 331 216.4 335.4 216.9 338.6C217.47 342.2 218.03 344.2 218.6 344.7C219.1 345.1 219.5 344.5 220 343.1C220.4 341.9 220.8 340.1 221.2 337.9C221.9 333.9 222.6 328.7 223.3 329.1C223.7 329.4 224.1 331.5 224.5 333.6C224.87 335.5 225.23 337.3 225.6 337.9C226.4 339.1 227.1 335.1 227.9 335.5C228.5 335.9 229.1 339 229.7 341.6C230.33 344.3 230.97 346.3 231.6 345.3C232.23 344.3 232.87 340.3 233.5 334.6C234 330.1 234.5 324.5 235 317.7C235.37 312.8 235.73 307.1 236.1 306.8C236.5 306.4 236.9 312.2 237.3 317.8C237.8 324.8 238.3 331.3 238.8 336.1C239.27 340.6 239.73 343.7 240.2 344.4C240.67 345.1 241.13 343.5 241.6 341.6C241.93 340.2 242.27 338.7 242.6 338.1C242.9 337.6 243.3 338.1 243.6 338.3C244.3 338.6 245 337.6 245.7 336.8C246.4 336.1 247 335.6 247.7 335.8C248.5 336 249.4 337.2 250.2 339.3C251 341.4 251.9 344.4 252.7 343.3C253.5 342.1 254.4 336.9 255.2 337.3C255.9 337.7 256.5 341.7 257.2 342.3C257.7 342.7 258.3 341 258.8 339.6C259.3 338.3 259.8 337.1 260.3 337.8C260.8 338.5 261.3 341 261.8 340.3C262.23 339.6 262.67 336.4 263.1 333C263.43 330.4 263.77 327.5 264.1 327.2C264.53 326.8 264.97 330.6 265.4 334.6C265.9 339.2 266.4 344.1 266.9 345.1C267.33 345.9 267.77 343.6 268.2 340.6C268.53 338.3 268.87 335.5 269.2 332.8C269.53 330.1 269.87 327.5 270.2 323.4C270.4 321 270.6 318 270.8 312.2C270.93 308.3 271.07 303.3 271.2 297.2C271.33 291.2 271.47 284.2 271.6 277.5C271.83 265.8 272.07 255 272.3 255C272.53 254.9 272.77 265.6 273 277.2C273.13 283.9 273.27 290.8 273.4 297.1C273.53 303.3 273.67 309 273.8 314.2C273.9 318.1 274 321.7 274.1 324.7C274.3 330.7 274.5 334 274.7 336.3C275.27 342.9 275.83 341.4 276.4 341.3C277.2 341.2 277.9 343.6 278.7 344.1C279.3 344.5 279.9 343.7 280.5 343.3C281 343 281.5 342.8 282 342.6C282.6 342.3 283.2 341.9 283.8 341.1C284.3 340.4 284.9 339.3 285.4 339.3C285.9 339.3 286.3 340.1 286.8 340.7C287.2 341.2 287.7 341.6 288.1 341.4C288.7 341.1 289.2 339.6 289.8 338.1C290.3 336.7 290.9 335.2 291.4 335.1C291.9 335 292.3 336 292.8 336.9C293.2 337.6 293.7 338.3 294.1 339C294.8 340.1 295.5 341.4 296.2 342.6C296.9 343.9 297.7 345 298.4 345.1C299 345.1 299.6 344.5 300.2 343.7C300.9 342.8 301.7 341.8 302.4 340.6C303 339.5 303.7 338.3 304.3 338.5C305 338.8 305.7 340.8 306.4 340.8C307.1 340.7 307.9 338.3 308.6 339.3C309.4 340.4 310.2 345.6 311 344.6C311.6 343.8 312.2 339.5 312.8 336.2C313.33 333.2 313.87 331 314.4 328.5C314.8 326.6 315.2 324.6 315.6 324.9C316.03 325.2 316.47 328.2 316.9 331.6C317.4 335.5 317.9 339.8 318.4 342.2C318.8 344.1 319.2 344.7 319.6 344.4C320.13 344 320.67 341.7 321.2 339.1C321.7 336.6 322.2 333.7 322.7 333.1C323.2 332.6 323.7 334.3 324.2 336.1C324.7 337.9 325.2 339.7 325.7 340.6C326.5 341.8 327.2 340.7 328 341.4C328.7 342.2 329.5 344.7 330.2 344.4C330.6 344.2 331.1 343.1 331.5 341.7C331.93 340.3 332.37 338.7 332.8 334.9C333.2 331.3 333.6 325.9 334 323.3C334.5 320.2 335 321.5 335.5 323C336.17 325 336.83 327.4 337.5 331.7C338.1 335.5 338.7 340.9 339.3 343.6C339.8 345.9 340.3 346.3 340.8 345.2C341.3 344.1 341.8 341.6 342.3 339.1C342.8 336.7 343.3 334.4 343.8 331.5C344.37 328.3 344.93 324.4 345.5 324.6C346.2 324.9 346.9 331.6 347.6 336.1C348.23 340.1 348.87 342.4 349.5 341.6C350.1 340.8 350.8 337 351.4 334.6C351.9 332.8 352.4 331.7 352.9 331.6C353.5 331.4 354 332.4 354.6 334.6C355.2 337 355.8 340.8 356.4 343.1C357 345.3 357.6 346 358.2 345.2C358.7 344.5 359.2 342.7 359.7 342.2C360.2 341.7 360.7 342.5 361.2 342.9C361.9 343.5 362.7 343.4 363.4 342.9C364.2 342.4 364.9 341.6 365.7 340.6C366.2 340 366.7 339.3 367.2 337.5C367.7 335.6 368.2 332.6 368.7 333.2C369.2 333.7 369.7 337.9 370.2 340.5C370.83 343.8 371.47 344.5 372.1 344.4C372.73 344.3 373.37 343.3 374 340.6C374.5 338.5 375 335.3 375.5 331.4C375.87 328.6 376.23 325.3 376.6 325.7C377 326.1 377.4 330.8 377.8 334.4C378.3 338.9 378.8 341.7 379.3 342.2C379.8 342.7 380.3 340.9 380.8 337.5C381.3 334.1 381.8 329.1 382.3 328.7C382.8 328.2 383.3 332.2 383.8 336.1C384.2 339.1 384.6 342.1 385 343.6C385.6 346.1 386.3 345 386.9 344.4C387.3 344 387.7 343.9 388.1 343.7" class="ln" stroke="#2a2ad8" stroke-opacity="0.88"/>
<path d="M42.3 516.5C42.8 515.9 43.3 515.4 43.8 515.1C44.3 514.8 44.9 514.7 45.4 514.8C45.9 514.9 46.5 515.1 47 515.2C47.6 515.3 48.2 515.4 48.8 515.5C49.4 515.5 50 515.5 50.6 515.5C51.2 515.5 51.7 515.4 52.3 515.4C52.9 515.3 53.4 515.3 54 515.2C54.6 515.1 55.1 515.1 55.7 515.1C56.3 515.1 56.8 515.1 57.4 515.1C58 515.1 58.7 515.2 59.3 515.3C59.9 515.4 60.6 515.5 61.2 515.5C62.2 515.5 63.2 515.3 64.2 514.6C64.9 514.1 65.7 513.2 66.4 512.2C66.9 511.5 67.5 510.7 68 509.2C68.5 507.8 69 505.9 69.5 503.2C70 500.5 70.5 497 71 492.6C71.5 488.1 72 482.7 72.5 477.5C73 472.4 73.5 467.6 74 462.3C74.5 457.1 75 451.4 75.5 447.4C75.87 444.5 76.23 442.6 76.6 439.6C77.27 434.1 77.93 425.1 78.6 417.8C79.43 408.5 80.27 402.2 81.1 391.9C81.93 381.6 82.77 364.7 83.6 365.7C84.27 366.6 84.93 379.4 85.6 390.9C86.13 400.1 86.67 408.7 87.2 417.7C87.7 426.1 88.2 434.7 88.7 439.5C89.33 445.6 89.97 445.4 90.6 448.8C90.9 450.4 91.2 452.8 91.5 455.9C91.77 458.7 92.03 462 92.3 463.9C92.8 467.3 93.3 465.6 93.8 464.6C94.3 463.7 94.8 463.4 95.3 463.9C95.8 464.4 96.3 465.7 96.8 466C97.3 466.3 97.8 465.7 98.3 466.1C98.8 466.5 99.3 468.1 99.8 470.9C100.3 473.7 100.8 477.8 101.3 477.6C101.8 477.4 102.3 472.8 102.8 469.2C103.33 465.3 103.87 462.3 104.4 459.3C104.9 456.4 105.4 453.7 105.9 454.3C106.4 454.9 106.9 458.6 107.4 463.9C107.9 469.1 108.4 475.5 108.9 480.2C109.4 484.8 109.9 487.9 110.4 491.2C110.9 494.4 111.4 497.9 111.9 500.1C112.4 502.3 112.9 503.2 113.4 504.7C113.9 506.3 114.4 508.5 114.9 510.7C115.57 513.6 116.23 516.6 116.9 517.5C117.5 518.3 118.1 517.5 118.7 516.8C119.5 515.9 120.2 515.1 121 515C121.7 514.9 122.5 515.4 123.2 515.7C123.7 515.9 124.2 516.1 124.8 516.2C125.3 516.2 125.8 516.2 126.3 516C127.03 515.7 127.77 515.2 128.5 512.2C129 510.1 129.5 506.9 130 503.2C130.53 499.3 131.07 494.8 131.6 489.6C132.1 484.6 132.6 479 133.1 474.5C133.6 470.1 134.1 466.8 134.6 463.9C135.1 461.1 135.6 458.7 136.1 454.8C136.53 451.4 136.97 446.8 137.4 439.6C138.03 429 138.67 413 139.3 402.1C140.03 389.6 140.77 384.3 141.5 378.7C142.3 372.5 143.1 364.2 143.9 363.5C144.6 362.9 145.3 369 146 377.9C146.47 383.8 146.93 391.1 147.4 402C147.57 405.9 147.73 410.2 147.9 414.3C148.13 420 148.37 425.1 148.6 429.6C148.83 434.2 149.07 438.1 149.3 441.9C149.47 444.6 149.63 447.3 149.8 449.5C150.2 454.8 150.6 457.6 151 459.5C151.4 461.4 151.8 462.4 152.2 463.8C152.7 465.4 153.2 467.6 153.7 469.6C154.07 471.1 154.43 472.5 154.8 473.2C155.6 474.5 156.3 472.6 157.1 471.5C158.1 470.2 159.1 470.4 160.1 470.6C160.9 470.8 161.8 471 162.6 469.6C163.2 468.6 163.7 466.9 164.3 465.3C164.9 463.5 165.6 462 166.2 460.7C166.9 459.2 167.7 458.1 168.4 456.9C169 455.9 169.6 454.8 170.2 452C170.7 449.7 171.2 446.2 171.7 439.8C171.97 436.3 172.23 432 172.5 427.6C172.93 420.3 173.37 412.7 173.8 406.7C174.33 399.4 174.87 394.8 175.4 394.3C175.87 393.9 176.33 396.6 176.8 399.6C177.4 403.3 178 407.1 178.6 408.3C179.5 410 180.4 406.5 181.3 399.9C181.93 395.3 182.57 388.9 183.2 388.2C183.83 387.6 184.47 392.7 185.1 397.7C185.6 401.7 186.1 405.6 186.6 409.8C187.37 416.3 188.13 423.7 188.9 429.1C189.67 434.5 190.43 437.9 191.2 439.7C191.6 440.7 192 441.2 192.4 441C193 440.7 193.6 438.9 194.2 436.7C195 433.8 195.8 430.3 196.6 427.2C197.2 424.8 197.9 422.5 198.5 420.8C199.1 419.3 199.7 418.6 200.3 419.5C201 420.5 201.6 423.2 202.3 425.5C203.2 428.5 204.1 431.1 205 438.4C205.47 442.2 205.93 447.3 206.4 452.2C206.87 457 207.33 461.6 207.8 465.4C208.33 469.7 208.87 472.9 209.4 476C209.9 479 210.4 482 210.9 483.5C211.2 484.5 211.6 484.9 211.9 484.2C212.3 483.4 212.7 481 213.1 480.5C213.5 480.1 213.9 481.7 214.3 485.1C214.67 488.2 215.03 492.9 215.4 497C215.9 502.6 216.4 507 216.9 510.2C217.47 513.8 218.03 515.8 218.6 516.3C219.1 516.7 219.5 516.1 220 514.7C220.4 513.5 220.8 511.7 221.2 509.5C221.9 505.5 222.6 500.3 223.3 500.7C223.7 501 224.1 503.1 224.5 505.2C224.87 507.1 225.23 508.9 225.6 509.5C226.4 510.7 227.1 506.7 227.9 507.1C228.5 507.5 229.1 510.6 229.7 513.2C230.33 515.9 230.97 517.9 231.6 516.9C232.23 515.9 232.87 511.9 233.5 506.2C234 501.7 234.5 496 235 488.2C235.37 482.5 235.73 475.7 236.1 475.4C236.5 475 236.9 482.1 237.3 488.4C237.8 496.3 238.3 502.8 238.8 507.7C239.27 512.2 239.73 515.3 240.2 516C240.67 516.7 241.13 515 241.6 513.1C242.13 510.8 242.67 508.1 243.2 504.6C243.7 501.3 244.2 497.4 244.7 495.8C245.7 492.7 246.7 499 247.7 502.4C248.5 505.3 249.4 506.3 250.2 508.9C251 511.5 251.9 515.6 252.7 514.9C253.5 514.1 254.4 508.6 255.2 508.9C255.9 509.2 256.5 513.3 257.2 513.9C257.7 514.4 258.3 512.7 258.8 511.2C259.3 509.8 259.8 508.7 260.3 509.4C260.8 510.2 261.3 512.8 261.8 511.8C262.23 510.9 262.67 507.2 263.1 504.1C263.43 501.7 263.77 499.6 264.1 499.3C264.53 498.8 264.97 501.7 265.4 505.5C265.9 509.9 266.4 515.5 266.9 516.6C267.33 517.6 267.77 515.3 268.2 512.2C268.53 509.9 268.87 507.1 269.2 504.4C269.53 501.7 269.87 499.2 270.2 495C270.4 492.5 270.6 489.4 270.8 483.3C270.93 479.2 271.07 473.7 271.2 467C271.33 460.4 271.47 452.6 271.6 445.4C271.83 432.6 272.07 421.5 272.3 421.5C272.53 421.4 272.77 432.4 273 445.1C273.13 452.3 273.27 460 273.4 466.9C273.53 473.8 273.67 479.8 273.8 485.3C273.9 489.4 274 493.1 274.1 496.2C274.3 502.3 274.5 505.6 274.7 507.9C275.27 514.5 275.83 513 276.4 512.9C277.2 512.8 277.9 515.2 278.7 515.7C279.3 516.1 279.9 515.3 280.5 514.9C281 514.6 281.5 514.4 282 514.2C282.6 513.9 283.2 513.5 283.8 512.7C284.3 512 284.9 510.9 285.4 510.9C285.9 510.9 286.3 511.7 286.8 512.3C287.2 512.8 287.7 513.2 288.1 513C288.7 512.7 289.2 511.2 289.8 509.7C290.3 508.3 290.9 506.8 291.4 506.7C291.9 506.6 292.3 507.6 292.8 508.5C293.2 509.2 293.7 509.9 294.1 510.6C294.8 511.7 295.5 513 296.2 514.2C296.9 515.5 297.7 516.6 298.4 516.7C299 516.7 299.6 516.1 300.2 515.3C300.9 514.4 301.7 513.4 302.4 512.2C303 511.1 303.7 509.9 304.3 510.1C305 510.4 305.7 512.4 306.4 512.4C307.1 512.3 307.9 509.9 308.6 510.9C309.4 512 310.2 517.2 311 516.2C311.6 515.4 312.2 511.1 312.8 507.8C313.33 504.8 313.87 502.6 314.4 499.4C314.8 497.1 315.2 494.2 315.6 494.5C316.03 494.8 316.47 498.8 316.9 502.6C317.4 507.1 317.9 511.4 318.4 513.7C318.8 515.7 319.2 516.3 319.6 516C320.13 515.6 320.67 513.4 321.2 510.3C321.7 507.4 322.2 503.3 322.7 502.7C323.2 502.2 323.7 505.1 324.2 507.3C324.7 509.5 325.2 511.3 325.7 512.2C326.5 513.4 327.2 512.3 328 513C328.7 513.8 329.5 516.3 330.2 516C330.6 515.8 331.1 514.7 331.5 513.2C331.93 511.8 332.37 510 332.8 506.6C333.2 503.5 333.6 499.1 334 493.8C334.5 487.1 335 478.2 335.5 478.6C336.17 479.1 336.83 494.9 337.5 502.8C338.1 510 338.7 513.3 339.3 515.3C339.8 517.1 340.3 517.8 340.8 516.8C341.3 515.7 341.8 512.9 342.3 510.8C342.8 508.7 343.3 507.6 343.8 501.9C344.37 495.5 344.93 479.6 345.5 479.3C346.2 478.9 346.9 500.1 347.6 507.2C348.23 513.7 348.87 514.3 349.5 513.2C350.13 512.1 350.77 509.3 351.4 505.7C351.9 502.8 352.4 498.9 352.9 498.7C353.47 498.5 354.03 502.7 354.6 505.9C355.2 509.2 355.8 512.5 356.4 514.7C357 516.8 357.6 517.6 358.2 516.8C358.7 516.1 359.2 514.3 359.7 513.8C360.2 513.3 360.7 514.1 361.2 514.5C361.9 515.1 362.7 514.9 363.4 514.5C364.2 514.1 364.9 513.3 365.7 512.2C366.2 511.5 366.7 510.6 367.2 508.8C367.7 506.9 368.2 503.7 368.7 504.2C369.2 504.8 369.7 509.2 370.2 511.8C370.83 515 371.47 515.9 372.1 516C372.73 516.1 373.37 515.3 374 512.1C374.5 509.7 375 505.7 375.5 502C375.87 499.3 376.23 496.8 376.6 497.2C377 497.7 377.4 501.7 377.8 505.2C378.3 509.5 378.8 513.1 379.3 513.8C379.8 514.4 380.3 512.3 380.8 508.8C381.3 505.4 381.8 500.2 382.3 499.7C382.8 499.3 383.3 503.5 383.8 507.4C384.2 510.5 384.6 513.6 385 515.2C385.63 517.8 386.27 516.6 386.9 516C387.3 515.6 387.7 515.5 388.1 515.3L388.1 519.3C387.7 519.5 387.3 519.6 386.9 520C386.27 520.6 385.63 521.8 385 519.2C384.6 517.6 384.2 514.5 383.8 511.7C383.3 508.2 382.8 505.3 382.3 505.7C381.8 506.2 381.3 510.1 380.8 513.2C380.3 516.2 379.8 518.4 379.3 517.8C378.8 517.1 378.3 513.6 377.8 510.2C377.4 507.4 377 504.7 376.6 504.2C376.23 503.8 375.87 505.2 375.5 507.2C375 509.9 374.5 513.7 374 516.1C373.37 519.2 372.73 520.1 372.1 520C371.47 519.9 370.83 518.8 370.2 516.1C369.7 514 369.2 510.8 368.7 510.2C368.2 509.7 367.7 511.7 367.2 513.1C366.7 514.6 366.2 515.5 365.7 516.2C364.9 517.3 364.2 518.1 363.4 518.5C362.7 518.9 361.9 519.1 361.2 518.5C360.7 518.1 360.2 517.3 359.7 517.8C359.2 518.3 358.7 520.1 358.2 520.8C357.6 521.6 357 520.8 356.4 518.7C355.8 516.5 355.2 513 354.6 510.2C354.03 507.5 353.47 505.5 352.9 505.7C352.4 505.9 351.9 508 351.4 510.2C350.77 513 350.13 516.1 349.5 517.2C348.87 518.3 348.23 517.3 347.6 511.6C346.9 505.2 346.2 492.9 345.5 493.3C344.93 493.6 344.37 502.1 343.8 507C343.3 511.3 342.8 512.7 342.3 514.8C341.8 516.9 341.3 519.7 340.8 520.8C340.3 521.8 339.8 521.1 339.3 519.3C338.7 517.3 338.1 513.8 337.5 507.1C336.83 499.6 336.17 488.1 335.5 487.6C335 487.2 334.5 493 334 498.6C333.6 503.1 333.2 507.5 332.8 510.6C332.37 514 331.93 515.8 331.5 517.2C331.1 518.7 330.6 519.8 330.2 520C329.5 520.3 328.7 517.8 328 517C327.2 516.3 326.5 517.4 325.7 516.2C325.2 515.3 324.7 513.5 324.2 511.7C323.7 509.9 323.2 508.2 322.7 508.7C322.2 509.3 321.7 512.2 321.2 514.7C320.67 517.3 320.13 519.6 319.6 520C319.2 520.3 318.8 519.7 318.4 517.8C317.9 515.4 317.4 511.1 316.9 507.2C316.47 503.8 316.03 500.8 315.6 500.5C315.2 500.2 314.8 502.2 314.4 504.1C313.87 506.6 313.33 508.8 312.8 511.8C312.2 515.1 311.6 519.4 311 520.2C310.2 521.2 309.4 516 308.6 514.9C307.9 513.9 307.1 516.3 306.4 516.4C305.7 516.4 305 514.4 304.3 514.1C303.7 513.9 303 515.1 302.4 516.2C301.7 517.4 300.9 518.4 300.2 519.3C299.6 520.1 299 520.7 298.4 520.7C297.7 520.6 296.9 519.5 296.2 518.2C295.5 517 294.8 515.7 294.1 514.6C293.7 513.9 293.2 513.2 292.8 512.5C292.3 511.6 291.9 510.6 291.4 510.7C290.9 510.8 290.3 512.3 289.8 513.7C289.2 515.2 288.7 516.7 288.1 517C287.7 517.2 287.2 516.8 286.8 516.3C286.3 515.7 285.9 514.9 285.4 514.9C284.9 514.9 284.3 516 283.8 516.7C283.2 517.5 282.6 517.9 282 518.2C281.5 518.4 281 518.6 280.5 518.9C279.9 519.3 279.3 520.1 278.7 519.7C277.9 519.2 277.2 516.8 276.4 516.9C275.83 517 275.27 518.5 274.7 512C274.5 509.6 274.3 506.3 274.1 500.3C274 497.3 273.9 493.6 273.8 489.7C273.67 484.4 273.53 478.8 273.4 472.6C273.27 466.4 273.13 459.7 273 453.6C272.77 443 272.53 434.4 272.3 434.5C272.07 434.5 271.83 443.2 271.6 453.9C271.47 460 271.33 466.8 271.2 472.7C271.07 478.7 270.93 483.8 270.8 487.7C270.6 493.5 270.4 496.5 270.2 499C269.87 503.2 269.53 505.7 269.2 508.4C268.87 511.1 268.53 513.9 268.2 516.2C267.77 519.3 267.33 521.6 266.9 520.6C266.4 519.5 265.9 514 265.4 510.3C264.97 507 264.53 505 264.1 505.2C263.77 505.4 263.43 506.8 263.1 508.8C262.67 511.4 262.23 515 261.8 515.8C261.3 516.8 260.8 514.2 260.3 513.4C259.8 512.7 259.3 513.8 258.8 515.2C258.3 516.7 257.7 518.4 257.2 517.9C256.5 517.3 255.9 513.2 255.2 512.9C254.4 512.6 253.5 518.1 252.7 518.9C251.9 519.6 251 515.5 250.2 512.9C249.4 510.3 248.5 509.2 247.7 506.8C246.7 503.8 245.7 498.9 244.7 501.8C244.2 503.3 243.7 506.8 243.2 509.6C242.67 512.7 242.13 515.1 241.6 517.3C241.1 519.1 240.7 520.7 240.2 520C239.73 519.3 239.27 516.2 238.8 511.7C238.3 506.9 237.8 500.4 237.3 493.4C236.9 487.8 236.5 482 236.1 482.4C235.73 482.7 235.37 488.4 235 493.3C234.5 500.1 234 505.7 233.5 510.2C232.87 515.9 232.23 519.9 231.6 520.9C230.97 521.9 230.33 519.9 229.7 517.2C229.1 514.6 228.5 511.5 227.9 511.1C227.1 510.7 226.4 514.7 225.6 513.5C225.23 512.9 224.87 511.1 224.5 509.2C224.1 507.1 223.7 505 223.3 504.7C222.6 504.3 221.9 509.5 221.2 513.5C220.8 515.7 220.4 517.5 220 518.7C219.5 520.1 219.1 520.7 218.6 520.3C218.03 519.8 217.47 517.8 216.9 514.2C216.4 511 215.9 506.6 215.4 501C215.03 496.9 214.67 492.2 214.3 489.1C213.9 485.7 213.5 484.1 213.1 484.5C212.7 485 212.3 487.4 211.9 488.2C211.6 488.9 211.2 488.5 210.9 487.5C210.4 486 209.9 483 209.4 480C208.87 476.9 208.33 473.7 207.8 469.4C207.33 465.6 206.87 461 206.4 456.2C205.93 451.3 205.47 446.2 205 442.4C204.1 435.1 203.2 432.6 202.3 430.2C201.6 428.4 201 426.7 200.3 426.2C199.7 425.7 199.1 426.3 198.5 427.2C197.9 428.2 197.2 429.7 196.6 431.7C195.8 434.3 195 437.8 194.2 440.7C193.6 442.9 193 444.7 192.4 445C192 445.2 191.6 444.7 191.2 443.7C190.43 441.9 189.67 438.5 188.9 433.1C188.13 427.7 187.37 420.3 186.6 413.9C186.1 409.8 185.6 406.1 185.1 402.9C184.47 398.8 183.83 395.6 183.2 396.2C182.57 396.9 181.93 401.4 181.3 405.1C180.4 410.3 179.5 414 178.6 412.4C178 411.3 177.4 408 176.8 405.1C176.33 402.8 175.87 400.9 175.4 401.3C174.87 401.8 174.33 405.4 173.8 412C173.37 417.3 172.93 424.6 172.5 431.7C172.23 436.1 171.97 440.4 171.7 443.8C171.2 450.2 170.7 453.7 170.2 456C169.6 458.8 169 459.9 168.4 460.9C167.7 462.1 166.9 463.2 166.2 464.7C165.6 466 164.9 467.5 164.3 469.3C163.7 470.9 163.2 472.6 162.6 473.6C161.8 475 160.9 474.8 160.1 474.6C159.1 474.4 158.1 474.2 157.1 475.5C156.3 476.6 155.6 478.5 154.8 477.2C154.43 476.5 154.07 475.1 153.7 473.6C153.2 471.6 152.7 469.4 152.2 467.8C151.8 466.4 151.4 465.4 151 463.5C150.6 461.6 150.2 458.8 149.8 453.5C149.63 451.3 149.47 448.6 149.3 445.9C149.07 442.1 148.83 438.2 148.6 433.6C148.37 429.1 148.13 424 147.9 418.3C147.73 414.3 147.57 410 147.4 406.1C146.93 395.3 146.47 388.3 146 383.4C145.3 376 144.6 373.2 143.9 373.5C143.1 373.8 142.3 378.2 141.5 383.4C140.77 388.1 140.03 393.6 139.3 406.1C138.67 417 138.03 433 137.4 443.6C136.97 450.8 136.53 455.4 136.1 458.8C135.6 462.7 135.1 465.1 134.6 467.9C134.1 470.8 133.6 474.1 133.1 478.5C132.6 483 132.1 488.6 131.6 493.6C131.07 498.8 130.53 503.3 130 507.2C129.5 510.9 129 514.1 128.5 516.2C127.77 519.2 127.03 519.7 126.3 520C125.8 520.2 125.3 520.2 124.8 520.2C124.2 520.1 123.7 519.9 123.2 519.7C122.5 519.4 121.7 518.9 121 519C120.2 519.1 119.5 519.9 118.7 520.8C118.1 521.5 117.5 522.3 116.9 521.5C116.23 520.6 115.57 517.6 114.9 514.7C114.4 512.5 113.9 510.3 113.4 508.7C112.9 507.2 112.4 506.3 111.9 504.1C111.4 501.9 110.9 498.4 110.4 495.2C109.9 491.9 109.4 488.8 108.9 484.4C108.4 480 107.9 474.2 107.4 470.2C106.9 466.1 106.4 463.9 105.9 463.3C105.4 462.7 104.9 463.9 104.4 465.6C103.87 467.4 103.33 469.8 102.8 474C102.3 478 101.8 483.4 101.3 483.6C100.8 483.8 100.3 478.8 99.8 475.5C99.3 472.2 98.8 470.6 98.3 470.1C97.8 469.7 97.3 470.3 96.8 470C96.3 469.7 95.8 468.4 95.3 467.9C94.8 467.4 94.3 467.7 93.8 468.6C93.3 469.6 92.8 471.3 92.3 467.9C92.03 466 91.77 462.7 91.5 459.9C91.2 456.8 90.9 454.4 90.6 452.8C89.97 449.4 89.33 449.6 88.7 443.5C88.2 438.7 87.7 430.1 87.2 421.8C86.67 412.9 86.13 404.6 85.6 396.9C84.93 387.2 84.27 378.6 83.6 377.7C82.77 376.7 81.93 387.9 81.1 396.8C80.27 405.8 79.43 412.5 78.6 421.8C77.93 429.1 77.27 438.1 76.6 443.6C76.23 446.6 75.87 448.5 75.5 451.4C75 455.4 74.5 461.1 74 466.3C73.5 471.6 73 476.4 72.5 481.5C72 486.7 71.5 492.1 71 496.6C70.5 501 70 504.5 69.5 507.2C69 509.9 68.5 511.8 68 513.2C67.5 514.7 66.9 515.5 66.4 516.2C65.7 517.2 64.9 518.1 64.2 518.6C63.2 519.3 62.2 519.5 61.2 519.5C60.6 519.5 59.9 519.4 59.3 519.3C58.7 519.2 58 519.1 57.4 519.1C56.8 519.1 56.3 519.1 55.7 519.1C55.1 519.1 54.6 519.1 54 519.2C53.4 519.3 52.9 519.3 52.3 519.4C51.7 519.4 51.2 519.5 50.6 519.5C50 519.5 49.4 519.5 48.8 519.5C48.2 519.4 47.6 519.3 47 519.2C46.5 519.1 45.9 518.9 45.4 518.8C44.9 518.7 44.3 518.8 43.8 519.1C43.3 519.4 42.8 519.9 42.3 520.5Z" fill="#d4d0dc" fill-opacity="0.6"/>
<path d="M42.3 516.3C42.8 515.7 43.3 515.2 43.8 514.9C44.3 514.6 44.9 514.5 45.4 514.6C45.9 514.7 46.5 514.9 47 515C47.6 515.1 48.2 515.2 48.8 515.3C49.4 515.3 50 515.3 50.6 515.3C51.2 515.3 51.7 515.2 52.3 515.2C52.9 515.1 53.4 515.1 54 515C54.6 514.9 55.1 514.9 55.7 514.9C56.3 514.9 56.8 514.9 57.4 514.9C58 514.9 58.7 515 59.3 515.1C59.9 515.2 60.6 515.3 61.2 515.3C62.2 515.3 63.2 515.1 64.2 514.4C64.9 513.9 65.7 513 66.4 512C66.9 511.3 67.5 510.5 68 509C68.5 507.6 69 505.7 69.5 503C70 500.3 70.5 496.8 71 492.4C71.5 487.9 72 482.5 72.5 477.3C73 472.2 73.5 467.4 74 462.1C74.5 456.9 75 451.2 75.5 447.2C75.87 444.3 76.23 442.3 76.6 439.3C77.27 433.7 77.93 424.7 78.6 417.2C79.43 407.8 80.27 401.1 81.1 391.2C81.93 381.3 82.77 367 83.6 368.1C84.27 368.9 84.93 379.8 85.6 390.6C86.13 399.2 86.67 407.9 87.2 416.9C87.7 425.4 88.2 434.2 88.7 439.1C89.33 445.2 89.97 445 90.6 448.5C90.9 450.2 91.2 452.7 91.5 455.6C91.77 458.1 92.03 460.9 92.3 462.4C92.8 465.1 93.3 463.1 93.8 462.1C94.3 461.1 94.8 461 95.3 461.5C95.8 462 96.3 463.2 96.8 463.4C97.3 463.7 97.8 463.1 98.3 464C98.8 465 99.3 467.5 99.8 471C100.3 474.4 100.8 478.8 101.3 478.4C101.8 478.1 102.3 473.1 102.8 469.4C103.33 465.5 103.87 463.1 104.4 460.2C104.9 457.4 105.4 454.5 105.9 455C106.4 455.6 106.9 459.7 107.4 464.8C107.9 469.8 108.4 475.7 108.9 480.1C109.4 484.6 109.9 487.6 110.4 490.9C110.9 494.3 111.4 497.7 111.9 499.9C112.4 502.1 112.9 503 113.4 504.5C113.9 506.1 114.4 508.3 114.9 510.5C115.57 513.4 116.23 516.4 116.9 517.3C117.5 518.1 118.1 517.3 118.7 516.6C119.5 515.7 120.2 514.9 121 514.8C121.7 514.7 122.5 515.2 123.2 515.5C123.7 515.7 124.2 515.9 124.8 516C125.3 516 125.8 516 126.3 515.8C127.03 515.5 127.77 515 128.5 512C129 509.9 129.5 506.7 130 503C130.53 499.1 131.07 494.6 131.6 489.4C132.1 484.4 132.6 478.8 133.1 474.3C133.6 469.9 134.1 466.5 134.6 463.7C135.1 460.8 135.6 458.5 136.1 454.5C136.53 451.1 136.97 446.4 137.4 439.2C138.03 428.6 138.67 412.4 139.3 401.4C140.03 388.7 140.77 383.1 141.5 377.8C142.3 371.9 143.1 365.5 143.9 365C144.6 364.5 145.3 369 146 377.3C146.47 382.9 146.93 390.2 147.4 401.1C147.57 405.1 147.73 409.5 147.9 413.5C148.13 419.3 148.37 424.4 148.6 429C148.83 433.6 149.07 437.6 149.3 441.5C149.47 444.2 149.63 446.9 149.8 449.1C150.2 454.4 150.6 457.3 151 459.2C151.4 461.1 151.8 462.2 152.2 463.5C152.7 465.2 153.2 467.4 153.7 469.4C154.07 470.9 154.43 472.3 154.8 473C155.6 474.3 156.3 472.4 157.1 471.3C158.1 470 159.1 470.2 160.1 470.4C160.9 470.6 161.8 470.8 162.6 469.4C163.2 468.4 163.7 466.7 164.3 465.1C164.9 463.3 165.6 461.8 166.2 460.5C166.9 459 167.7 457.9 168.4 456.7C169 455.7 169.6 454.6 170.2 451.8C170.7 449.5 171.2 446 171.7 439.6C171.97 436.1 172.23 431.8 172.5 427.4C172.93 420.3 173.37 412.8 173.8 407.1C174.33 400.2 174.87 396.1 175.4 395.6C175.87 395.2 176.33 397.6 176.8 400.1C177.4 403.4 178 406.9 178.6 408.1C179.5 410 180.4 407.1 181.3 400.3C181.93 395.5 182.57 388.6 183.2 388C183.83 387.4 184.47 393.1 185.1 398.1C185.6 402 186.1 405.6 186.6 409.7C187.37 415.9 188.13 423.4 188.9 428.9C189.67 434.3 190.43 437.7 191.2 439.5C191.6 440.5 192 441 192.4 440.8C193 440.5 193.6 438.7 194.2 436.5C195 433.6 195.8 429.9 196.6 427.3C197.2 425.1 197.9 423.5 198.5 421.8C199.1 420.1 199.7 418.5 200.3 419.2C201 419.8 201.6 423.1 202.3 425.6C203.2 429 204.1 431 205 438.2C205.47 442 205.93 447.1 206.4 452C206.87 456.8 207.33 461.4 207.8 465.2C208.33 469.5 208.87 472.7 209.4 475.8C209.9 478.8 210.4 481.8 210.9 483.3C211.2 484.3 211.6 484.7 211.9 484C212.3 483.2 212.7 480.8 213.1 480.3C213.5 479.9 213.9 481.5 214.3 484.9C214.67 488 215.03 492.7 215.4 496.8C215.9 502.4 216.4 506.8 216.9 510C217.47 513.6 218.03 515.6 218.6 516.1C219.1 516.5 219.5 515.9 220 514.5C220.4 513.3 220.8 511.5 221.2 509.3C221.9 505.3 222.6 500.1 223.3 500.5C223.7 500.8 224.1 502.9 224.5 505C224.87 506.9 225.23 508.7 225.6 509.3C226.4 510.5 227.1 506.5 227.9 506.9C228.5 507.3 229.1 510.4 229.7 513C230.33 515.7 230.97 517.7 231.6 516.7C232.23 515.7 232.87 511.7 233.5 506C234 501.5 234.5 495.8 235 488.5C235.37 483.2 235.73 477 236.1 476.7C236.5 476.3 236.9 482.8 237.3 488.7C237.8 496.1 238.3 502.6 238.8 507.5C239.27 512 239.73 515.1 240.2 515.8C240.67 516.5 241.13 514.9 241.6 513C242.13 510.8 242.67 508.2 243.2 504.9C243.7 501.8 244.2 498.2 244.7 496.6C245.7 493.6 246.7 499.2 247.7 502.4C248.5 505 249.4 506.1 250.2 508.7C251 511.3 251.9 515.4 252.7 514.7C253.5 513.9 254.4 508.4 255.2 508.7C255.9 509 256.5 513.1 257.2 513.7C257.7 514.2 258.3 512.5 258.8 511C259.3 509.6 259.8 508.5 260.3 509.2C260.8 510 261.3 512.6 261.8 511.6C262.23 510.7 262.67 507.1 263.1 504.2C263.43 502 263.77 500.3 264.1 500.1C264.53 499.7 264.97 502.1 265.4 505.7C265.9 509.8 266.4 515.3 266.9 516.4C267.33 517.4 267.77 515.1 268.2 512C268.53 509.7 268.87 506.9 269.2 504.2C269.53 501.5 269.87 499 270.2 494.8C270.4 492.3 270.6 489.3 270.8 483.3C270.93 479.3 271.07 473.9 271.2 467.7C271.33 461.4 271.47 454.2 271.6 447.5C271.83 435.9 272.07 426.3 272.3 426.2C272.53 426.2 272.77 435.7 273 447.2C273.13 453.8 273.27 461 273.4 467.5C273.53 474 273.67 479.9 273.8 485.3C273.9 489.3 274 493 274.1 496C274.3 502.1 274.5 505.4 274.7 507.8C275.27 514.3 275.83 512.8 276.4 512.7C277.2 512.6 277.9 515 278.7 515.5C279.3 515.9 279.9 515.1 280.5 514.7C281 514.4 281.5 514.2 282 514C282.6 513.7 283.2 513.3 283.8 512.5C284.3 511.8 284.9 510.7 285.4 510.7C285.9 510.7 286.3 511.5 286.8 512.1C287.2 512.6 287.7 513 288.1 512.8C288.7 512.5 289.2 511 289.8 509.5C290.3 508.1 290.9 506.6 291.4 506.5C291.9 506.4 292.3 507.4 292.8 508.3C293.2 509 293.7 509.7 294.1 510.4C294.8 511.5 295.5 512.8 296.2 514C296.9 515.3 297.7 516.4 298.4 516.5C299 516.5 299.6 515.9 300.2 515.1C300.9 514.2 301.7 513.2 302.4 512C303 510.9 303.7 509.7 304.3 509.9C305 510.2 305.7 512.2 306.4 512.2C307.1 512.1 307.9 509.7 308.6 510.7C309.4 511.8 310.2 517 311 516C311.6 515.2 312.2 510.9 312.8 507.6C313.33 504.6 313.87 502.4 314.4 499.6C314.8 497.5 315.2 495 315.6 495.3C316.03 495.6 316.47 499.1 316.9 502.7C317.4 506.9 317.9 511.2 318.4 513.5C318.8 515.5 319.2 516.1 319.6 515.8C320.13 515.4 320.67 513.2 321.2 510.3C321.7 507.6 322.2 504.1 322.7 503.5C323.2 503 323.7 505.3 324.2 507.3C324.7 509.3 325.2 511.1 325.7 512C326.5 513.2 327.2 512.1 328 512.8C328.7 513.6 329.5 516.1 330.2 515.8C330.6 515.6 331.1 514.5 331.5 513C331.93 511.6 332.37 509.8 332.8 506.4C333.2 503.4 333.6 499 334 494C334.5 487.7 335 479.8 335.5 480.1C336.17 480.5 336.83 494.8 337.5 502.7C338.1 509.9 338.7 513.1 339.3 515.1C339.8 516.8 340.3 517.6 340.8 516.6C341.3 515.5 341.8 512.7 342.3 510.6C342.8 508.6 343.3 507.5 343.8 502.2C344.37 496.2 344.93 483 345.5 482.6C346.2 482.1 346.9 500 347.6 507.2C348.23 513.7 348.87 514.2 349.5 513C350.13 511.8 350.77 508.9 351.4 505.7C351.9 503.2 352.4 500.2 352.9 500C353.47 499.8 354.03 502.9 354.6 505.8C355.2 508.9 355.8 512.3 356.4 514.5C357 516.6 357.6 517.4 358.2 516.6C358.7 515.9 359.2 514.1 359.7 513.6C360.2 513.1 360.7 513.9 361.2 514.3C361.9 514.9 362.7 514.7 363.4 514.3C364.2 513.9 364.9 513.1 365.7 512C366.2 511.3 366.7 510.4 367.2 508.8C367.7 507.1 368.2 504.5 368.7 505C369.2 505.6 369.7 509.4 370.2 511.8C370.83 514.7 371.47 515.7 372.1 515.8C372.73 515.9 373.37 515 374 511.9C374.5 509.5 375 505.6 375.5 502.4C375.87 500 376.23 498.1 376.6 498.5C377 499 377.4 502.4 377.8 505.5C378.3 509.4 378.8 512.9 379.3 513.6C379.8 514.2 380.3 512 380.8 508.8C381.3 505.5 381.8 501 382.3 500.5C382.8 500.1 383.3 503.7 383.8 507.3C384.2 510.3 384.6 513.4 385 515C385.63 517.6 386.27 516.4 386.9 515.8C387.3 515.4 387.7 515.3 388.1 515.1L388.1 519.5C387.7 519.7 387.3 519.8 386.9 520.2C386.27 520.8 385.63 522 385 519.4C384.6 517.8 384.2 514.7 383.8 511.9C383.3 508.4 382.8 505.5 382.3 505.9C381.8 506.4 381.3 510.3 380.8 513.4C380.3 516.4 379.8 518.6 379.3 518C378.8 517.3 378.3 513.8 377.8 510.4C377.4 507.6 377 504.9 376.6 504.4C376.23 504 375.87 505.4 375.5 507.4C375 510.1 374.5 513.9 374 516.3C373.37 519.4 372.73 520.3 372.1 520.2C371.47 520.1 370.83 519 370.2 516.3C369.7 514.2 369.2 511 368.7 510.4C368.2 509.9 367.7 511.9 367.2 513.3C366.7 514.8 366.2 515.7 365.7 516.4C364.9 517.5 364.2 518.3 363.4 518.7C362.7 519.1 361.9 519.3 361.2 518.7C360.7 518.3 360.2 517.5 359.7 518C359.2 518.5 358.7 520.3 358.2 521C357.6 521.8 357 521 356.4 518.9C355.8 516.7 355.2 513.2 354.6 510.4C354.03 507.7 353.47 505.7 352.9 505.9C352.4 506.1 351.9 508.2 351.4 510.4C350.77 513.2 350.13 516.2 349.5 517.4C348.87 518.6 348.23 517.9 347.6 511.7C346.9 504.9 346.2 491.5 345.5 492C344.93 492.4 344.37 502 343.8 507.2C343.3 511.8 342.8 513 342.3 515C341.8 517.1 341.3 519.9 340.8 521C340.3 522 339.8 521.2 339.3 519.5C338.7 517.5 338.1 514.2 337.5 507.3C336.83 499.5 336.17 487.4 335.5 487C335 486.7 334.5 493 334 498.8C333.6 503.5 333.2 507.8 332.8 510.8C332.37 514.1 331.93 516 331.5 517.4C331.1 518.9 330.6 520 330.2 520.2C329.5 520.5 328.7 518 328 517.2C327.2 516.5 326.5 517.6 325.7 516.4C325.2 515.5 324.7 513.7 324.2 511.9C323.7 510.1 323.2 508.4 322.7 508.9C322.2 509.5 321.7 512.4 321.2 514.9C320.67 517.5 320.13 519.8 319.6 520.2C319.2 520.5 318.8 519.9 318.4 518C317.9 515.6 317.4 511.3 316.9 507.4C316.47 504 316.03 501 315.6 500.7C315.2 500.4 314.8 502.4 314.4 504.3C313.87 506.8 313.33 509 312.8 512C312.2 515.3 311.6 519.6 311 520.4C310.2 521.4 309.4 516.2 308.6 515.1C307.9 514.1 307.1 516.5 306.4 516.6C305.7 516.6 305 514.6 304.3 514.3C303.7 514.1 303 515.3 302.4 516.4C301.7 517.6 300.9 518.6 300.2 519.5C299.6 520.3 299 520.9 298.4 520.9C297.7 520.8 296.9 519.7 296.2 518.4C295.5 517.2 294.8 515.9 294.1 514.8C293.7 514.1 293.2 513.4 292.8 512.7C292.3 511.8 291.9 510.8 291.4 510.9C290.9 511 290.3 512.5 289.8 513.9C289.2 515.4 288.7 516.9 288.1 517.2C287.7 517.4 287.2 517 286.8 516.5C286.3 515.9 285.9 515.1 285.4 515.1C284.9 515.1 284.3 516.2 283.8 516.9C283.2 517.7 282.6 518.1 282 518.4C281.5 518.6 281 518.8 280.5 519.1C279.9 519.5 279.3 520.3 278.7 519.9C277.9 519.4 277.2 517 276.4 517.1C275.83 517.2 275.27 518.7 274.7 512.2C274.5 509.8 274.3 506.5 274.1 500.5C274 497.5 273.9 493.8 273.8 489.9C273.67 484.6 273.53 478.9 273.4 472.8C273.27 466.6 273.13 459.9 273 453.9C272.77 443.4 272.53 435.1 272.3 435.1C272.07 435.2 271.83 443.6 271.6 454.2C271.47 460.2 271.33 467 271.2 472.9C271.07 478.8 270.93 484 270.8 487.9C270.6 493.7 270.4 496.7 270.2 499.2C269.87 503.4 269.53 505.9 269.2 508.6C268.87 511.3 268.53 514.1 268.2 516.4C267.77 519.5 267.33 521.8 266.9 520.8C266.4 519.7 265.9 514.2 265.4 510.5C264.97 507.2 264.53 505.2 264.1 505.4C263.77 505.6 263.43 507 263.1 509C262.67 511.6 262.23 515.2 261.8 516C261.3 517 260.8 514.4 260.3 513.6C259.8 512.9 259.3 514 258.8 515.4C258.3 516.9 257.7 518.6 257.2 518.1C256.5 517.5 255.9 513.4 255.2 513.1C254.4 512.8 253.5 518.3 252.7 519.1C251.9 519.8 251 515.7 250.2 513.1C249.4 510.5 248.5 509.4 247.7 507C246.7 504 245.7 499.1 244.7 502C244.2 503.5 243.7 507 243.2 509.8C242.67 512.9 242.13 515.3 241.6 517.5C241.1 519.3 240.7 520.9 240.2 520.2C239.73 519.5 239.27 516.4 238.8 511.9C238.3 507.1 237.8 500.6 237.3 493.6C236.9 488 236.5 482.2 236.1 482.6C235.73 482.9 235.37 488.6 235 493.5C234.5 500.3 234 505.9 233.5 510.4C232.87 516.1 232.23 520.1 231.6 521.1C230.97 522.1 230.33 520.1 229.7 517.4C229.1 514.8 228.5 511.7 227.9 511.3C227.1 510.9 226.4 514.9 225.6 513.7C225.23 513.1 224.87 511.3 224.5 509.4C224.1 507.3 223.7 505.2 223.3 504.9C222.6 504.5 221.9 509.7 221.2 513.7C220.8 515.9 220.4 517.7 220 518.9C219.5 520.3 219.1 520.9 218.6 520.5C218.03 520 217.47 518 216.9 514.4C216.4 511.2 215.9 506.8 215.4 501.2C215.03 497.1 214.67 492.4 214.3 489.3C213.9 485.9 213.5 484.3 213.1 484.7C212.7 485.2 212.3 487.6 211.9 488.4C211.6 489.1 211.2 488.7 210.9 487.7C210.4 486.2 209.9 483.2 209.4 480.2C208.87 477.1 208.33 473.9 207.8 469.6C207.33 465.8 206.87 461.2 206.4 456.4C205.93 451.5 205.47 446.4 205 442.7C204.1 435.4 203.2 433.4 202.3 430.4C201.6 428.1 201 425.3 200.3 424.9C199.7 424.5 199.1 426 198.5 427.4C197.9 428.8 197.2 430 196.6 431.9C195.8 434.4 195 438 194.2 440.9C193.6 443.1 193 444.9 192.4 445.2C192 445.4 191.6 444.9 191.2 443.9C190.43 442.1 189.67 438.7 188.9 433.3C188.13 427.8 187.37 420.3 186.6 414.1C186.1 410.1 185.6 406.6 185.1 403C184.47 398.5 183.83 393.8 183.2 394.4C182.57 395 181.93 400.9 181.3 405.2C180.4 411.4 179.5 414.4 178.6 412.6C178 411.4 177.4 408.1 176.8 405.3C176.33 403.1 175.87 401.1 175.4 401.5C174.87 402 174.33 405.6 173.8 412.2C173.37 417.5 172.93 424.8 172.5 431.9C172.23 436.3 171.97 440.6 171.7 444C171.2 450.4 170.7 453.9 170.2 456.2C169.6 459 169 460.1 168.4 461.1C167.7 462.3 166.9 463.4 166.2 464.9C165.6 466.2 164.9 467.7 164.3 469.5C163.7 471.1 163.2 472.8 162.6 473.8C161.8 475.2 160.9 475 160.1 474.8C159.1 474.6 158.1 474.4 157.1 475.7C156.3 476.8 155.6 478.7 154.8 477.4C154.43 476.7 154.07 475.3 153.7 473.8C153.2 471.8 152.7 469.6 152.2 467.9C151.8 466.6 151.4 465.5 151 463.6C150.6 461.7 150.2 458.8 149.8 453.5C149.63 451.3 149.47 448.6 149.3 445.9C149.07 442 148.83 438 148.6 433.4C148.37 428.8 148.13 423.7 147.9 418C147.73 413.9 147.57 409.5 147.4 405.6C146.93 394.7 146.47 387.5 146 382.5C145.3 374.9 144.6 372.1 143.9 372.4C143.1 372.7 142.3 377.2 141.5 382.5C140.77 387.4 140.03 393.1 139.3 405.8C138.67 416.8 138.03 433 137.4 443.6C136.97 450.8 136.53 455.5 136.1 458.9C135.6 462.9 135.1 465.2 134.6 468.1C134.1 470.9 133.6 474.3 133.1 478.7C132.6 483.2 132.1 488.8 131.6 493.8C131.07 499 130.53 503.5 130 507.4C129.5 511.1 129 514.3 128.5 516.4C127.77 519.4 127.03 519.9 126.3 520.2C125.8 520.4 125.3 520.4 124.8 520.4C124.2 520.3 123.7 520.1 123.2 519.9C122.5 519.6 121.7 519.1 121 519.2C120.2 519.3 119.5 520.1 118.7 521C118.1 521.7 117.5 522.5 116.9 521.7C116.23 520.8 115.57 517.8 114.9 514.9C114.4 512.7 113.9 510.5 113.4 508.9C112.9 507.4 112.4 506.5 111.9 504.3C111.4 502.1 110.9 498.7 110.4 495.4C109.9 492.1 109.4 489 108.9 484.6C108.4 480.3 107.9 474.8 107.4 470.3C106.9 465.9 106.4 462.5 105.9 461.9C105.4 461.4 104.9 463.6 104.4 465.7C103.87 468 103.33 470.2 102.8 474.2C102.3 478.1 101.8 483.5 101.3 483.8C100.8 484.2 100.3 479.4 99.8 475.7C99.3 472 98.8 469.4 98.3 468.5C97.8 467.5 97.3 468.1 96.8 467.8C96.3 467.6 95.8 466.4 95.3 465.9C94.8 465.4 94.3 465.5 93.8 466.5C93.3 467.5 92.8 469.5 92.3 466.8C92.03 465.3 91.77 462.5 91.5 460C91.2 457.1 90.9 454.6 90.6 452.9C89.97 449.4 89.33 449.6 88.7 443.5C88.2 438.6 87.7 429.8 87.2 421.4C86.67 412.4 86.13 403.9 85.6 396C84.93 386.1 84.27 377.3 83.6 376.5C82.77 375.4 81.93 386.9 81.1 396.1C80.27 405.2 79.43 412.2 78.6 421.6C77.93 429.1 77.27 438.1 76.6 443.7C76.23 446.7 75.87 448.7 75.5 451.6C75 455.6 74.5 461.3 74 466.5C73.5 471.8 73 476.6 72.5 481.7C72 486.9 71.5 492.3 71 496.8C70.5 501.2 70 504.7 69.5 507.4C69 510.1 68.5 512 68 513.4C67.5 514.9 66.9 515.7 66.4 516.4C65.7 517.4 64.9 518.3 64.2 518.8C63.2 519.5 62.2 519.7 61.2 519.7C60.6 519.7 59.9 519.6 59.3 519.5C58.7 519.4 58 519.3 57.4 519.3C56.8 519.3 56.3 519.3 55.7 519.3C55.1 519.3 54.6 519.3 54 519.4C53.4 519.5 52.9 519.5 52.3 519.6C51.7 519.6 51.2 519.7 50.6 519.7C50 519.7 49.4 519.7 48.8 519.7C48.2 519.6 47.6 519.5 47 519.4C46.5 519.3 45.9 519.1 45.4 519C44.9 518.9 44.3 519 43.8 519.3C43.3 519.6 42.8 520.1 42.3 520.7Z" fill="#f8c0c8" fill-opacity="0.5"/>
<path d="M42.3 516.3C42.8 515.7 43.3 515.2 43.8 514.9C44.3 514.6 44.9 514.5 45.4 514.6C45.9 514.7 46.5 514.9 47 515C47.6 515.1 48.2 515.2 48.8 515.3C49.4 515.3 50 515.3 50.6 515.3C51.2 515.3 51.7 515.2 52.3 515.2C52.9 515.1 53.4 515.1 54 515C54.6 514.9 55.1 514.9 55.7 514.9C56.3 514.9 56.8 514.9 57.4 514.9C58 514.9 58.7 515 59.3 515.1C59.9 515.2 60.6 515.3 61.2 515.3C62.2 515.3 63.2 515.1 64.2 514.4C64.9 513.9 65.7 513 66.4 512C66.9 511.3 67.5 510.5 68 509C68.5 507.6 69 505.7 69.5 503C70 500.3 70.5 496.8 71 492.4C71.5 487.9 72 482.5 72.5 477.3C73 472.2 73.5 467.4 74 462.1C74.5 456.8 75 451.1 75.5 447.1C75.87 444.2 76.23 442.2 76.6 439.1C77.27 433.5 77.93 424.4 78.6 416.7C79.43 407.1 80.27 399.9 81.1 390C81.93 380.1 82.77 366.6 83.6 367.7C84.27 368.5 84.93 378.8 85.6 389.5C86.13 398.1 86.67 407 87.2 416.1C87.7 424.7 88.2 433.5 88.7 438.7C89.33 445.3 89.97 445.9 90.6 448.4C90.9 449.6 91.2 451.2 91.5 452.4C91.8 453.5 92 454.2 92.3 454.6C93 455.8 93.8 455.1 94.5 455.4C95.3 455.7 96 457.1 96.8 457.6C97.3 457.9 97.8 457.8 98.3 458.4C98.8 458.9 99.3 460.1 99.8 463.7C100.3 467.2 100.8 473.1 101.3 473.6C101.8 474.1 102.3 469.3 102.8 466.6C103.33 463.7 103.87 463.3 104.4 463.7C104.9 464.2 105.4 465.5 105.9 465.1C106.4 464.8 106.9 462.7 107.4 465.3C107.9 467.9 108.4 475.1 108.9 480.1C109.4 485 109.9 487.8 110.4 491C110.9 494.1 111.4 497.7 111.9 499.9C112.4 502.1 112.9 503 113.4 504.5C113.9 506.1 114.4 508.3 114.9 510.5C115.57 513.4 116.23 516.4 116.9 517.3C117.5 518.1 118.1 517.3 118.7 516.6C119.5 515.7 120.2 514.9 121 514.8C121.7 514.7 122.5 515.2 123.2 515.5C123.7 515.7 124.2 515.9 124.8 516C125.3 516 125.8 516 126.3 515.8C127.03 515.5 127.77 515 128.5 512C129 509.9 129.5 506.7 130 503C130.53 499.1 131.07 494.6 131.6 489.3C132.1 484.4 132.6 478.8 133.1 474.3C133.6 469.8 134.1 466.4 134.6 463.5C135.1 460.6 135.6 458.2 136.1 454.1C136.53 450.5 136.97 445.7 137.4 438.2C138.03 427.2 138.67 410.3 139.3 398.6C140.03 385 140.77 378.4 141.5 372.5C142.3 365.9 143.1 359.6 143.9 359.2C144.6 358.8 145.3 363.1 146 372C146.47 377.8 146.93 385.8 147.4 397.4C147.57 401.6 147.73 406.3 147.9 410.6C148.13 416.7 148.37 422.1 148.6 426.9C148.83 431.8 149.07 436 149.3 440C149.47 442.9 149.63 445.7 149.8 448C150.2 453.6 150.6 456.6 151 458.6C151.4 460.6 151.8 461.6 152.2 463.3C152.7 465.3 153.2 468.3 153.7 469.1C153.9 469.5 154.2 469.5 154.4 469.4C155.3 469.2 156.2 468.8 157.1 468.7C158.1 468.5 159.1 468.6 160.1 468.5C161 468.4 161.9 468.1 162.8 467.2C163.3 466.7 163.8 466.1 164.3 465.1C164.9 463.8 165.6 461.9 166.2 460.5C166.9 458.9 167.7 457.9 168.4 456.7C169 455.7 169.6 454.6 170.2 451.8C170.7 449.5 171.2 446.2 171.7 439.4C171.97 435.8 172.23 431.3 172.5 427.8C172.93 422.1 173.37 419.2 173.8 416.3C174.23 413.4 174.67 410.5 175.1 409.9C175.67 409.1 176.23 412.3 176.8 414.8C177.4 417.5 178 419.3 178.6 418.8C179.5 417.9 180.4 412.1 181.3 407.4C182.23 402.5 183.17 399.2 184.1 399.7C184.7 400 185.3 401.4 185.9 404.6C186.63 408.6 187.37 415.4 188.1 419.7C188.43 421.7 188.77 423.1 189.1 424.9C189.8 428.5 190.5 433.3 191.2 436.5C191.6 438.3 192 439.6 192.4 440C193 440.6 193.5 439.5 194.1 437.8C194.6 436.1 195.2 433.8 195.7 431.9C196.4 429.4 197.1 427.3 197.8 426C198.3 425 198.9 424.5 199.4 424.5C200 424.5 200.6 425.3 201.2 427.5C201.9 430 202.6 434.2 203.3 438.1C204 442.1 204.7 445.9 205.4 450C206.2 454.7 207 459.8 207.8 465.2C208.33 468.8 208.87 472.5 209.4 475.8C209.9 479 210.4 481.8 210.9 483.3C211.2 484.3 211.6 484.7 211.9 484C212.3 483.2 212.7 480.8 213.1 480.3C213.5 479.9 213.9 481.5 214.3 484.9C214.67 488 215.03 492.7 215.4 496.8C215.9 502.4 216.4 506.8 216.9 510C217.47 513.6 218.03 515.6 218.6 516.1C219.1 516.5 219.5 515.9 220 514.5C220.4 513.3 220.8 511.5 221.2 509.3C221.9 505.3 222.6 500.1 223.3 500.5C223.7 500.8 224.1 502.9 224.5 505C224.87 506.9 225.23 508.7 225.6 509.3C226.4 510.5 227.1 506.5 227.9 506.9C228.5 507.3 229.1 510.4 229.7 513C230.33 515.7 230.97 517.7 231.6 516.7C232.23 515.7 232.87 511.7 233.5 506C234 501.5 234.5 495.9 235 488.8C235.37 483.6 235.73 477.6 236.1 477.3C236.5 476.9 236.9 483.1 237.3 488.9C237.8 496.1 238.3 502.7 238.8 507.5C239.27 512 239.73 515.1 240.2 515.8C240.67 516.5 241.13 514.9 241.6 512.9C241.93 511.5 242.27 510 242.6 509.4C242.9 508.8 243.3 509.2 243.6 509.3C244.3 509.4 245 508.3 245.7 507.7C246.4 507.1 247 506.8 247.7 507.1C248.5 507.4 249.4 508.6 250.2 510.7C251 512.8 251.9 515.8 252.7 514.7C253.5 513.6 254.4 508.3 255.2 508.7C255.9 509.1 256.5 513.1 257.2 513.7C257.7 514.1 258.3 512.5 258.8 511C259.3 509.6 259.8 508.5 260.3 509.2C260.8 510 261.3 512.6 261.8 511.6C262.23 510.8 262.67 507.1 263.1 504.4C263.43 502.2 263.77 500.6 264.1 500.4C264.53 500.2 264.97 502.4 265.4 505.9C265.9 509.8 266.4 515.3 266.9 516.4C267.33 517.4 267.77 515.1 268.2 512C268.53 509.7 268.87 506.9 269.2 504.2C269.53 501.6 269.87 499 270.2 494.8C270.4 492.3 270.6 489.3 270.8 483.3C270.93 479.3 271.07 474.1 271.2 468C271.33 461.9 271.47 454.9 271.6 448.7C271.83 437.9 272.07 429.4 272.3 429.4C272.53 429.4 272.77 437.7 273 448.4C273.13 454.6 273.27 461.5 273.4 467.8C273.53 474.2 273.67 480 273.8 485.3C273.9 489.3 274 493 274.1 496.1C274.3 502.1 274.5 505.4 274.7 507.8C275.27 514.3 275.83 512.8 276.4 512.7C277.2 512.6 277.9 515 278.7 515.5C279.3 515.9 279.9 515.1 280.5 514.7C281 514.4 281.5 514.2 282 514C282.6 513.7 283.2 513.3 283.8 512.5C284.3 511.8 284.9 510.7 285.4 510.7C285.9 510.7 286.3 511.5 286.8 512.1C287.2 512.6 287.7 513 288.1 512.8C288.7 512.5 289.2 511 289.8 509.5C290.3 508.1 290.9 506.6 291.4 506.5C291.9 506.4 292.3 507.4 292.8 508.3C293.2 509 293.7 509.7 294.1 510.4C294.8 511.5 295.5 512.8 296.2 514C296.9 515.3 297.7 516.4 298.4 516.5C299 516.5 299.6 515.9 300.2 515.1C300.9 514.2 301.7 513.2 302.4 512C303 510.9 303.7 509.7 304.3 509.9C305 510.2 305.7 512.2 306.4 512.2C307.1 512.1 307.9 509.7 308.6 510.7C309.4 511.8 310.2 517 311 516C311.6 515.2 312.2 510.9 312.8 507.6C313.33 504.6 313.87 502.4 314.4 499.7C314.8 497.7 315.2 495.4 315.6 495.7C316.03 496 316.47 499.3 316.9 502.8C317.4 506.9 317.9 511.2 318.4 513.5C318.8 515.5 319.2 516.1 319.6 515.8C320.13 515.4 320.67 513.2 321.2 510.4C321.7 507.8 322.2 504.5 322.7 503.9C323.2 503.4 323.7 505.5 324.2 507.4C324.7 509.3 325.2 511.1 325.7 512C326.5 513.2 327.2 512.1 328 512.8C328.7 513.6 329.5 516.1 330.2 515.8C330.6 515.6 331.1 514.4 331.5 513.1C331.93 511.7 332.37 510.2 332.8 506.2C333.2 502.6 333.6 496.9 334 494.3C334.5 491.2 335 492.8 335.5 494.6C336.17 496.9 336.83 499.1 337.5 503C338.1 506.6 338.7 512.2 339.3 515C339.8 517.4 340.3 517.7 340.8 516.6C341.3 515.5 341.8 513.1 342.3 510.5C342.8 507.9 343.3 505.1 343.8 502.7C344.37 499.9 344.93 496.5 345.5 497C346.2 497.7 346.9 503.8 347.6 507.4C348.23 510.6 348.87 513.5 349.5 513C350.13 512.5 350.77 508.6 351.4 505.9C351.9 503.8 352.4 502.2 352.9 502.1C353.47 502 354.03 503.6 354.6 505.9C355.2 508.5 355.8 512.2 356.4 514.5C357 516.7 357.6 517.4 358.2 516.6C358.7 515.9 359.2 514.1 359.7 513.6C360.2 513.1 360.7 513.9 361.2 514.3C361.9 514.9 362.7 514.7 363.4 514.3C364.2 513.9 364.9 513.1 365.7 512C366.2 511.3 366.7 510.4 367.2 508.8C367.7 507.3 368.2 504.9 368.7 505.4C369.2 506 369.7 509.6 370.2 511.8C370.83 514.7 371.47 515.7 372.1 515.8C372.73 515.9 373.37 515 374 511.9C374.5 509.5 375 505.7 375.5 502.6C375.87 500.4 376.23 498.7 376.6 499.1C377 499.6 377.4 502.7 377.8 505.7C378.3 509.4 378.8 512.9 379.3 513.6C379.8 514.2 380.3 512 380.8 508.9C381.3 505.7 381.8 501.4 382.3 500.9C382.8 500.5 383.3 503.8 383.8 507.4C384.2 510.3 384.6 513.4 385 515C385.63 517.6 386.27 516.4 386.9 515.8C387.3 515.4 387.7 515.3 388.1 515.1L388.1 519.5C387.7 519.7 387.3 519.8 386.9 520.2C386.27 520.8 385.63 522 385 519.4C384.6 517.8 384.2 514.7 383.8 511.9C383.3 508.4 382.8 505.5 382.3 505.9C381.8 506.4 381.3 510.3 380.8 513.4C380.3 516.4 379.8 518.6 379.3 518C378.8 517.3 378.3 513.8 377.8 510.4C377.4 507.6 377 504.9 376.6 504.4C376.23 504 375.87 505.4 375.5 507.4C375 510.1 374.5 513.9 374 516.3C373.37 519.4 372.73 520.3 372.1 520.2C371.47 520.1 370.83 519 370.2 516.3C369.7 514.2 369.2 511 368.7 510.4C368.2 509.9 367.7 511.9 367.2 513.3C366.7 514.8 366.2 515.7 365.7 516.4C364.9 517.5 364.2 518.3 363.4 518.7C362.7 519.1 361.9 519.3 361.2 518.7C360.7 518.3 360.2 517.5 359.7 518C359.2 518.5 358.7 520.3 358.2 521C357.6 521.8 357 521.1 356.4 518.9C355.8 516.6 355.2 512.8 354.6 510.4C354 508.2 353.5 507.3 352.9 507.4C352.4 507.5 351.9 508.5 351.4 510.4C350.8 512.9 350.1 516.9 349.5 517.4C348.87 517.9 348.23 514.9 347.6 511.9C346.9 508.6 346.2 505.1 345.5 504.4C344.93 503.9 344.37 505.1 343.8 507.4C343.3 509.4 342.8 512.3 342.3 514.9C341.8 517.5 341.3 519.9 340.8 521C340.3 522.1 339.8 521.8 339.3 519.4C338.7 516.6 338.1 510.9 337.5 507.5C336.83 503.7 336.17 502.8 335.5 500.5C335 498.7 334.5 496.2 334 499C333.6 501.3 333.2 507 332.8 510.6C332.37 514.6 331.93 516.1 331.5 517.5C331.1 518.8 330.6 520 330.2 520.2C329.5 520.5 328.7 518 328 517.2C327.2 516.5 326.5 517.6 325.7 516.4C325.2 515.5 324.7 513.7 324.2 511.9C323.7 510.1 323.2 508.4 322.7 508.9C322.2 509.5 321.7 512.4 321.2 514.9C320.67 517.5 320.13 519.8 319.6 520.2C319.2 520.5 318.8 519.9 318.4 518C317.9 515.6 317.4 511.3 316.9 507.4C316.47 504 316.03 501 315.6 500.7C315.2 500.4 314.8 502.4 314.4 504.3C313.87 506.8 313.33 509 312.8 512C312.2 515.3 311.6 519.6 311 520.4C310.2 521.4 309.4 516.2 308.6 515.1C307.9 514.1 307.1 516.5 306.4 516.6C305.7 516.6 305 514.6 304.3 514.3C303.7 514.1 303 515.3 302.4 516.4C301.7 517.6 300.9 518.6 300.2 519.5C299.6 520.3 299 520.9 298.4 520.9C297.7 520.8 296.9 519.7 296.2 518.4C295.5 517.2 294.8 515.9 294.1 514.8C293.7 514.1 293.2 513.4 292.8 512.7C292.3 511.8 291.9 510.8 291.4 510.9C290.9 511 290.3 512.5 289.8 513.9C289.2 515.4 288.7 516.9 288.1 517.2C287.7 517.4 287.2 517 286.8 516.5C286.3 515.9 285.9 515.1 285.4 515.1C284.9 515.1 284.3 516.2 283.8 516.9C283.2 517.7 282.6 518.1 282 518.4C281.5 518.6 281 518.8 280.5 519.1C279.9 519.5 279.3 520.3 278.7 519.9C277.9 519.4 277.2 517 276.4 517.1C275.83 517.2 275.27 518.7 274.7 512.2C274.5 509.8 274.3 506.5 274.1 500.5C274 497.5 273.9 493.8 273.8 489.8C273.67 484.6 273.53 478.9 273.4 472.7C273.27 466.6 273.13 460 273 454.2C272.77 444.1 272.53 436.5 272.3 436.5C272.07 436.5 271.83 444.3 271.6 454.5C271.47 460.3 271.33 467 271.2 472.9C271.07 478.8 270.93 483.9 270.8 487.8C270.6 493.7 270.4 496.7 270.2 499.2C269.87 503.4 269.53 506 269.2 508.6C268.87 511.3 268.53 514.1 268.2 516.4C267.77 519.5 267.33 521.8 266.9 520.8C266.4 519.7 265.9 514.2 265.4 510.5C264.97 507.2 264.53 505.2 264.1 505.4C263.77 505.6 263.43 507 263.1 509C262.67 511.6 262.23 515.2 261.8 516C261.3 517 260.8 514.4 260.3 513.6C259.8 512.9 259.3 514 258.8 515.4C258.3 516.9 257.7 518.5 257.2 518.1C256.5 517.5 255.9 513.5 255.2 513.1C254.4 512.7 253.5 518 252.7 519.1C251.9 520.2 251 517.2 250.2 515.1C249.4 513 248.5 511.8 247.7 511.6C247 511.4 246.4 511.9 245.7 512.6C245 513.4 244.3 514.4 243.6 514.1C243.3 513.9 242.9 513.4 242.6 513.9C242.27 514.5 241.93 516 241.6 517.4C241.13 519.3 240.67 520.9 240.2 520.2C239.73 519.5 239.27 516.4 238.8 511.9C238.3 507.1 237.8 500.6 237.3 493.6C236.9 488 236.5 482.2 236.1 482.6C235.73 482.9 235.37 488.6 235 493.5C234.5 500.3 234 505.9 233.5 510.4C232.87 516.1 232.23 520.1 231.6 521.1C230.97 522.1 230.33 520.1 229.7 517.4C229.1 514.8 228.5 511.7 227.9 511.3C227.1 510.9 226.4 514.9 225.6 513.7C225.23 513.1 224.87 511.3 224.5 509.4C224.1 507.3 223.7 505.2 223.3 504.9C222.6 504.5 221.9 509.7 221.2 513.7C220.8 515.9 220.4 517.7 220 518.9C219.5 520.3 219.1 520.9 218.6 520.5C218.03 520 217.47 518 216.9 514.4C216.4 511.2 215.9 506.8 215.4 501.2C215.03 497.1 214.67 492.4 214.3 489.3C213.9 485.9 213.5 484.3 213.1 484.7C212.7 485.2 212.3 487.6 211.9 488.4C211.6 489.1 211.2 488.7 210.9 487.7C210.4 486.2 209.9 483.4 209.4 480.2C208.87 476.9 208.33 473.2 207.8 469.6C207 464.2 206.2 459.1 205.4 454.4C204.7 450.3 204 446.5 203.3 442.6C202.6 438.7 201.9 434.7 201.2 432.4C200.6 430.5 200 429.9 199.4 429.8C198.9 429.7 198.3 430.1 197.8 430.9C197.1 432 196.4 433.8 195.7 436.3C195.2 438.2 194.6 440.6 194.1 442.2C193.5 443.9 193 445 192.4 444.4C192 444 191.6 442.7 191.2 440.9C190.5 437.7 189.8 432.9 189.1 429.3C188.77 427.5 188.43 426.1 188.1 424.1C187.37 419.8 186.63 412.9 185.9 409.1C185.3 406 184.7 405 184.1 405C183.17 405 182.23 407.7 181.3 412.1C180.4 416.4 179.5 422.3 178.6 423.2C178 423.8 177.4 422.1 176.8 419.7C176.23 417.4 175.67 414.4 175.1 415.1C174.67 415.7 174.23 418.3 173.8 421.1C173.37 423.8 172.93 426.6 172.5 432.2C172.23 435.7 171.97 440.2 171.7 443.8C171.2 450.6 170.7 453.9 170.2 456.2C169.6 459 169 460.1 168.4 461.1C167.7 462.3 166.9 463.3 166.2 464.9C165.6 466.3 164.9 468.2 164.3 469.5C163.8 470.5 163.3 471.1 162.8 471.6C161.9 472.5 161 472.8 160.1 472.9C159.1 473 158.1 472.9 157.1 473.1C156.2 473.2 155.3 473.6 154.4 473.8C154.2 473.9 153.9 473.9 153.7 473.5C153.2 472.7 152.7 469.7 152.2 467.7C151.8 466 151.4 465 151 463C150.6 461 150.2 458 149.8 452.4C149.63 450.1 149.47 447.3 149.3 444.4C149.07 440.4 148.83 436.2 148.6 431.3C148.37 426.5 148.13 421.1 147.9 415C147.73 410.7 147.57 406 147.4 401.9C146.93 390.2 146.47 382.4 146 376.8C145.3 368.4 144.6 365.1 143.9 365.4C143.1 365.7 142.3 370.8 141.5 377.1C140.77 382.8 140.03 389.4 139.3 403C138.67 414.7 138.03 431.6 137.4 442.6C136.97 450.1 136.53 454.9 136.1 458.5C135.6 462.6 135.1 465 134.6 467.9C134.1 470.8 133.6 474.2 133.1 478.7C132.6 483.2 132.1 488.8 131.6 493.7C131.07 499 130.53 503.5 130 507.4C129.5 511.1 129 514.3 128.5 516.4C127.77 519.4 127.03 519.9 126.3 520.2C125.8 520.4 125.3 520.4 124.8 520.4C124.2 520.3 123.7 520.1 123.2 519.9C122.5 519.6 121.7 519.1 121 519.2C120.2 519.3 119.5 520.1 118.7 521C118.1 521.7 117.5 522.5 116.9 521.7C116.23 520.8 115.57 517.8 114.9 514.9C114.4 512.7 113.9 510.5 113.4 508.9C112.9 507.4 112.4 506.5 111.9 504.3C111.4 502.1 110.9 498.5 110.4 495.4C109.9 492.2 109.4 489.4 108.9 484.5C108.4 479.6 107.9 472.6 107.4 470.4C106.9 468.1 106.4 470.7 105.9 471C105.4 471.4 104.9 469.6 104.4 468.8C103.87 468 103.33 468.3 102.8 471.3C102.3 474 101.8 479.1 101.3 478.6C100.8 478.1 100.3 472 99.8 468.3C99.3 464.6 98.8 463.4 98.3 462.8C97.8 462.2 97.3 462.3 96.8 462C96 461.5 95.3 460.1 94.5 459.8C93.8 459.5 93 460.2 92.3 459C92 458.6 91.8 457.9 91.5 456.8C91.2 455.6 90.9 454 90.6 452.8C89.97 450.3 89.33 449.6 88.7 443.1C88.2 437.9 87.7 429.1 87.2 420.5C86.67 411.4 86.13 402.6 85.6 394.5C84.93 384.4 84.27 375.3 83.6 374.5C82.77 373.4 81.93 385.2 81.1 394.7C80.27 404.2 79.43 411.5 78.6 421.1C77.93 428.8 77.27 437.9 76.6 443.5C76.23 446.6 75.87 448.6 75.5 451.5C75 455.5 74.5 461.2 74 466.5C73.5 471.8 73 476.6 72.5 481.7C72 486.9 71.5 492.3 71 496.8C70.5 501.2 70 504.7 69.5 507.4C69 510.1 68.5 512 68 513.4C67.5 514.9 66.9 515.7 66.4 516.4C65.7 517.4 64.9 518.3 64.2 518.8C63.2 519.5 62.2 519.7 61.2 519.7C60.6 519.7 59.9 519.6 59.3 519.5C58.7 519.4 58 519.3 57.4 519.3C56.8 519.3 56.3 519.3 55.7 519.3C55.1 519.3 54.6 519.3 54 519.4C53.4 519.5 52.9 519.5 52.3 519.6C51.7 519.6 51.2 519.7 50.6 519.7C50 519.7 49.4 519.7 48.8 519.7C48.2 519.6 47.6 519.5 47 519.4C46.5 519.3 45.9 519.1 45.4 519C44.9 518.9 44.3 519 43.8 519.3C43.3 519.6 42.8 520.1 42.3 520.7Z" fill="#ccc8f8" fill-opacity="0.55"/>
<path d="M42.3 518.5C42.8 517.9 43.3 517.4 43.8 517.1C44.9 516.5 45.9 516.9 47 517.2C48.2 517.5 49.4 517.6 50.6 517.5C51.7 517.5 52.9 517.3 54 517.2C55.1 517.1 56.3 517 57.4 517.1C58.7 517.2 59.9 517.5 61.2 517.5C62.2 517.5 63.2 517.3 64.2 516.6C64.9 516.1 65.7 515.2 66.4 514.2C66.9 513.5 67.5 512.7 68 511.2C68.5 509.8 69 507.9 69.5 505.2C70 502.5 70.5 499 71 494.6C71.5 490.1 72 484.7 72.5 479.5C73 474.4 73.5 469.6 74 464.3C74.5 459.1 75 453.4 75.5 449.4C75.87 446.5 76.23 444.6 76.6 441.6C77.27 436.1 77.93 427.1 78.6 419.8C79.43 410.5 80.27 403.8 81.1 394.8C81.93 385.9 82.77 374.7 83.6 375.7C84.27 376.6 84.93 385.2 85.6 394.9C86.13 402.6 86.67 410.9 87.2 419.8C87.7 428.1 88.2 436.7 88.7 441.5C89.33 447.6 89.97 447.4 90.6 450.8C90.9 452.4 91.2 454.8 91.5 457.9C91.77 460.7 92.03 464 92.3 465.9C92.8 469.3 93.3 467.6 93.8 466.6C94.3 465.7 94.8 465.4 95.3 465.9C95.8 466.4 96.3 467.7 96.8 468C97.3 468.3 97.8 467.7 98.3 468.1C98.8 468.6 99.3 470.2 99.8 473.5C100.3 476.8 100.8 481.8 101.3 481.6C101.8 481.4 102.3 476 102.8 472C103.33 467.8 103.87 465.4 104.4 463.6C104.9 461.9 105.4 460.7 105.9 461.3C106.4 461.9 106.9 464.1 107.4 468.2C107.9 472.2 108.4 478 108.9 482.4C109.4 486.8 109.9 489.9 110.4 493.2C110.9 496.4 111.4 499.9 111.9 502.1C112.4 504.3 112.9 505.2 113.4 506.7C113.9 508.3 114.4 510.5 114.9 512.7C115.57 515.6 116.23 518.6 116.9 519.5C117.5 520.3 118.1 519.5 118.7 518.8C119.5 517.9 120.2 517.1 121 517C121.7 516.9 122.5 517.4 123.2 517.7C124.2 518.2 125.3 518.4 126.3 518C127.03 517.7 127.77 517.2 128.5 514.2C129 512.1 129.5 508.9 130 505.2C130.53 501.3 131.07 496.8 131.6 491.6C132.1 486.6 132.6 481 133.1 476.5C133.6 472.1 134.1 468.8 134.6 465.9C135.1 463.1 135.6 460.7 136.1 456.8C136.53 453.4 136.97 448.8 137.4 441.6C138.03 431 138.67 415 139.3 404.1C140.03 391.6 140.77 386.1 141.5 381.4C142.3 376.2 143.1 371.8 143.9 371.5C144.6 371.2 145.3 374 146 381.4C146.47 386.3 146.93 393.3 147.4 404.1C147.57 408 147.73 412.3 147.9 416.3C148.13 422 148.37 427.1 148.6 431.6C148.83 436.2 149.07 440.1 149.3 443.9C149.47 446.6 149.63 449.3 149.8 451.5C150.2 456.8 150.6 459.6 151 461.5C151.4 463.4 151.8 464.4 152.2 465.8C152.7 467.4 153.2 469.6 153.7 471.6C154.07 473.1 154.43 474.5 154.8 475.2C155.6 476.5 156.3 474.6 157.1 473.5C158.1 472.2 159.1 472.4 160.1 472.6C160.9 472.8 161.8 473 162.6 471.6C163.2 470.6 163.7 468.9 164.3 467.3C164.9 465.5 165.6 464 166.2 462.7C166.9 461.2 167.7 460.1 168.4 458.9C169 457.9 169.6 456.8 170.2 454C170.7 451.7 171.2 448.2 171.7 441.8C171.97 438.4 172.23 434.1 172.5 429.7C172.93 422.6 173.37 415.3 173.8 410C174.33 403.4 174.87 399.8 175.4 399.3C175.87 398.9 176.33 400.8 176.8 403.1C177.4 406 178 409.3 178.6 410.4C179.5 412 180.4 408.3 181.3 403.1C181.93 399.4 182.57 394.9 183.2 394.2C183.83 393.6 184.47 396.8 185.1 400.9C185.6 404.1 186.1 407.8 186.6 411.9C187.37 418.3 188.13 425.7 188.9 431.1C189.67 436.5 190.43 439.9 191.2 441.7C191.6 442.7 192 443.2 192.4 443C193 442.7 193.6 440.9 194.2 438.7C195 435.8 195.8 432.3 196.6 429.7C197.2 427.7 197.9 426.2 198.5 425.2C199.1 424.3 199.7 423.7 200.3 424.2C201 424.7 201.6 426.4 202.3 428.2C203.2 430.6 204.1 433.1 205 440.4C205.47 444.2 205.93 449.3 206.4 454.2C206.87 459 207.33 463.6 207.8 467.4C208.33 471.7 208.87 474.9 209.4 478C209.9 481 210.4 484 210.9 485.5C211.2 486.5 211.6 486.9 211.9 486.2C212.3 485.4 212.7 483 213.1 482.5C213.5 482.1 213.9 483.7 214.3 487.1C214.67 490.2 215.03 494.9 215.4 499C215.9 504.6 216.4 509 216.9 512.2C217.47 515.8 218.03 517.8 218.6 518.3C219.1 518.7 219.5 518.1 220 516.7C220.4 515.5 220.8 513.7 221.2 511.5C221.9 507.5 222.6 502.3 223.3 502.7C223.7 503 224.1 505.1 224.5 507.2C224.87 509.1 225.23 510.9 225.6 511.5C226.4 512.7 227.1 508.7 227.9 509.1C228.5 509.5 229.1 512.6 229.7 515.2C230.33 517.9 230.97 519.9 231.6 518.9C232.23 517.9 232.87 513.9 233.5 508.2C234 503.7 234.5 498.1 235 491.3C235.37 486.4 235.73 480.7 236.1 480.4C236.5 480 236.9 485.8 237.3 491.4C237.8 498.4 238.3 504.9 238.8 509.7C239.27 514.2 239.73 517.3 240.2 518C240.7 518.7 241.1 517.1 241.6 515.3C242.13 513.1 242.67 510.7 243.2 507.6C243.7 504.8 244.2 501.3 244.7 499.8C245.7 496.9 246.7 501.8 247.7 504.8C248.5 507.2 249.4 508.3 250.2 510.9C251 513.5 251.9 517.6 252.7 516.9C253.5 516.1 254.4 510.6 255.2 510.9C255.9 511.2 256.5 515.3 257.2 515.9C257.7 516.4 258.3 514.7 258.8 513.2C259.3 511.8 259.8 510.7 260.3 511.4C260.8 512.2 261.3 514.8 261.8 513.8C262.23 513 262.67 509.4 263.1 506.8C263.43 504.8 263.77 503.4 264.1 503.2C264.53 503 264.97 505 265.4 508.3C265.9 512 266.4 517.5 266.9 518.6C267.33 519.6 267.77 517.3 268.2 514.2C268.53 511.9 268.87 509.1 269.2 506.4C269.53 503.7 269.87 501.2 270.2 497C270.4 494.5 270.6 491.5 270.8 485.7C270.93 481.8 271.07 476.7 271.2 470.7C271.33 464.8 271.47 458 271.6 451.9C271.83 441.2 272.07 432.5 272.3 432.5C272.53 432.4 272.77 441 273 451.6C273.13 457.7 273.27 464.4 273.4 470.6C273.53 476.8 273.67 482.4 273.8 487.7C273.9 491.6 274 495.3 274.1 498.3C274.3 504.3 274.5 507.6 274.7 510C275.27 516.5 275.83 515 276.4 514.9C277.2 514.8 277.9 517.2 278.7 517.7C279.3 518.1 279.9 517.3 280.5 516.9C281 516.6 281.5 516.4 282 516.2C282.6 515.9 283.2 515.5 283.8 514.7C284.3 514 284.9 512.9 285.4 512.9C285.9 512.9 286.3 513.7 286.8 514.3C287.2 514.8 287.7 515.2 288.1 515C288.7 514.7 289.2 513.2 289.8 511.7C290.3 510.3 290.9 508.8 291.4 508.7C291.9 508.6 292.3 509.6 292.8 510.5C293.2 511.2 293.7 511.9 294.1 512.6C294.8 513.7 295.5 515 296.2 516.2C296.9 517.5 297.7 518.6 298.4 518.7C299 518.7 299.6 518.1 300.2 517.3C300.9 516.4 301.7 515.4 302.4 514.2C303 513.1 303.7 511.9 304.3 512.1C305 512.4 305.7 514.4 306.4 514.4C307.1 514.3 307.9 511.9 308.6 512.9C309.4 514 310.2 519.2 311 518.2C311.6 517.4 312.2 513.1 312.8 509.8C313.33 506.8 313.87 504.6 314.4 502.1C314.8 500.2 315.2 498.2 315.6 498.5C316.03 498.8 316.47 501.8 316.9 505.2C317.4 509.1 317.9 513.4 318.4 515.8C318.8 517.7 319.2 518.3 319.6 518C320.13 517.6 320.67 515.3 321.2 512.7C321.7 510.2 322.2 507.3 322.7 506.7C323.2 506.2 323.7 507.9 324.2 509.7C324.7 511.5 325.2 513.3 325.7 514.2C326.5 515.4 327.2 514.3 328 515C328.7 515.8 329.5 518.3 330.2 518C330.6 517.8 331.1 516.7 331.5 515.2C331.93 513.8 332.37 512 332.8 508.6C333.2 505.5 333.6 501.1 334 496.6C334.5 491 335 485.2 335.5 485.6C336.17 486.1 336.83 497.6 337.5 505.1C338.1 511.8 338.7 515.3 339.3 517.3C339.8 519.1 340.3 519.8 340.8 518.8C341.3 517.7 341.8 514.9 342.3 512.8C342.8 510.7 343.3 509.3 343.8 505C344.37 500.1 344.93 491.6 345.5 491.3C346.2 490.9 346.9 503.2 347.6 509.6C348.23 515.3 348.87 516.3 349.5 515.2C350.13 514.1 350.77 511 351.4 508.2C351.9 506 352.4 503.9 352.9 503.7C353.47 503.5 354.03 505.5 354.6 508.2C355.2 511 355.8 514.5 356.4 516.7C357 518.8 357.6 519.6 358.2 518.8C358.7 518.1 359.2 516.3 359.7 515.8C360.2 515.3 360.7 516.1 361.2 516.5C361.9 517.1 362.7 516.9 363.4 516.5C364.2 516.1 364.9 515.3 365.7 514.2C366.2 513.5 366.7 512.6 367.2 511.1C367.7 509.7 368.2 507.7 368.7 508.2C369.2 508.8 369.7 512 370.2 514.1C370.83 516.8 371.47 517.9 372.1 518C372.73 518.1 373.37 517.2 374 514.1C374.5 511.7 375 507.9 375.5 505.2C375.87 503.2 376.23 501.8 376.6 502.2C377 502.7 377.4 505.4 377.8 508.2C378.3 511.6 378.8 515.1 379.3 515.8C379.8 516.4 380.3 514.2 380.8 511.2C381.3 508.1 381.8 504.2 382.3 503.7C382.8 503.3 383.3 506.2 383.8 509.7C384.2 512.5 384.6 515.6 385 517.2C385.63 519.8 386.27 518.6 386.9 518C387.3 517.6 387.7 517.5 388.1 517.3" class="ln" stroke="#000"/>
<path d="M42.3 518.5C42.8 517.9 43.3 517.4 43.8 517.1C44.9 516.5 45.9 516.9 47 517.2C48.2 517.5 49.4 517.6 50.6 517.5C51.7 517.5 52.9 517.3 54 517.2C55.1 517.1 56.3 517 57.4 517.1C58.7 517.2 59.9 517.5 61.2 517.5C62.2 517.5 63.2 517.3 64.2 516.6C64.9 516.1 65.7 515.2 66.4 514.2C66.9 513.5 67.5 512.7 68 511.2C68.5 509.8 69 507.9 69.5 505.2C70 502.5 70.5 499 71 494.6C71.5 490.1 72 484.7 72.5 479.5C73 474.4 73.5 469.6 74 464.3C74.5 459.1 75 453.4 75.5 449.4C75.87 446.5 76.23 444.5 76.6 441.5C77.27 435.9 77.93 426.9 78.6 419.4C79.43 410 80.27 403 81.1 393.9C81.93 384.7 82.77 373.2 83.6 374.3C84.27 375.1 84.93 383.9 85.6 393.8C86.13 401.7 86.67 410.2 87.2 419.2C87.7 427.6 88.2 436.4 88.7 441.3C89.33 447.4 89.97 447.2 90.6 450.7C90.9 452.4 91.2 454.9 91.5 457.8C91.77 460.3 92.03 463.1 92.3 464.6C92.8 467.3 93.3 465.3 93.8 464.3C94.3 463.3 94.8 463.2 95.3 463.7C95.8 464.2 96.3 465.4 96.8 465.6C97.3 465.9 97.8 465.3 98.3 466.3C98.8 467.2 99.3 469.8 99.8 473.5C100.3 477.2 100.8 482 101.3 481.6C101.8 481.3 102.3 475.9 102.8 472C103.33 468 103.87 465.8 104.4 463.5C104.9 461.4 105.4 459.2 105.9 459.7C106.4 460.3 106.9 463.7 107.4 468.1C107.9 472.6 108.4 478.1 108.9 482.4C109.4 486.8 109.9 489.9 110.4 493.2C110.9 496.5 111.4 499.9 111.9 502.1C112.4 504.3 112.9 505.2 113.4 506.7C113.9 508.3 114.4 510.5 114.9 512.7C115.57 515.6 116.23 518.6 116.9 519.5C117.5 520.3 118.1 519.5 118.7 518.8C119.5 517.9 120.2 517.1 121 517C121.7 516.9 122.5 517.4 123.2 517.7C124.2 518.2 125.3 518.4 126.3 518C127.03 517.7 127.77 517.2 128.5 514.2C129 512.1 129.5 508.9 130 505.2C130.53 501.3 131.07 496.8 131.6 491.6C132.1 486.6 132.6 481 133.1 476.5C133.6 472.1 134.1 468.7 134.6 465.9C135.1 463 135.6 460.7 136.1 456.7C136.53 453.3 136.97 448.6 137.4 441.4C138.03 430.8 138.67 414.6 139.3 403.6C140.03 390.9 140.77 385.2 141.5 380.3C142.3 375 143.1 370.5 143.9 370.2C144.6 369.9 145.3 372.7 146 380.3C146.47 385.3 146.93 392.5 147.4 403.4C147.57 407.3 147.73 411.7 147.9 415.8C148.13 421.5 148.37 426.6 148.6 431.2C148.83 435.8 149.07 439.8 149.3 443.7C149.47 446.4 149.63 449.1 149.8 451.3C150.2 456.6 150.6 459.5 151 461.4C151.4 463.3 151.8 464.4 152.2 465.7C152.7 467.4 153.2 469.6 153.7 471.6C154.07 473.1 154.43 474.5 154.8 475.2C155.6 476.5 156.3 474.6 157.1 473.5C158.1 472.2 159.1 472.4 160.1 472.6C160.9 472.8 161.8 473 162.6 471.6C163.2 470.6 163.7 468.9 164.3 467.3C164.9 465.5 165.6 464 166.2 462.7C166.9 461.2 167.7 460.1 168.4 458.9C169 457.9 169.6 456.8 170.2 454C170.7 451.7 171.2 448.2 171.7 441.8C171.97 438.4 172.23 434.1 172.5 429.7C172.93 422.6 173.37 415.3 173.8 410C174.33 403.4 174.87 399.8 175.4 399.3C175.87 398.9 176.33 400.9 176.8 403.1C177.4 405.9 178 409.2 178.6 410.4C179.5 412.2 180.4 409.2 181.3 403C181.93 398.7 182.57 392.8 183.2 392.2C183.83 391.6 184.47 396.3 185.1 400.8C185.6 404.4 186.1 407.9 186.6 411.9C187.37 418.1 188.13 425.6 188.9 431.1C189.67 436.5 190.43 439.9 191.2 441.7C191.6 442.7 192 443.2 192.4 443C193 442.7 193.6 440.9 194.2 438.7C195 435.8 195.8 432.2 196.6 429.7C197.2 427.8 197.9 426.6 198.5 425.2C199.1 423.8 199.7 422.3 200.3 422.7C201 423.1 201.6 425.9 202.3 428.2C203.2 431.2 204.1 433.2 205 440.5C205.47 444.2 205.93 449.3 206.4 454.2C206.87 459 207.33 463.6 207.8 467.4C208.33 471.7 208.87 474.9 209.4 478C209.9 481 210.4 484 210.9 485.5C211.2 486.5 211.6 486.9 211.9 486.2C212.3 485.4 212.7 483 213.1 482.5C213.5 482.1 213.9 483.7 214.3 487.1C214.67 490.2 215.03 494.9 215.4 499C215.9 504.6 216.4 509 216.9 512.2C217.47 515.8 218.03 517.8 218.6 518.3C219.1 518.7 219.5 518.1 220 516.7C220.4 515.5 220.8 513.7 221.2 511.5C221.9 507.5 222.6 502.3 223.3 502.7C223.7 503 224.1 505.1 224.5 507.2C224.87 509.1 225.23 510.9 225.6 511.5C226.4 512.7 227.1 508.7 227.9 509.1C228.5 509.5 229.1 512.6 229.7 515.2C230.33 517.9 230.97 519.9 231.6 518.9C232.23 517.9 232.87 513.9 233.5 508.2C234 503.7 234.5 498.1 235 491.3C235.37 486.4 235.73 480.7 236.1 480.4C236.5 480 236.9 485.8 237.3 491.4C237.8 498.4 238.3 504.9 238.8 509.7C239.27 514.2 239.73 517.3 240.2 518C240.7 518.7 241.1 517.1 241.6 515.3C242.13 513.1 242.67 510.7 243.2 507.6C243.7 504.8 244.2 501.3 244.7 499.8C245.7 496.9 246.7 501.8 247.7 504.8C248.5 507.2 249.4 508.3 250.2 510.9C251 513.5 251.9 517.6 252.7 516.9C253.5 516.1 254.4 510.6 255.2 510.9C255.9 511.2 256.5 515.3 257.2 515.9C257.7 516.4 258.3 514.7 258.8 513.2C259.3 511.8 259.8 510.7 260.3 511.4C260.8 512.2 261.3 514.8 261.8 513.8C262.23 513 262.67 509.4 263.1 506.8C263.43 504.8 263.77 503.4 264.1 503.2C264.53 503 264.97 505 265.4 508.3C265.9 512 266.4 517.5 266.9 518.6C267.33 519.6 267.77 517.3 268.2 514.2C268.53 511.9 268.87 509.1 269.2 506.4C269.53 503.7 269.87 501.2 270.2 497C270.4 494.5 270.6 491.5 270.8 485.7C270.93 481.8 271.07 476.6 271.2 470.7C271.33 464.8 271.47 458 271.6 452C271.83 441.4 272.07 433 272.3 432.9C272.53 432.9 272.77 441.2 273 451.7C273.13 457.7 273.27 464.4 273.4 470.6C273.53 476.7 273.67 482.4 273.8 487.7C273.9 491.6 274 495.3 274.1 498.3C274.3 504.3 274.5 507.6 274.7 510C275.27 516.5 275.83 515 276.4 514.9C277.2 514.8 277.9 517.2 278.7 517.7C279.3 518.1 279.9 517.3 280.5 516.9C281 516.6 281.5 516.4 282 516.2C282.6 515.9 283.2 515.5 283.8 514.7C284.3 514 284.9 512.9 285.4 512.9C285.9 512.9 286.3 513.7 286.8 514.3C287.2 514.8 287.7 515.2 288.1 515C288.7 514.7 289.2 513.2 289.8 511.7C290.3 510.3 290.9 508.8 291.4 508.7C291.9 508.6 292.3 509.6 292.8 510.5C293.2 511.2 293.7 511.9 294.1 512.6C294.8 513.7 295.5 515 296.2 516.2C296.9 517.5 297.7 518.6 298.4 518.7C299 518.7 299.6 518.1 300.2 517.3C300.9 516.4 301.7 515.4 302.4 514.2C303 513.1 303.7 511.9 304.3 512.1C305 512.4 305.7 514.4 306.4 514.4C307.1 514.3 307.9 511.9 308.6 512.9C309.4 514 310.2 519.2 311 518.2C311.6 517.4 312.2 513.1 312.8 509.8C313.33 506.8 313.87 504.6 314.4 502.1C314.8 500.2 315.2 498.2 315.6 498.5C316.03 498.8 316.47 501.8 316.9 505.2C317.4 509.1 317.9 513.4 318.4 515.8C318.8 517.7 319.2 518.3 319.6 518C320.13 517.6 320.67 515.3 321.2 512.7C321.7 510.2 322.2 507.3 322.7 506.7C323.2 506.2 323.7 507.9 324.2 509.7C324.7 511.5 325.2 513.3 325.7 514.2C326.5 515.4 327.2 514.3 328 515C328.7 515.8 329.5 518.3 330.2 518C330.6 517.8 331.1 516.7 331.5 515.2C331.93 513.8 332.37 511.9 332.8 508.6C333.2 505.6 333.6 501.3 334 496.6C334.5 490.8 335 484.5 335.5 484.8C336.17 485.2 336.83 497.3 337.5 505.1C338.1 512 338.7 515.3 339.3 517.3C339.8 519 340.3 519.8 340.8 518.8C341.3 517.7 341.8 514.9 342.3 512.8C342.8 510.8 343.3 509.6 343.8 505C344.37 499.8 344.93 490.2 345.5 489.8C346.2 489.3 346.9 502.7 347.6 509.5C348.23 515.7 348.87 516.4 349.5 515.2C350.13 514 350.77 511 351.4 508.2C351.9 506 352.4 503.9 352.9 503.7C353.47 503.5 354.03 505.5 354.6 508.2C355.2 511 355.8 514.5 356.4 516.7C357 518.8 357.6 519.6 358.2 518.8C358.7 518.1 359.2 516.3 359.7 515.8C360.2 515.3 360.7 516.1 361.2 516.5C361.9 517.1 362.7 516.9 363.4 516.5C364.2 516.1 364.9 515.3 365.7 514.2C366.2 513.5 366.7 512.6 367.2 511.1C367.7 509.7 368.2 507.7 368.7 508.2C369.2 508.8 369.7 512 370.2 514.1C370.83 516.8 371.47 517.9 372.1 518C372.73 518.1 373.37 517.2 374 514.1C374.5 511.7 375 507.9 375.5 505.2C375.87 503.2 376.23 501.8 376.6 502.2C377 502.7 377.4 505.4 377.8 508.2C378.3 511.6 378.8 515.1 379.3 515.8C379.8 516.4 380.3 514.2 380.8 511.2C381.3 508.1 381.8 504.2 382.3 503.7C382.8 503.3 383.3 506.2 383.8 509.7C384.2 512.5 384.6 515.6 385 517.2C385.63 519.8 386.27 518.6 386.9 518C387.3 517.6 387.7 517.5 388.1 517.3" class="ln" stroke="#e42030" stroke-opacity="0.85"/>
<path d="M42.3 518.5C42.8 517.9 43.3 517.4 43.8 517.1C44.9 516.5 45.9 516.9 47 517.2C48.2 517.5 49.4 517.6 50.6 517.5C51.7 517.5 52.9 517.3 54 517.2C55.1 517.1 56.3 517 57.4 517.1C58.7 517.2 59.9 517.5 61.2 517.5C62.2 517.5 63.2 517.3 64.2 516.6C64.9 516.1 65.7 515.2 66.4 514.2C66.9 513.5 67.5 512.7 68 511.2C68.5 509.8 69 507.9 69.5 505.2C70 502.5 70.5 499 71 494.6C71.5 490.1 72 484.7 72.5 479.5C73 474.4 73.5 469.6 74 464.3C74.5 459 75 453.3 75.5 449.3C75.87 446.4 76.23 444.4 76.6 441.3C77.27 435.7 77.93 426.6 78.6 418.9C79.43 409.3 80.27 402 81.1 392.5C81.93 383 82.77 371.2 83.6 372.3C84.27 373.1 84.93 382.2 85.6 392.3C86.13 400.4 86.67 409.2 87.2 418.3C87.7 426.9 88.2 435.7 88.7 440.9C89.33 447.4 89.97 448.1 90.6 450.6C90.9 451.8 91.2 453.4 91.5 454.6C91.8 455.7 92 456.4 92.3 456.8C93 458 93.8 457.3 94.5 457.6C95.3 457.9 96 459.3 96.8 459.8C97.3 460.1 97.8 460 98.3 460.6C98.8 461.2 99.3 462.4 99.8 466.1C100.3 469.8 100.8 475.9 101.3 476.4C101.8 476.9 102.3 471.8 102.8 469.1C103.33 466.1 103.87 465.8 104.4 466.6C104.9 467.4 105.4 469.2 105.9 468.8C106.4 468.5 106.9 465.9 107.4 468.2C107.9 470.4 108.4 477.4 108.9 482.3C109.4 487.2 109.9 490 110.4 493.2C110.9 496.3 111.4 499.9 111.9 502.1C112.4 504.3 112.9 505.2 113.4 506.7C113.9 508.3 114.4 510.5 114.9 512.7C115.57 515.6 116.23 518.6 116.9 519.5C117.5 520.3 118.1 519.5 118.7 518.8C119.5 517.9 120.2 517.1 121 517C121.7 516.9 122.5 517.4 123.2 517.7C124.2 518.2 125.3 518.4 126.3 518C127.03 517.7 127.77 517.2 128.5 514.2C129 512.1 129.5 508.9 130 505.2C130.53 501.3 131.07 496.8 131.6 491.5C132.1 486.6 132.6 481 133.1 476.5C133.6 472 134.1 468.6 134.6 465.7C135.1 462.8 135.6 460.4 136.1 456.3C136.53 452.7 136.97 447.9 137.4 440.4C138.03 429.4 138.67 412.5 139.3 400.8C140.03 387.2 140.77 380.6 141.5 374.9C142.3 368.6 143.1 363.5 143.9 363.2C144.6 362.9 145.3 366.2 146 374.6C146.47 380.2 146.93 388 147.4 399.7C147.57 403.8 147.73 408.5 147.9 412.8C148.13 418.9 148.37 424.3 148.6 429.1C148.83 434 149.07 438.2 149.3 442.2C149.47 445.1 149.63 447.9 149.8 450.2C150.2 455.8 150.6 458.8 151 460.8C151.4 462.8 151.8 463.8 152.2 465.5C152.7 467.5 153.2 470.5 153.7 471.3C153.9 471.7 154.2 471.7 154.4 471.6C155.3 471.4 156.2 471 157.1 470.9C158.1 470.7 159.1 470.8 160.1 470.7C161 470.6 161.9 470.3 162.8 469.4C163.3 468.9 163.8 468.3 164.3 467.3C164.9 466 165.6 464.1 166.2 462.7C166.9 461.1 167.7 460.1 168.4 458.9C169 457.9 169.6 456.8 170.2 454C170.7 451.7 171.2 448.4 171.7 441.6C171.97 438 172.23 433.5 172.5 430C172.93 424.4 173.37 421.6 173.8 418.9C174.23 416.1 174.67 413.5 175.1 412.9C175.67 412.2 176.23 415.2 176.8 417.5C177.4 419.9 178 421.6 178.6 421C179.5 420.1 180.4 414.2 181.3 409.9C182.23 405.5 183.17 402.8 184.1 402.8C184.7 402.8 185.3 403.8 185.9 406.9C186.63 410.7 187.37 417.6 188.1 421.9C188.43 423.9 188.77 425.3 189.1 427.1C189.8 430.7 190.5 435.5 191.2 438.7C191.6 440.5 192 441.8 192.4 442.2C193.5 443.3 194.6 438 195.7 434.1C196.4 431.6 197.1 429.8 197.8 428.7C198.3 427.9 198.9 427.5 199.4 427.6C200 427.7 200.6 428.3 201.2 430.2C201.9 432.5 202.6 436.5 203.3 440.4C204 444.3 204.7 448.1 205.4 452.2C206.2 456.9 207 462 207.8 467.4C208.33 471 208.87 474.7 209.4 478C209.9 481.2 210.4 484 210.9 485.5C211.2 486.5 211.6 486.9 211.9 486.2C212.3 485.4 212.7 483 213.1 482.5C213.5 482.1 213.9 483.7 214.3 487.1C214.67 490.2 215.03 494.9 215.4 499C215.9 504.6 216.4 509 216.9 512.2C217.47 515.8 218.03 517.8 218.6 518.3C219.1 518.7 219.5 518.1 220 516.7C220.4 515.5 220.8 513.7 221.2 511.5C221.9 507.5 222.6 502.3 223.3 502.7C223.7 503 224.1 505.1 224.5 507.2C224.87 509.1 225.23 510.9 225.6 511.5C226.4 512.7 227.1 508.7 227.9 509.1C228.5 509.5 229.1 512.6 229.7 515.2C230.33 517.9 230.97 519.9 231.6 518.9C232.23 517.9 232.87 513.9 233.5 508.2C234 503.7 234.5 498.1 235 491.3C235.37 486.4 235.73 480.7 236.1 480.4C236.5 480 236.9 485.8 237.3 491.4C237.8 498.4 238.3 504.9 238.8 509.7C239.27 514.2 239.73 517.3 240.2 518C240.67 518.7 241.13 517.1 241.6 515.2C241.93 513.8 242.27 512.3 242.6 511.7C242.9 511.2 243.3 511.7 243.6 511.9C244.3 512.2 245 511.2 245.7 510.4C246.4 509.7 247 509.2 247.7 509.4C248.5 509.6 249.4 510.8 250.2 512.9C251 515 251.9 518 252.7 516.9C253.5 515.8 254.4 510.5 255.2 510.9C255.9 511.3 256.5 515.3 257.2 515.9C257.7 516.3 258.3 514.7 258.8 513.2C259.3 511.8 259.8 510.7 260.3 511.4C260.8 512.2 261.3 514.8 261.8 513.8C262.23 513 262.67 509.4 263.1 506.8C263.43 504.8 263.77 503.4 264.1 503.2C264.53 503 264.97 505 265.4 508.3C265.9 512 266.4 517.5 266.9 518.6C267.33 519.6 267.77 517.3 268.2 514.2C268.53 511.9 268.87 509.1 269.2 506.4C269.53 503.8 269.87 501.2 270.2 497C270.4 494.5 270.6 491.5 270.8 485.6C270.93 481.7 271.07 476.6 271.2 470.7C271.33 464.8 271.47 458.1 271.6 452.3C271.83 442.1 272.07 434.3 272.3 434.3C272.53 434.3 272.77 441.9 273 452C273.13 457.8 273.27 464.4 273.4 470.5C273.53 476.7 273.67 482.4 273.8 487.6C273.9 491.6 274 495.3 274.1 498.3C274.3 504.3 274.5 507.6 274.7 510C275.27 516.5 275.83 515 276.4 514.9C277.2 514.8 277.9 517.2 278.7 517.7C279.3 518.1 279.9 517.3 280.5 516.9C281 516.6 281.5 516.4 282 516.2C282.6 515.9 283.2 515.5 283.8 514.7C284.3 514 284.9 512.9 285.4 512.9C285.9 512.9 286.3 513.7 286.8 514.3C287.2 514.8 287.7 515.2 288.1 515C288.7 514.7 289.2 513.2 289.8 511.7C290.3 510.3 290.9 508.8 291.4 508.7C291.9 508.6 292.3 509.6 292.8 510.5C293.2 511.2 293.7 511.9 294.1 512.6C294.8 513.7 295.5 515 296.2 516.2C296.9 517.5 297.7 518.6 298.4 518.7C299 518.7 299.6 518.1 300.2 517.3C300.9 516.4 301.7 515.4 302.4 514.2C303 513.1 303.7 511.9 304.3 512.1C305 512.4 305.7 514.4 306.4 514.4C307.1 514.3 307.9 511.9 308.6 512.9C309.4 514 310.2 519.2 311 518.2C311.6 517.4 312.2 513.1 312.8 509.8C313.33 506.8 313.87 504.6 314.4 502.1C314.8 500.2 315.2 498.2 315.6 498.5C316.03 498.8 316.47 501.8 316.9 505.2C317.4 509.1 317.9 513.4 318.4 515.8C318.8 517.7 319.2 518.3 319.6 518C320.13 517.6 320.67 515.3 321.2 512.7C321.7 510.2 322.2 507.3 322.7 506.7C323.2 506.2 323.7 507.9 324.2 509.7C324.7 511.5 325.2 513.3 325.7 514.2C326.5 515.4 327.2 514.3 328 515C328.7 515.8 329.5 518.3 330.2 518C330.6 517.8 331.1 516.6 331.5 515.3C331.93 513.9 332.37 512.4 332.8 508.4C333.2 504.8 333.6 499.1 334 496.8C334.5 494 335 496.5 335.5 498.3C336.17 500.6 336.83 501.5 337.5 505.3C338.1 508.7 338.7 514.4 339.3 517.2C339.8 519.6 340.3 519.9 340.8 518.8C341.3 517.7 341.8 515.3 342.3 512.7C342.8 510.1 343.3 507.2 343.8 505.2C344.37 502.9 344.93 501.7 345.5 502.2C346.2 502.9 346.9 506.4 347.6 509.7C348.23 512.7 348.87 515.7 349.5 515.2C350.1 514.7 350.8 510.7 351.4 508.2C351.9 506.3 352.4 505.3 352.9 505.2C353.5 505.1 354 506 354.6 508.2C355.2 510.6 355.8 514.4 356.4 516.7C357 518.9 357.6 519.6 358.2 518.8C358.7 518.1 359.2 516.3 359.7 515.8C360.2 515.3 360.7 516.1 361.2 516.5C361.9 517.1 362.7 516.9 363.4 516.5C364.2 516.1 364.9 515.3 365.7 514.2C366.2 513.5 366.7 512.6 367.2 511.1C367.7 509.7 368.2 507.7 368.7 508.2C369.2 508.8 369.7 512 370.2 514.1C370.83 516.8 371.47 517.9 372.1 518C372.73 518.1 373.37 517.2 374 514.1C374.5 511.7 375 507.9 375.5 505.2C375.87 503.2 376.23 501.8 376.6 502.2C377 502.7 377.4 505.4 377.8 508.2C378.3 511.6 378.8 515.1 379.3 515.8C379.8 516.4 380.3 514.2 380.8 511.2C381.3 508.1 381.8 504.2 382.3 503.7C382.8 503.3 383.3 506.2 383.8 509.7C384.2 512.5 384.6 515.6 385 517.2C385.63 519.8 386.27 518.6 386.9 518C387.3 517.6 387.7 517.5 388.1 517.3" class="ln" stroke="#2a2ad8" stroke-opacity="0.88"/>
<rect x="42.15" y="5.50" width="345.85" height="519.20" fill="none" stroke="#5a5a5a" stroke-width="1.4"/>
<g stroke="#5a5a5a" stroke-width="1.4">
<line x1="42.15" y1="178.10" x2="388.00" y2="178.10"/>
<line x1="42.15" y1="351.50" x2="388.00" y2="351.50"/>
</g>
<text class="tk" x="38.9" y="176.00" text-anchor="end">0.00</text>
<text class="tk" x="38.9" y="143.94" text-anchor="end">0.02</text>
<text class="tk" x="38.9" y="111.88" text-anchor="end">0.04</text>
<text class="tk" x="38.9" y="79.82" text-anchor="end">0.06</text>
<text class="tk" x="38.9" y="47.76" text-anchor="end">0.08</text>
<text class="tk" x="38.9" y="15.70" text-anchor="end">0.10</text>
<text class="tk" x="38.9" y="349.10" text-anchor="end">0.00</text>
<text class="tk" x="38.9" y="317.04" text-anchor="end">0.02</text>
<text class="tk" x="38.9" y="284.98" text-anchor="end">0.04</text>
<text class="tk" x="38.9" y="252.92" text-anchor="end">0.06</text>
<text class="tk" x="38.9" y="220.86" text-anchor="end">0.08</text>
<text class="tk" x="38.9" y="188.80" text-anchor="end">0.10</text>
<text class="tk" x="38.9" y="522.70" text-anchor="end">0.00</text>
<text class="tk" x="38.9" y="490.75" text-anchor="end">0.02</text>
<text class="tk" x="38.9" y="458.80" text-anchor="end">0.04</text>
<text class="tk" x="38.9" y="426.85" text-anchor="end">0.06</text>
<text class="tk" x="38.9" y="394.90" text-anchor="end">0.08</text>
<text class="tk" x="38.9" y="362.95" text-anchor="end">0.10</text>
<text class="tk" x="42.15" y="532.3" text-anchor="middle">1800</text>
<text class="tk" x="99.79" y="532.3" text-anchor="middle">1600</text>
<text class="tk" x="157.43" y="532.3" text-anchor="middle">1400</text>
<text class="tk" x="215.08" y="532.3" text-anchor="middle">1200</text>
<text class="tk" x="272.72" y="532.3" text-anchor="middle">1000</text>
<text class="tk" x="330.36" y="532.3" text-anchor="middle">800</text>
<text class="tk" x="388.00" y="532.3" text-anchor="middle">600</text>
<path d="M40.9 173.40H42M40.9 141.34H42M40.9 109.28H42M40.9 77.22H42M40.9 45.16H42M40.9 13.10H42M40.9 346.50H42M40.9 314.44H42M40.9 282.38H42M40.9 250.32H42M40.9 218.26H42M40.9 186.20H42M40.9 520.10H42M40.9 488.15H42M40.9 456.20H42M40.9 424.25H42M40.9 392.30H42M40.9 360.35H42M42.15 524.7V526.2M99.79 524.7V526.2M157.43 524.7V526.2M215.08 524.7V526.2M272.72 524.7V526.2M330.36 524.7V526.2M388.00 524.7V526.2" stroke="#555" stroke-width="0.8" fill="none"/>
<text class="bt" x="52.5" y="17.5" font-size="7.3" textLength="10.4" lengthAdjust="spacingAndGlyphs">(A)</text>
<text class="bt" x="54.0" y="189.7" font-size="7.3" textLength="9.1" lengthAdjust="spacingAndGlyphs">(B)</text>
<text class="bt" x="52.8" y="363.9" font-size="7.3" textLength="9.6" lengthAdjust="spacingAndGlyphs">(C)</text>
<text class="bt" x="189.8" y="19.8" font-size="8.7" textLength="41.6" lengthAdjust="spacingAndGlyphs">Cell Center</text>
<text class="bt" x="192.5" y="191.8" font-size="8.7" textLength="57.0" lengthAdjust="spacingAndGlyphs">Cell Cytoplasm</text>
<text class="bt" x="191.7" y="366.0" font-size="8.7" textLength="58.9" lengthAdjust="spacingAndGlyphs">Cell Membrane</text>
<line x1="317.3" y1="16.1" x2="334.8" y2="16.1" stroke="#3a3a3a" stroke-width="1"/>
<text class="bt" x="340.5" y="17.4" font-size="8" textLength="28.2" lengthAdjust="spacingAndGlyphs">MBM – T</text>
<line x1="317.3" y1="30.3" x2="334.8" y2="30.3" stroke="#e85060" stroke-width="1"/>
<text class="bt" x="340.5" y="32.2" font-size="8" textLength="25.4" lengthAdjust="spacingAndGlyphs">NIH3T3</text>
<line x1="317.3" y1="44.9" x2="334.8" y2="44.9" stroke="#6a6ad0" stroke-width="1"/>
<text class="bt" x="340.5" y="48.6" font-size="8" textLength="14.3" lengthAdjust="spacingAndGlyphs">NFC</text>
<text class="bt" x="176.6" y="543.8" font-size="9.1">Raman shift (cm<tspan dx="0.6" dy="-3" font-size="7">−1</tspan><tspan dx="1.6" dy="3">)</tspan></text>
<text class="bt" font-size="8.8" transform="translate(10.8,304.5) rotate(-90)">Raman Intensity (a.u.)</text>
</svg></body></html>
